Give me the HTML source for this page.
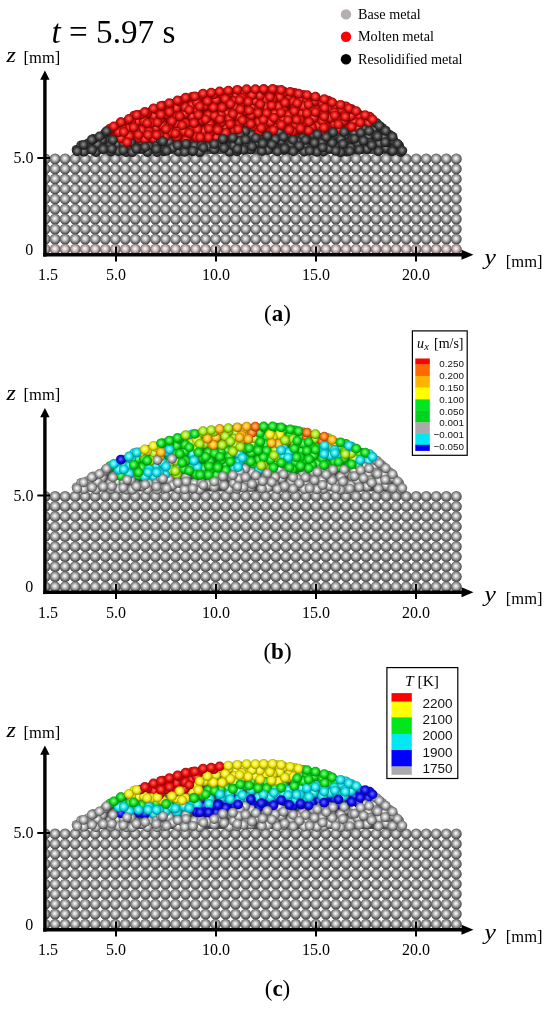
<!DOCTYPE html><html><head><meta charset="utf-8"><title>Figure</title><style>html,body{margin:0;padding:0;background:#fff}svg{display:block}</style></head><body><svg width="550" height="1009" viewBox="0 0 550 1009"><defs><clipPath id="cl"><rect x="45" y="140" width="430" height="120"/></clipPath><radialGradient id="sg" cx="0.48" cy="0.46" r="0.54" fx="0.46" fy="0.44"><stop offset="0" stop-color="#ffffff"/><stop offset="0.22" stop-color="#dcdcdc"/><stop offset="0.55" stop-color="#9c9c9c"/><stop offset="0.8" stop-color="#656565"/><stop offset="1" stop-color="#2e2e2e"/></radialGradient><radialGradient id="sh" cx="0.48" cy="0.46" r="0.54" fx="0.46" fy="0.44"><stop offset="0" stop-color="#ffffff"/><stop offset="0.22" stop-color="#e2e2e2"/><stop offset="0.55" stop-color="#acacac"/><stop offset="0.8" stop-color="#787878"/><stop offset="1" stop-color="#444444"/></radialGradient><radialGradient id="sp" cx="0.48" cy="0.46" r="0.54" fx="0.46" fy="0.44"><stop offset="0" stop-color="#ffffff"/><stop offset="0.22" stop-color="#e8e1e1"/><stop offset="0.55" stop-color="#bcaaaa"/><stop offset="0.8" stop-color="#7e6f6f"/><stop offset="1" stop-color="#403434"/></radialGradient><radialGradient id="sk" cx="0.48" cy="0.46" r="0.54" fx="0.46" fy="0.44"><stop offset="0" stop-color="#8e8e8e"/><stop offset="0.22" stop-color="#737373"/><stop offset="0.55" stop-color="#424242"/><stop offset="0.8" stop-color="#282828"/><stop offset="1" stop-color="#0e0e0e"/></radialGradient><radialGradient id="sR" cx="0.48" cy="0.46" r="0.54" fx="0.46" fy="0.44"><stop offset="0" stop-color="#ff6252"/><stop offset="0.22" stop-color="#f7463c"/><stop offset="0.55" stop-color="#e81212"/><stop offset="0.8" stop-color="#a40909"/><stop offset="1" stop-color="#600000"/></radialGradient><radialGradient id="sr" cx="0.48" cy="0.46" r="0.54" fx="0.46" fy="0.44"><stop offset="0" stop-color="#ff6a5a"/><stop offset="0.22" stop-color="#f94a40"/><stop offset="0.55" stop-color="#ee1010"/><stop offset="0.8" stop-color="#b70808"/><stop offset="1" stop-color="#800000"/></radialGradient><radialGradient id="sy" cx="0.48" cy="0.46" r="0.54" fx="0.46" fy="0.44"><stop offset="0" stop-color="#ffff9a"/><stop offset="0.22" stop-color="#faf86a"/><stop offset="0.55" stop-color="#f2ec10"/><stop offset="0.8" stop-color="#beb708"/><stop offset="1" stop-color="#8a8200"/></radialGradient><radialGradient id="sG" cx="0.48" cy="0.46" r="0.54" fx="0.46" fy="0.44"><stop offset="0" stop-color="#8aff8a"/><stop offset="0.22" stop-color="#5ff364"/><stop offset="0.55" stop-color="#10dc1c"/><stop offset="0.8" stop-color="#08ab12"/><stop offset="1" stop-color="#007a08"/></radialGradient><radialGradient id="sc" cx="0.48" cy="0.46" r="0.54" fx="0.46" fy="0.44"><stop offset="0" stop-color="#a8ffff"/><stop offset="0.22" stop-color="#74f4f8"/><stop offset="0.55" stop-color="#14e0ea"/><stop offset="0.8" stop-color="#0ab0ba"/><stop offset="1" stop-color="#00808a"/></radialGradient><radialGradient id="sb" cx="0.48" cy="0.46" r="0.54" fx="0.46" fy="0.44"><stop offset="0" stop-color="#6a6aff"/><stop offset="0.22" stop-color="#4a4af9"/><stop offset="0.55" stop-color="#1010ee"/><stop offset="0.8" stop-color="#0808b7"/><stop offset="1" stop-color="#000080"/></radialGradient><radialGradient id="sa" cx="0.48" cy="0.46" r="0.54" fx="0.46" fy="0.44"><stop offset="0" stop-color="#ffe890"/><stop offset="0.22" stop-color="#ffd763"/><stop offset="0.55" stop-color="#ffb810"/><stop offset="0.8" stop-color="#c48908"/><stop offset="1" stop-color="#8a5a00"/></radialGradient><radialGradient id="so" cx="0.48" cy="0.46" r="0.54" fx="0.46" fy="0.44"><stop offset="0" stop-color="#ffc08a"/><stop offset="0.22" stop-color="#ffa55f"/><stop offset="0.55" stop-color="#ff7410"/><stop offset="0.8" stop-color="#c45208"/><stop offset="1" stop-color="#8a3000"/></radialGradient><radialGradient id="sl" cx="0.48" cy="0.46" r="0.54" fx="0.46" fy="0.44"><stop offset="0" stop-color="#e4ff9a"/><stop offset="0.22" stop-color="#cef86a"/><stop offset="0.55" stop-color="#a6ea10"/><stop offset="0.8" stop-color="#78b208"/><stop offset="1" stop-color="#4a7a00"/></radialGradient></defs><rect width="550" height="1009" fill="#fff"/><g transform="translate(0,0)"><g clip-path="url(#cl)"><circle cx="45.1" cy="158.9" r="5.4" fill="url(#sg)"/><circle cx="55.1" cy="158.9" r="5.4" fill="url(#sg)"/><circle cx="65.1" cy="158.9" r="5.4" fill="url(#sg)"/><circle cx="75.2" cy="158.9" r="5.4" fill="url(#sg)"/><circle cx="85.2" cy="158.9" r="5.4" fill="url(#sg)"/><circle cx="95.2" cy="158.9" r="5.4" fill="url(#sg)"/><circle cx="105.3" cy="158.9" r="5.4" fill="url(#sg)"/><circle cx="115.3" cy="158.9" r="5.4" fill="url(#sg)"/><circle cx="125.3" cy="158.9" r="5.4" fill="url(#sg)"/><circle cx="135.3" cy="158.9" r="5.4" fill="url(#sg)"/><circle cx="145.4" cy="158.9" r="5.4" fill="url(#sg)"/><circle cx="155.4" cy="158.9" r="5.4" fill="url(#sg)"/><circle cx="165.4" cy="158.9" r="5.4" fill="url(#sg)"/><circle cx="175.5" cy="158.9" r="5.4" fill="url(#sg)"/><circle cx="185.5" cy="158.9" r="5.4" fill="url(#sg)"/><circle cx="195.5" cy="158.9" r="5.4" fill="url(#sg)"/><circle cx="205.6" cy="158.9" r="5.4" fill="url(#sg)"/><circle cx="215.6" cy="158.9" r="5.4" fill="url(#sg)"/><circle cx="225.6" cy="158.9" r="5.4" fill="url(#sg)"/><circle cx="235.6" cy="158.9" r="5.4" fill="url(#sg)"/><circle cx="245.7" cy="158.9" r="5.4" fill="url(#sg)"/><circle cx="255.7" cy="158.9" r="5.4" fill="url(#sg)"/><circle cx="265.7" cy="158.9" r="5.4" fill="url(#sg)"/><circle cx="275.8" cy="158.9" r="5.4" fill="url(#sg)"/><circle cx="285.8" cy="158.9" r="5.4" fill="url(#sg)"/><circle cx="295.8" cy="158.9" r="5.4" fill="url(#sg)"/><circle cx="305.9" cy="158.9" r="5.4" fill="url(#sg)"/><circle cx="315.9" cy="158.9" r="5.4" fill="url(#sg)"/><circle cx="325.9" cy="158.9" r="5.4" fill="url(#sg)"/><circle cx="335.9" cy="158.9" r="5.4" fill="url(#sg)"/><circle cx="346.0" cy="158.9" r="5.4" fill="url(#sg)"/><circle cx="356.0" cy="158.9" r="5.4" fill="url(#sg)"/><circle cx="366.0" cy="158.9" r="5.4" fill="url(#sg)"/><circle cx="376.1" cy="158.9" r="5.4" fill="url(#sg)"/><circle cx="386.1" cy="158.9" r="5.4" fill="url(#sg)"/><circle cx="396.1" cy="158.9" r="5.4" fill="url(#sg)"/><circle cx="406.2" cy="158.9" r="5.4" fill="url(#sg)"/><circle cx="416.2" cy="158.9" r="5.4" fill="url(#sg)"/><circle cx="426.2" cy="158.9" r="5.4" fill="url(#sg)"/><circle cx="436.2" cy="158.9" r="5.4" fill="url(#sg)"/><circle cx="446.3" cy="158.9" r="5.4" fill="url(#sg)"/><circle cx="456.3" cy="158.9" r="5.4" fill="url(#sg)"/><circle cx="45.1" cy="168.9" r="5.4" fill="url(#sg)"/><circle cx="55.1" cy="168.9" r="5.4" fill="url(#sg)"/><circle cx="65.1" cy="168.9" r="5.4" fill="url(#sg)"/><circle cx="75.2" cy="168.9" r="5.4" fill="url(#sg)"/><circle cx="85.2" cy="168.9" r="5.4" fill="url(#sg)"/><circle cx="95.2" cy="168.9" r="5.4" fill="url(#sg)"/><circle cx="105.3" cy="168.9" r="5.4" fill="url(#sg)"/><circle cx="115.3" cy="168.9" r="5.4" fill="url(#sg)"/><circle cx="125.3" cy="168.9" r="5.4" fill="url(#sg)"/><circle cx="135.3" cy="168.9" r="5.4" fill="url(#sg)"/><circle cx="145.4" cy="168.9" r="5.4" fill="url(#sg)"/><circle cx="155.4" cy="168.9" r="5.4" fill="url(#sg)"/><circle cx="165.4" cy="168.9" r="5.4" fill="url(#sg)"/><circle cx="175.5" cy="168.9" r="5.4" fill="url(#sg)"/><circle cx="185.5" cy="168.9" r="5.4" fill="url(#sg)"/><circle cx="195.5" cy="168.9" r="5.4" fill="url(#sg)"/><circle cx="205.6" cy="168.9" r="5.4" fill="url(#sg)"/><circle cx="215.6" cy="168.9" r="5.4" fill="url(#sg)"/><circle cx="225.6" cy="168.9" r="5.4" fill="url(#sg)"/><circle cx="235.6" cy="168.9" r="5.4" fill="url(#sg)"/><circle cx="245.7" cy="168.9" r="5.4" fill="url(#sg)"/><circle cx="255.7" cy="168.9" r="5.4" fill="url(#sg)"/><circle cx="265.7" cy="168.9" r="5.4" fill="url(#sg)"/><circle cx="275.8" cy="168.9" r="5.4" fill="url(#sg)"/><circle cx="285.8" cy="168.9" r="5.4" fill="url(#sg)"/><circle cx="295.8" cy="168.9" r="5.4" fill="url(#sg)"/><circle cx="305.9" cy="168.9" r="5.4" fill="url(#sg)"/><circle cx="315.9" cy="168.9" r="5.4" fill="url(#sg)"/><circle cx="325.9" cy="168.9" r="5.4" fill="url(#sg)"/><circle cx="335.9" cy="168.9" r="5.4" fill="url(#sg)"/><circle cx="346.0" cy="168.9" r="5.4" fill="url(#sg)"/><circle cx="356.0" cy="168.9" r="5.4" fill="url(#sg)"/><circle cx="366.0" cy="168.9" r="5.4" fill="url(#sg)"/><circle cx="376.1" cy="168.9" r="5.4" fill="url(#sg)"/><circle cx="386.1" cy="168.9" r="5.4" fill="url(#sg)"/><circle cx="396.1" cy="168.9" r="5.4" fill="url(#sg)"/><circle cx="406.2" cy="168.9" r="5.4" fill="url(#sg)"/><circle cx="416.2" cy="168.9" r="5.4" fill="url(#sg)"/><circle cx="426.2" cy="168.9" r="5.4" fill="url(#sg)"/><circle cx="436.2" cy="168.9" r="5.4" fill="url(#sg)"/><circle cx="446.3" cy="168.9" r="5.4" fill="url(#sg)"/><circle cx="456.3" cy="168.9" r="5.4" fill="url(#sg)"/><circle cx="45.1" cy="179.0" r="5.4" fill="url(#sg)"/><circle cx="55.1" cy="179.0" r="5.4" fill="url(#sg)"/><circle cx="65.1" cy="179.0" r="5.4" fill="url(#sg)"/><circle cx="75.2" cy="179.0" r="5.4" fill="url(#sg)"/><circle cx="85.2" cy="179.0" r="5.4" fill="url(#sg)"/><circle cx="95.2" cy="179.0" r="5.4" fill="url(#sg)"/><circle cx="105.3" cy="179.0" r="5.4" fill="url(#sg)"/><circle cx="115.3" cy="179.0" r="5.4" fill="url(#sg)"/><circle cx="125.3" cy="179.0" r="5.4" fill="url(#sg)"/><circle cx="135.3" cy="179.0" r="5.4" fill="url(#sg)"/><circle cx="145.4" cy="179.0" r="5.4" fill="url(#sg)"/><circle cx="155.4" cy="179.0" r="5.4" fill="url(#sg)"/><circle cx="165.4" cy="179.0" r="5.4" fill="url(#sg)"/><circle cx="175.5" cy="179.0" r="5.4" fill="url(#sg)"/><circle cx="185.5" cy="179.0" r="5.4" fill="url(#sg)"/><circle cx="195.5" cy="179.0" r="5.4" fill="url(#sg)"/><circle cx="205.6" cy="179.0" r="5.4" fill="url(#sg)"/><circle cx="215.6" cy="179.0" r="5.4" fill="url(#sg)"/><circle cx="225.6" cy="179.0" r="5.4" fill="url(#sg)"/><circle cx="235.6" cy="179.0" r="5.4" fill="url(#sg)"/><circle cx="245.7" cy="179.0" r="5.4" fill="url(#sg)"/><circle cx="255.7" cy="179.0" r="5.4" fill="url(#sg)"/><circle cx="265.7" cy="179.0" r="5.4" fill="url(#sg)"/><circle cx="275.8" cy="179.0" r="5.4" fill="url(#sg)"/><circle cx="285.8" cy="179.0" r="5.4" fill="url(#sg)"/><circle cx="295.8" cy="179.0" r="5.4" fill="url(#sg)"/><circle cx="305.9" cy="179.0" r="5.4" fill="url(#sg)"/><circle cx="315.9" cy="179.0" r="5.4" fill="url(#sg)"/><circle cx="325.9" cy="179.0" r="5.4" fill="url(#sg)"/><circle cx="335.9" cy="179.0" r="5.4" fill="url(#sg)"/><circle cx="346.0" cy="179.0" r="5.4" fill="url(#sg)"/><circle cx="356.0" cy="179.0" r="5.4" fill="url(#sg)"/><circle cx="366.0" cy="179.0" r="5.4" fill="url(#sg)"/><circle cx="376.1" cy="179.0" r="5.4" fill="url(#sg)"/><circle cx="386.1" cy="179.0" r="5.4" fill="url(#sg)"/><circle cx="396.1" cy="179.0" r="5.4" fill="url(#sg)"/><circle cx="406.2" cy="179.0" r="5.4" fill="url(#sg)"/><circle cx="416.2" cy="179.0" r="5.4" fill="url(#sg)"/><circle cx="426.2" cy="179.0" r="5.4" fill="url(#sg)"/><circle cx="436.2" cy="179.0" r="5.4" fill="url(#sg)"/><circle cx="446.3" cy="179.0" r="5.4" fill="url(#sg)"/><circle cx="456.3" cy="179.0" r="5.4" fill="url(#sg)"/><circle cx="45.1" cy="189.0" r="5.4" fill="url(#sg)"/><circle cx="55.1" cy="189.0" r="5.4" fill="url(#sg)"/><circle cx="65.1" cy="189.0" r="5.4" fill="url(#sg)"/><circle cx="75.2" cy="189.0" r="5.4" fill="url(#sg)"/><circle cx="85.2" cy="189.0" r="5.4" fill="url(#sg)"/><circle cx="95.2" cy="189.0" r="5.4" fill="url(#sg)"/><circle cx="105.3" cy="189.0" r="5.4" fill="url(#sg)"/><circle cx="115.3" cy="189.0" r="5.4" fill="url(#sg)"/><circle cx="125.3" cy="189.0" r="5.4" fill="url(#sg)"/><circle cx="135.3" cy="189.0" r="5.4" fill="url(#sg)"/><circle cx="145.4" cy="189.0" r="5.4" fill="url(#sg)"/><circle cx="155.4" cy="189.0" r="5.4" fill="url(#sg)"/><circle cx="165.4" cy="189.0" r="5.4" fill="url(#sg)"/><circle cx="175.5" cy="189.0" r="5.4" fill="url(#sg)"/><circle cx="185.5" cy="189.0" r="5.4" fill="url(#sg)"/><circle cx="195.5" cy="189.0" r="5.4" fill="url(#sg)"/><circle cx="205.6" cy="189.0" r="5.4" fill="url(#sg)"/><circle cx="215.6" cy="189.0" r="5.4" fill="url(#sg)"/><circle cx="225.6" cy="189.0" r="5.4" fill="url(#sg)"/><circle cx="235.6" cy="189.0" r="5.4" fill="url(#sg)"/><circle cx="245.7" cy="189.0" r="5.4" fill="url(#sg)"/><circle cx="255.7" cy="189.0" r="5.4" fill="url(#sg)"/><circle cx="265.7" cy="189.0" r="5.4" fill="url(#sg)"/><circle cx="275.8" cy="189.0" r="5.4" fill="url(#sg)"/><circle cx="285.8" cy="189.0" r="5.4" fill="url(#sg)"/><circle cx="295.8" cy="189.0" r="5.4" fill="url(#sg)"/><circle cx="305.9" cy="189.0" r="5.4" fill="url(#sg)"/><circle cx="315.9" cy="189.0" r="5.4" fill="url(#sg)"/><circle cx="325.9" cy="189.0" r="5.4" fill="url(#sg)"/><circle cx="335.9" cy="189.0" r="5.4" fill="url(#sg)"/><circle cx="346.0" cy="189.0" r="5.4" fill="url(#sg)"/><circle cx="356.0" cy="189.0" r="5.4" fill="url(#sg)"/><circle cx="366.0" cy="189.0" r="5.4" fill="url(#sg)"/><circle cx="376.1" cy="189.0" r="5.4" fill="url(#sg)"/><circle cx="386.1" cy="189.0" r="5.4" fill="url(#sg)"/><circle cx="396.1" cy="189.0" r="5.4" fill="url(#sg)"/><circle cx="406.2" cy="189.0" r="5.4" fill="url(#sg)"/><circle cx="416.2" cy="189.0" r="5.4" fill="url(#sg)"/><circle cx="426.2" cy="189.0" r="5.4" fill="url(#sg)"/><circle cx="436.2" cy="189.0" r="5.4" fill="url(#sg)"/><circle cx="446.3" cy="189.0" r="5.4" fill="url(#sg)"/><circle cx="456.3" cy="189.0" r="5.4" fill="url(#sg)"/><circle cx="45.1" cy="199.0" r="5.4" fill="url(#sg)"/><circle cx="55.1" cy="199.0" r="5.4" fill="url(#sg)"/><circle cx="65.1" cy="199.0" r="5.4" fill="url(#sg)"/><circle cx="75.2" cy="199.0" r="5.4" fill="url(#sg)"/><circle cx="85.2" cy="199.0" r="5.4" fill="url(#sg)"/><circle cx="95.2" cy="199.0" r="5.4" fill="url(#sg)"/><circle cx="105.3" cy="199.0" r="5.4" fill="url(#sg)"/><circle cx="115.3" cy="199.0" r="5.4" fill="url(#sg)"/><circle cx="125.3" cy="199.0" r="5.4" fill="url(#sg)"/><circle cx="135.3" cy="199.0" r="5.4" fill="url(#sg)"/><circle cx="145.4" cy="199.0" r="5.4" fill="url(#sg)"/><circle cx="155.4" cy="199.0" r="5.4" fill="url(#sg)"/><circle cx="165.4" cy="199.0" r="5.4" fill="url(#sg)"/><circle cx="175.5" cy="199.0" r="5.4" fill="url(#sg)"/><circle cx="185.5" cy="199.0" r="5.4" fill="url(#sg)"/><circle cx="195.5" cy="199.0" r="5.4" fill="url(#sg)"/><circle cx="205.6" cy="199.0" r="5.4" fill="url(#sg)"/><circle cx="215.6" cy="199.0" r="5.4" fill="url(#sg)"/><circle cx="225.6" cy="199.0" r="5.4" fill="url(#sg)"/><circle cx="235.6" cy="199.0" r="5.4" fill="url(#sg)"/><circle cx="245.7" cy="199.0" r="5.4" fill="url(#sg)"/><circle cx="255.7" cy="199.0" r="5.4" fill="url(#sg)"/><circle cx="265.7" cy="199.0" r="5.4" fill="url(#sg)"/><circle cx="275.8" cy="199.0" r="5.4" fill="url(#sg)"/><circle cx="285.8" cy="199.0" r="5.4" fill="url(#sg)"/><circle cx="295.8" cy="199.0" r="5.4" fill="url(#sg)"/><circle cx="305.9" cy="199.0" r="5.4" fill="url(#sg)"/><circle cx="315.9" cy="199.0" r="5.4" fill="url(#sg)"/><circle cx="325.9" cy="199.0" r="5.4" fill="url(#sg)"/><circle cx="335.9" cy="199.0" r="5.4" fill="url(#sg)"/><circle cx="346.0" cy="199.0" r="5.4" fill="url(#sg)"/><circle cx="356.0" cy="199.0" r="5.4" fill="url(#sg)"/><circle cx="366.0" cy="199.0" r="5.4" fill="url(#sg)"/><circle cx="376.1" cy="199.0" r="5.4" fill="url(#sg)"/><circle cx="386.1" cy="199.0" r="5.4" fill="url(#sg)"/><circle cx="396.1" cy="199.0" r="5.4" fill="url(#sg)"/><circle cx="406.2" cy="199.0" r="5.4" fill="url(#sg)"/><circle cx="416.2" cy="199.0" r="5.4" fill="url(#sg)"/><circle cx="426.2" cy="199.0" r="5.4" fill="url(#sg)"/><circle cx="436.2" cy="199.0" r="5.4" fill="url(#sg)"/><circle cx="446.3" cy="199.0" r="5.4" fill="url(#sg)"/><circle cx="456.3" cy="199.0" r="5.4" fill="url(#sg)"/><circle cx="45.1" cy="209.1" r="5.4" fill="url(#sg)"/><circle cx="55.1" cy="209.1" r="5.4" fill="url(#sg)"/><circle cx="65.1" cy="209.1" r="5.4" fill="url(#sg)"/><circle cx="75.2" cy="209.1" r="5.4" fill="url(#sg)"/><circle cx="85.2" cy="209.1" r="5.4" fill="url(#sg)"/><circle cx="95.2" cy="209.1" r="5.4" fill="url(#sg)"/><circle cx="105.3" cy="209.1" r="5.4" fill="url(#sg)"/><circle cx="115.3" cy="209.1" r="5.4" fill="url(#sg)"/><circle cx="125.3" cy="209.1" r="5.4" fill="url(#sg)"/><circle cx="135.3" cy="209.1" r="5.4" fill="url(#sg)"/><circle cx="145.4" cy="209.1" r="5.4" fill="url(#sg)"/><circle cx="155.4" cy="209.1" r="5.4" fill="url(#sg)"/><circle cx="165.4" cy="209.1" r="5.4" fill="url(#sg)"/><circle cx="175.5" cy="209.1" r="5.4" fill="url(#sg)"/><circle cx="185.5" cy="209.1" r="5.4" fill="url(#sg)"/><circle cx="195.5" cy="209.1" r="5.4" fill="url(#sg)"/><circle cx="205.6" cy="209.1" r="5.4" fill="url(#sg)"/><circle cx="215.6" cy="209.1" r="5.4" fill="url(#sg)"/><circle cx="225.6" cy="209.1" r="5.4" fill="url(#sg)"/><circle cx="235.6" cy="209.1" r="5.4" fill="url(#sg)"/><circle cx="245.7" cy="209.1" r="5.4" fill="url(#sg)"/><circle cx="255.7" cy="209.1" r="5.4" fill="url(#sg)"/><circle cx="265.7" cy="209.1" r="5.4" fill="url(#sg)"/><circle cx="275.8" cy="209.1" r="5.4" fill="url(#sg)"/><circle cx="285.8" cy="209.1" r="5.4" fill="url(#sg)"/><circle cx="295.8" cy="209.1" r="5.4" fill="url(#sg)"/><circle cx="305.9" cy="209.1" r="5.4" fill="url(#sg)"/><circle cx="315.9" cy="209.1" r="5.4" fill="url(#sg)"/><circle cx="325.9" cy="209.1" r="5.4" fill="url(#sg)"/><circle cx="335.9" cy="209.1" r="5.4" fill="url(#sg)"/><circle cx="346.0" cy="209.1" r="5.4" fill="url(#sg)"/><circle cx="356.0" cy="209.1" r="5.4" fill="url(#sg)"/><circle cx="366.0" cy="209.1" r="5.4" fill="url(#sg)"/><circle cx="376.1" cy="209.1" r="5.4" fill="url(#sg)"/><circle cx="386.1" cy="209.1" r="5.4" fill="url(#sg)"/><circle cx="396.1" cy="209.1" r="5.4" fill="url(#sg)"/><circle cx="406.2" cy="209.1" r="5.4" fill="url(#sg)"/><circle cx="416.2" cy="209.1" r="5.4" fill="url(#sg)"/><circle cx="426.2" cy="209.1" r="5.4" fill="url(#sg)"/><circle cx="436.2" cy="209.1" r="5.4" fill="url(#sg)"/><circle cx="446.3" cy="209.1" r="5.4" fill="url(#sg)"/><circle cx="456.3" cy="209.1" r="5.4" fill="url(#sg)"/><circle cx="45.1" cy="219.1" r="5.4" fill="url(#sg)"/><circle cx="55.1" cy="219.1" r="5.4" fill="url(#sg)"/><circle cx="65.1" cy="219.1" r="5.4" fill="url(#sg)"/><circle cx="75.2" cy="219.1" r="5.4" fill="url(#sg)"/><circle cx="85.2" cy="219.1" r="5.4" fill="url(#sg)"/><circle cx="95.2" cy="219.1" r="5.4" fill="url(#sg)"/><circle cx="105.3" cy="219.1" r="5.4" fill="url(#sg)"/><circle cx="115.3" cy="219.1" r="5.4" fill="url(#sg)"/><circle cx="125.3" cy="219.1" r="5.4" fill="url(#sg)"/><circle cx="135.3" cy="219.1" r="5.4" fill="url(#sg)"/><circle cx="145.4" cy="219.1" r="5.4" fill="url(#sg)"/><circle cx="155.4" cy="219.1" r="5.4" fill="url(#sg)"/><circle cx="165.4" cy="219.1" r="5.4" fill="url(#sg)"/><circle cx="175.5" cy="219.1" r="5.4" fill="url(#sg)"/><circle cx="185.5" cy="219.1" r="5.4" fill="url(#sg)"/><circle cx="195.5" cy="219.1" r="5.4" fill="url(#sg)"/><circle cx="205.6" cy="219.1" r="5.4" fill="url(#sg)"/><circle cx="215.6" cy="219.1" r="5.4" fill="url(#sg)"/><circle cx="225.6" cy="219.1" r="5.4" fill="url(#sg)"/><circle cx="235.6" cy="219.1" r="5.4" fill="url(#sg)"/><circle cx="245.7" cy="219.1" r="5.4" fill="url(#sg)"/><circle cx="255.7" cy="219.1" r="5.4" fill="url(#sg)"/><circle cx="265.7" cy="219.1" r="5.4" fill="url(#sg)"/><circle cx="275.8" cy="219.1" r="5.4" fill="url(#sg)"/><circle cx="285.8" cy="219.1" r="5.4" fill="url(#sg)"/><circle cx="295.8" cy="219.1" r="5.4" fill="url(#sg)"/><circle cx="305.9" cy="219.1" r="5.4" fill="url(#sg)"/><circle cx="315.9" cy="219.1" r="5.4" fill="url(#sg)"/><circle cx="325.9" cy="219.1" r="5.4" fill="url(#sg)"/><circle cx="335.9" cy="219.1" r="5.4" fill="url(#sg)"/><circle cx="346.0" cy="219.1" r="5.4" fill="url(#sg)"/><circle cx="356.0" cy="219.1" r="5.4" fill="url(#sg)"/><circle cx="366.0" cy="219.1" r="5.4" fill="url(#sg)"/><circle cx="376.1" cy="219.1" r="5.4" fill="url(#sg)"/><circle cx="386.1" cy="219.1" r="5.4" fill="url(#sg)"/><circle cx="396.1" cy="219.1" r="5.4" fill="url(#sg)"/><circle cx="406.2" cy="219.1" r="5.4" fill="url(#sg)"/><circle cx="416.2" cy="219.1" r="5.4" fill="url(#sg)"/><circle cx="426.2" cy="219.1" r="5.4" fill="url(#sg)"/><circle cx="436.2" cy="219.1" r="5.4" fill="url(#sg)"/><circle cx="446.3" cy="219.1" r="5.4" fill="url(#sg)"/><circle cx="456.3" cy="219.1" r="5.4" fill="url(#sg)"/><circle cx="45.1" cy="229.1" r="5.4" fill="url(#sg)"/><circle cx="55.1" cy="229.1" r="5.4" fill="url(#sg)"/><circle cx="65.1" cy="229.1" r="5.4" fill="url(#sg)"/><circle cx="75.2" cy="229.1" r="5.4" fill="url(#sg)"/><circle cx="85.2" cy="229.1" r="5.4" fill="url(#sg)"/><circle cx="95.2" cy="229.1" r="5.4" fill="url(#sg)"/><circle cx="105.3" cy="229.1" r="5.4" fill="url(#sg)"/><circle cx="115.3" cy="229.1" r="5.4" fill="url(#sg)"/><circle cx="125.3" cy="229.1" r="5.4" fill="url(#sg)"/><circle cx="135.3" cy="229.1" r="5.4" fill="url(#sg)"/><circle cx="145.4" cy="229.1" r="5.4" fill="url(#sg)"/><circle cx="155.4" cy="229.1" r="5.4" fill="url(#sg)"/><circle cx="165.4" cy="229.1" r="5.4" fill="url(#sg)"/><circle cx="175.5" cy="229.1" r="5.4" fill="url(#sg)"/><circle cx="185.5" cy="229.1" r="5.4" fill="url(#sg)"/><circle cx="195.5" cy="229.1" r="5.4" fill="url(#sg)"/><circle cx="205.6" cy="229.1" r="5.4" fill="url(#sg)"/><circle cx="215.6" cy="229.1" r="5.4" fill="url(#sg)"/><circle cx="225.6" cy="229.1" r="5.4" fill="url(#sg)"/><circle cx="235.6" cy="229.1" r="5.4" fill="url(#sg)"/><circle cx="245.7" cy="229.1" r="5.4" fill="url(#sg)"/><circle cx="255.7" cy="229.1" r="5.4" fill="url(#sg)"/><circle cx="265.7" cy="229.1" r="5.4" fill="url(#sg)"/><circle cx="275.8" cy="229.1" r="5.4" fill="url(#sg)"/><circle cx="285.8" cy="229.1" r="5.4" fill="url(#sg)"/><circle cx="295.8" cy="229.1" r="5.4" fill="url(#sg)"/><circle cx="305.9" cy="229.1" r="5.4" fill="url(#sg)"/><circle cx="315.9" cy="229.1" r="5.4" fill="url(#sg)"/><circle cx="325.9" cy="229.1" r="5.4" fill="url(#sg)"/><circle cx="335.9" cy="229.1" r="5.4" fill="url(#sg)"/><circle cx="346.0" cy="229.1" r="5.4" fill="url(#sg)"/><circle cx="356.0" cy="229.1" r="5.4" fill="url(#sg)"/><circle cx="366.0" cy="229.1" r="5.4" fill="url(#sg)"/><circle cx="376.1" cy="229.1" r="5.4" fill="url(#sg)"/><circle cx="386.1" cy="229.1" r="5.4" fill="url(#sg)"/><circle cx="396.1" cy="229.1" r="5.4" fill="url(#sg)"/><circle cx="406.2" cy="229.1" r="5.4" fill="url(#sg)"/><circle cx="416.2" cy="229.1" r="5.4" fill="url(#sg)"/><circle cx="426.2" cy="229.1" r="5.4" fill="url(#sg)"/><circle cx="436.2" cy="229.1" r="5.4" fill="url(#sg)"/><circle cx="446.3" cy="229.1" r="5.4" fill="url(#sg)"/><circle cx="456.3" cy="229.1" r="5.4" fill="url(#sg)"/><circle cx="45.1" cy="239.1" r="5.4" fill="url(#sg)"/><circle cx="55.1" cy="239.1" r="5.4" fill="url(#sg)"/><circle cx="65.1" cy="239.1" r="5.4" fill="url(#sg)"/><circle cx="75.2" cy="239.1" r="5.4" fill="url(#sg)"/><circle cx="85.2" cy="239.1" r="5.4" fill="url(#sg)"/><circle cx="95.2" cy="239.1" r="5.4" fill="url(#sg)"/><circle cx="105.3" cy="239.1" r="5.4" fill="url(#sg)"/><circle cx="115.3" cy="239.1" r="5.4" fill="url(#sg)"/><circle cx="125.3" cy="239.1" r="5.4" fill="url(#sg)"/><circle cx="135.3" cy="239.1" r="5.4" fill="url(#sg)"/><circle cx="145.4" cy="239.1" r="5.4" fill="url(#sg)"/><circle cx="155.4" cy="239.1" r="5.4" fill="url(#sg)"/><circle cx="165.4" cy="239.1" r="5.4" fill="url(#sg)"/><circle cx="175.5" cy="239.1" r="5.4" fill="url(#sg)"/><circle cx="185.5" cy="239.1" r="5.4" fill="url(#sg)"/><circle cx="195.5" cy="239.1" r="5.4" fill="url(#sg)"/><circle cx="205.6" cy="239.1" r="5.4" fill="url(#sg)"/><circle cx="215.6" cy="239.1" r="5.4" fill="url(#sg)"/><circle cx="225.6" cy="239.1" r="5.4" fill="url(#sg)"/><circle cx="235.6" cy="239.1" r="5.4" fill="url(#sg)"/><circle cx="245.7" cy="239.1" r="5.4" fill="url(#sg)"/><circle cx="255.7" cy="239.1" r="5.4" fill="url(#sg)"/><circle cx="265.7" cy="239.1" r="5.4" fill="url(#sg)"/><circle cx="275.8" cy="239.1" r="5.4" fill="url(#sg)"/><circle cx="285.8" cy="239.1" r="5.4" fill="url(#sg)"/><circle cx="295.8" cy="239.1" r="5.4" fill="url(#sg)"/><circle cx="305.9" cy="239.1" r="5.4" fill="url(#sg)"/><circle cx="315.9" cy="239.1" r="5.4" fill="url(#sg)"/><circle cx="325.9" cy="239.1" r="5.4" fill="url(#sg)"/><circle cx="335.9" cy="239.1" r="5.4" fill="url(#sg)"/><circle cx="346.0" cy="239.1" r="5.4" fill="url(#sg)"/><circle cx="356.0" cy="239.1" r="5.4" fill="url(#sg)"/><circle cx="366.0" cy="239.1" r="5.4" fill="url(#sg)"/><circle cx="376.1" cy="239.1" r="5.4" fill="url(#sg)"/><circle cx="386.1" cy="239.1" r="5.4" fill="url(#sg)"/><circle cx="396.1" cy="239.1" r="5.4" fill="url(#sg)"/><circle cx="406.2" cy="239.1" r="5.4" fill="url(#sg)"/><circle cx="416.2" cy="239.1" r="5.4" fill="url(#sg)"/><circle cx="426.2" cy="239.1" r="5.4" fill="url(#sg)"/><circle cx="436.2" cy="239.1" r="5.4" fill="url(#sg)"/><circle cx="446.3" cy="239.1" r="5.4" fill="url(#sg)"/><circle cx="456.3" cy="239.1" r="5.4" fill="url(#sg)"/><circle cx="45.1" cy="249.2" r="5.4" fill="url(#sp)"/><circle cx="55.1" cy="249.2" r="5.4" fill="url(#sp)"/><circle cx="65.1" cy="249.2" r="5.4" fill="url(#sp)"/><circle cx="75.2" cy="249.2" r="5.4" fill="url(#sp)"/><circle cx="85.2" cy="249.2" r="5.4" fill="url(#sp)"/><circle cx="95.2" cy="249.2" r="5.4" fill="url(#sp)"/><circle cx="105.3" cy="249.2" r="5.4" fill="url(#sp)"/><circle cx="115.3" cy="249.2" r="5.4" fill="url(#sp)"/><circle cx="125.3" cy="249.2" r="5.4" fill="url(#sp)"/><circle cx="135.3" cy="249.2" r="5.4" fill="url(#sp)"/><circle cx="145.4" cy="249.2" r="5.4" fill="url(#sp)"/><circle cx="155.4" cy="249.2" r="5.4" fill="url(#sp)"/><circle cx="165.4" cy="249.2" r="5.4" fill="url(#sp)"/><circle cx="175.5" cy="249.2" r="5.4" fill="url(#sp)"/><circle cx="185.5" cy="249.2" r="5.4" fill="url(#sp)"/><circle cx="195.5" cy="249.2" r="5.4" fill="url(#sp)"/><circle cx="205.6" cy="249.2" r="5.4" fill="url(#sp)"/><circle cx="215.6" cy="249.2" r="5.4" fill="url(#sp)"/><circle cx="225.6" cy="249.2" r="5.4" fill="url(#sp)"/><circle cx="235.6" cy="249.2" r="5.4" fill="url(#sp)"/><circle cx="245.7" cy="249.2" r="5.4" fill="url(#sp)"/><circle cx="255.7" cy="249.2" r="5.4" fill="url(#sp)"/><circle cx="265.7" cy="249.2" r="5.4" fill="url(#sp)"/><circle cx="275.8" cy="249.2" r="5.4" fill="url(#sp)"/><circle cx="285.8" cy="249.2" r="5.4" fill="url(#sp)"/><circle cx="295.8" cy="249.2" r="5.4" fill="url(#sp)"/><circle cx="305.9" cy="249.2" r="5.4" fill="url(#sp)"/><circle cx="315.9" cy="249.2" r="5.4" fill="url(#sp)"/><circle cx="325.9" cy="249.2" r="5.4" fill="url(#sp)"/><circle cx="335.9" cy="249.2" r="5.4" fill="url(#sp)"/><circle cx="346.0" cy="249.2" r="5.4" fill="url(#sp)"/><circle cx="356.0" cy="249.2" r="5.4" fill="url(#sp)"/><circle cx="366.0" cy="249.2" r="5.4" fill="url(#sp)"/><circle cx="376.1" cy="249.2" r="5.4" fill="url(#sp)"/><circle cx="386.1" cy="249.2" r="5.4" fill="url(#sp)"/><circle cx="396.1" cy="249.2" r="5.4" fill="url(#sp)"/><circle cx="406.2" cy="249.2" r="5.4" fill="url(#sp)"/><circle cx="416.2" cy="249.2" r="5.4" fill="url(#sp)"/><circle cx="426.2" cy="249.2" r="5.4" fill="url(#sp)"/><circle cx="436.2" cy="249.2" r="5.4" fill="url(#sp)"/><circle cx="446.3" cy="249.2" r="5.4" fill="url(#sp)"/><circle cx="456.3" cy="249.2" r="5.4" fill="url(#sp)"/></g><path d="M74.0 149.9 L77.0 146.9 L80.0 143.9 L83.0 142.0 L86.0 140.4 L89.0 138.7 L92.0 137.0 L95.0 135.3 L98.0 133.6 L101.0 131.5 L104.0 129.4 L107.0 127.3 L110.0 125.2 L113.0 123.5 L116.0 122.0 L119.0 120.4 L122.0 118.9 L125.0 117.4 L128.0 115.9 L131.0 114.6 L134.0 113.3 L137.0 112.1 L140.0 110.8 L143.0 109.6 L146.0 108.5 L149.0 107.4 L152.0 106.4 L155.0 105.3 L158.0 104.2 L161.0 103.2 L164.0 102.1 L167.0 101.0 L170.0 100.0 L173.0 98.9 L176.0 97.8 L179.0 96.7 L182.0 96.0 L185.0 95.4 L188.0 94.8 L191.0 94.2 L194.0 93.5 L197.0 92.9 L200.0 92.3 L203.0 91.8 L206.0 91.2 L209.0 90.7 L212.0 90.1 L215.0 89.6 L218.0 89.3 L221.0 89.0 L224.0 88.7 L227.0 88.5 L230.0 88.2 L233.0 87.9 L236.0 87.6 L239.0 87.4 L242.0 87.2 L245.0 87.1 L248.0 87.0 L251.0 86.9 L254.0 86.8 L257.0 86.7 L260.0 86.6 L263.0 86.5 L266.0 86.4 L269.0 86.4 L272.0 86.8 L275.0 87.2 L278.0 87.5 L281.0 87.9 L284.0 88.3 L287.0 88.7 L290.0 89.0 L293.0 89.5 L296.0 90.2 L299.0 90.8 L302.0 91.5 L305.0 92.2 L308.0 92.8 L311.0 93.5 L314.0 94.1 L317.0 94.8 L320.0 95.7 L323.0 96.5 L326.0 97.4 L329.0 98.2 L332.0 99.2 L335.0 100.3 L338.0 101.4 L341.0 102.5 L344.0 103.6 L347.0 104.7 L350.0 105.9 L353.0 107.1 L356.0 108.3 L359.0 109.5 L362.0 110.7 L365.0 111.9 L368.0 113.1 L371.0 114.3 L374.0 117.0 L377.0 119.6 L380.0 122.3 L383.0 124.9 L386.0 127.4 L389.0 129.8 L392.0 132.3 L395.0 134.8 L398.0 138.4 L401.0 142.9 L402 154 L74 154Z" fill="#484848"/><path d="M110.0 125.2 L113.0 123.5 L116.0 122.0 L119.0 120.4 L122.0 118.9 L125.0 117.4 L128.0 115.9 L131.0 114.6 L134.0 113.3 L137.0 112.1 L140.0 110.8 L143.0 109.6 L146.0 108.5 L149.0 107.4 L152.0 106.4 L155.0 105.3 L158.0 104.2 L161.0 103.2 L164.0 102.1 L167.0 101.0 L170.0 100.0 L173.0 98.9 L176.0 97.8 L179.0 96.7 L182.0 96.0 L185.0 95.4 L188.0 94.8 L191.0 94.2 L194.0 93.5 L197.0 92.9 L200.0 92.3 L203.0 91.8 L206.0 91.2 L209.0 90.7 L212.0 90.1 L215.0 89.6 L218.0 89.3 L221.0 89.0 L224.0 88.7 L227.0 88.5 L230.0 88.2 L233.0 87.9 L236.0 87.6 L239.0 87.4 L242.0 87.2 L245.0 87.1 L248.0 87.0 L251.0 86.9 L254.0 86.8 L257.0 86.7 L260.0 86.6 L263.0 86.5 L266.0 86.4 L269.0 86.4 L272.0 86.8 L275.0 87.2 L278.0 87.5 L281.0 87.9 L284.0 88.3 L287.0 88.7 L290.0 89.0 L293.0 89.5 L296.0 90.2 L299.0 90.8 L302.0 91.5 L305.0 92.2 L308.0 92.8 L311.0 93.5 L314.0 94.1 L317.0 94.8 L320.0 95.7 L323.0 96.5 L326.0 97.4 L329.0 98.2 L332.0 99.2 L335.0 100.3 L338.0 101.4 L341.0 102.5 L344.0 103.6 L347.0 104.7 L350.0 105.9 L353.0 107.1 L356.0 108.3 L359.0 109.5 L362.0 110.7 L365.0 111.9 L368.0 113.1 L371.0 114.3 L374.0 117.0 L374.0 121.5 L371.0 129.0 L368.0 129.2 L365.0 129.3 L362.0 129.5 L359.0 129.7 L356.0 129.9 L353.0 130.1 L350.0 130.3 L347.0 130.5 L344.0 130.7 L341.0 130.8 L338.0 131.0 L335.0 131.2 L332.0 131.3 L329.0 131.5 L326.0 131.7 L323.0 131.8 L320.0 132.0 L317.0 132.7 L314.0 133.4 L311.0 134.1 L308.0 134.9 L305.0 135.6 L302.0 135.7 L299.0 135.7 L296.0 135.7 L293.0 135.7 L290.0 135.1 L287.0 134.3 L284.0 133.4 L281.0 132.6 L278.0 132.2 L275.0 132.7 L272.0 133.3 L269.0 133.8 L266.0 134.4 L263.0 133.7 L260.0 133.0 L257.0 132.3 L254.0 131.6 L251.0 131.0 L248.0 130.7 L245.0 131.2 L242.0 131.8 L239.0 132.2 L236.0 132.5 L233.0 132.8 L230.0 133.1 L227.0 133.4 L224.0 135.2 L221.0 136.9 L218.0 138.7 L215.0 140.5 L212.0 140.3 L209.0 140.2 L206.0 140.1 L203.0 140.1 L200.0 140.2 L197.0 140.4 L194.0 140.5 L191.0 140.7 L188.0 140.8 L185.0 141.0 L182.0 141.0 L179.0 141.0 L176.0 141.0 L173.0 141.0 L170.0 141.0 L167.0 141.0 L164.0 141.0 L161.0 141.0 L158.0 141.1 L155.0 141.3 L152.0 141.4 L149.0 141.5 L146.0 141.6 L143.0 141.7 L140.0 141.9 L137.0 142.0 L134.0 142.2 L131.0 142.5 L128.0 142.7 L125.0 143.0 L122.0 143.2 L119.0 142.2 L116.0 140.6 L113.0 139.0 L110.0 134.8Z" fill="#8a0404"/><circle cx="102.2" cy="140.0" r="4.9" fill="url(#sk)"/><circle cx="331.6" cy="141.0" r="4.9" fill="url(#sk)"/><circle cx="389.8" cy="135.0" r="4.9" fill="url(#sk)"/><circle cx="168.6" cy="126.7" r="4.9" fill="url(#sR)"/><circle cx="170.1" cy="132.6" r="4.9" fill="url(#sR)"/><circle cx="229.5" cy="151.9" r="4.9" fill="url(#sk)"/><circle cx="231.9" cy="125.1" r="4.9" fill="url(#sR)"/><circle cx="250.7" cy="149.5" r="4.9" fill="url(#sk)"/><circle cx="362.9" cy="139.0" r="4.9" fill="url(#sk)"/><circle cx="247.4" cy="122.6" r="4.9" fill="url(#sR)"/><circle cx="225.6" cy="126.7" r="4.9" fill="url(#sR)"/><circle cx="223.5" cy="147.0" r="4.9" fill="url(#sk)"/><circle cx="263.3" cy="127.2" r="4.9" fill="url(#sR)"/><circle cx="211.0" cy="140.8" r="4.9" fill="url(#sk)"/><circle cx="203.8" cy="131.1" r="4.9" fill="url(#sR)"/><circle cx="318.3" cy="125.8" r="4.9" fill="url(#sR)"/><circle cx="271.1" cy="131.7" r="4.9" fill="url(#sR)"/><circle cx="169.2" cy="141.9" r="4.9" fill="url(#sk)"/><circle cx="314.1" cy="141.0" r="4.9" fill="url(#sk)"/><circle cx="290.2" cy="121.7" r="4.9" fill="url(#sR)"/><circle cx="314.4" cy="101.3" r="4.9" fill="url(#sR)"/><circle cx="192.3" cy="116.3" r="4.9" fill="url(#sR)"/><circle cx="260.8" cy="102.2" r="4.9" fill="url(#sR)"/><circle cx="235.5" cy="94.8" r="4.9" fill="url(#sR)"/><circle cx="234.4" cy="101.1" r="4.9" fill="url(#sR)"/><circle cx="115.7" cy="126.6" r="4.9" fill="url(#sR)"/><circle cx="216.1" cy="99.9" r="4.9" fill="url(#sR)"/><circle cx="141.6" cy="130.0" r="4.9" fill="url(#sR)"/><circle cx="345.3" cy="134.9" r="4.9" fill="url(#sk)"/><circle cx="362.5" cy="120.6" r="4.9" fill="url(#sR)"/><circle cx="246.6" cy="142.9" r="4.9" fill="url(#sk)"/><circle cx="135.6" cy="130.1" r="4.9" fill="url(#sR)"/><circle cx="234.7" cy="130.6" r="4.9" fill="url(#sR)"/><circle cx="368.3" cy="123.0" r="4.9" fill="url(#sR)"/><circle cx="96.1" cy="152.0" r="4.9" fill="url(#sk)"/><circle cx="400.8" cy="152.0" r="4.9" fill="url(#sk)"/><circle cx="368.5" cy="136.7" r="4.9" fill="url(#sk)"/><circle cx="154.3" cy="116.0" r="4.9" fill="url(#sR)"/><circle cx="378.9" cy="150.3" r="4.9" fill="url(#sk)"/><circle cx="177.6" cy="130.2" r="4.9" fill="url(#sR)"/><circle cx="325.9" cy="126.9" r="4.9" fill="url(#sR)"/><circle cx="292.6" cy="131.4" r="4.9" fill="url(#sR)"/><circle cx="279.4" cy="131.9" r="4.9" fill="url(#sk)"/><circle cx="191.5" cy="130.8" r="4.9" fill="url(#sR)"/><circle cx="255.2" cy="90.1" r="4.9" fill="url(#sR)"/><circle cx="252.8" cy="126.3" r="4.9" fill="url(#sR)"/><circle cx="123.9" cy="129.0" r="4.9" fill="url(#sR)"/><circle cx="138.3" cy="137.8" r="4.9" fill="url(#sR)"/><circle cx="364.1" cy="129.2" r="4.9" fill="url(#sk)"/><circle cx="287.0" cy="102.9" r="4.9" fill="url(#sR)"/><circle cx="156.2" cy="127.8" r="4.9" fill="url(#sR)"/><circle cx="379.3" cy="143.4" r="4.9" fill="url(#sk)"/><circle cx="333.1" cy="130.7" r="4.9" fill="url(#sR)"/><circle cx="216.2" cy="137.5" r="4.9" fill="url(#sR)"/><circle cx="271.6" cy="105.4" r="4.9" fill="url(#sR)"/><circle cx="185.9" cy="140.0" r="4.9" fill="url(#sR)"/><circle cx="185.5" cy="123.3" r="4.9" fill="url(#sR)"/><circle cx="339.2" cy="129.3" r="4.9" fill="url(#sR)"/><circle cx="289.5" cy="96.1" r="4.9" fill="url(#sR)"/><circle cx="226.7" cy="113.0" r="4.9" fill="url(#sR)"/><circle cx="232.0" cy="139.9" r="4.9" fill="url(#sk)"/><circle cx="294.7" cy="93.0" r="4.9" fill="url(#sR)"/><circle cx="176.3" cy="123.3" r="4.9" fill="url(#sR)"/><circle cx="109.9" cy="128.6" r="4.9" fill="url(#sR)"/><circle cx="176.5" cy="108.2" r="4.9" fill="url(#sR)"/><circle cx="295.6" cy="114.3" r="4.9" fill="url(#sR)"/><circle cx="221.5" cy="93.5" r="4.9" fill="url(#sR)"/><circle cx="208.4" cy="115.1" r="4.9" fill="url(#sR)"/><circle cx="346.0" cy="106.5" r="4.9" fill="url(#sR)"/><circle cx="323.3" cy="151.5" r="4.9" fill="url(#sk)"/><circle cx="312.0" cy="127.6" r="4.9" fill="url(#sR)"/><circle cx="134.1" cy="115.6" r="4.9" fill="url(#sR)"/><circle cx="165.3" cy="136.9" r="4.9" fill="url(#sR)"/><circle cx="328.3" cy="100.6" r="4.9" fill="url(#sR)"/><circle cx="147.1" cy="113.2" r="4.9" fill="url(#sR)"/><circle cx="328.0" cy="135.4" r="4.9" fill="url(#sk)"/><circle cx="286.4" cy="134.9" r="4.9" fill="url(#sk)"/><circle cx="334.5" cy="124.2" r="4.9" fill="url(#sR)"/><circle cx="114.4" cy="138.8" r="4.9" fill="url(#sR)"/><circle cx="274.9" cy="113.4" r="4.9" fill="url(#sR)"/><circle cx="258.8" cy="122.0" r="4.9" fill="url(#sR)"/><circle cx="185.4" cy="98.5" r="4.9" fill="url(#sR)"/><circle cx="117.4" cy="144.2" r="4.9" fill="url(#sk)"/><circle cx="335.9" cy="147.2" r="4.9" fill="url(#sk)"/><circle cx="129.9" cy="127.8" r="4.9" fill="url(#sR)"/><circle cx="191.4" cy="105.4" r="4.9" fill="url(#sR)"/><circle cx="316.6" cy="110.3" r="4.9" fill="url(#sR)"/><circle cx="188.3" cy="146.1" r="4.9" fill="url(#sk)"/><circle cx="217.7" cy="144.2" r="4.9" fill="url(#sk)"/><circle cx="301.8" cy="113.0" r="4.9" fill="url(#sR)"/><circle cx="266.5" cy="99.4" r="4.9" fill="url(#sR)"/><circle cx="369.6" cy="116.6" r="4.9" fill="url(#sR)"/><circle cx="137.6" cy="121.4" r="4.9" fill="url(#sR)"/><circle cx="293.5" cy="101.6" r="4.9" fill="url(#sR)"/><circle cx="88.2" cy="143.3" r="4.9" fill="url(#sk)"/><circle cx="305.7" cy="145.4" r="4.9" fill="url(#sk)"/><circle cx="329.0" cy="108.1" r="4.9" fill="url(#sR)"/><circle cx="345.0" cy="145.3" r="4.9" fill="url(#sk)"/><circle cx="299.9" cy="147.3" r="4.9" fill="url(#sk)"/><circle cx="359.1" cy="115.5" r="4.9" fill="url(#sR)"/><circle cx="90.3" cy="149.2" r="4.9" fill="url(#sk)"/><circle cx="305.6" cy="122.4" r="4.9" fill="url(#sR)"/><circle cx="97.6" cy="144.4" r="4.9" fill="url(#sk)"/><circle cx="343.7" cy="120.9" r="4.9" fill="url(#sR)"/><circle cx="157.4" cy="110.0" r="4.9" fill="url(#sR)"/><circle cx="357.6" cy="149.2" r="4.9" fill="url(#sk)"/><circle cx="185.1" cy="113.6" r="4.9" fill="url(#sR)"/><circle cx="349.5" cy="128.4" r="4.9" fill="url(#sR)"/><circle cx="208.0" cy="146.6" r="4.9" fill="url(#sk)"/><circle cx="225.7" cy="132.8" r="4.9" fill="url(#sR)"/><circle cx="123.6" cy="143.8" r="4.9" fill="url(#sk)"/><circle cx="244.3" cy="92.2" r="4.9" fill="url(#sR)"/><circle cx="319.0" cy="137.1" r="4.9" fill="url(#sk)"/><circle cx="209.9" cy="132.9" r="4.9" fill="url(#sR)"/><circle cx="151.1" cy="123.1" r="4.9" fill="url(#sR)"/><circle cx="251.9" cy="134.9" r="4.9" fill="url(#sk)"/><circle cx="185.3" cy="107.2" r="4.9" fill="url(#sR)"/><circle cx="264.7" cy="144.7" r="4.9" fill="url(#sk)"/><circle cx="204.4" cy="106.0" r="4.9" fill="url(#sR)"/><circle cx="310.5" cy="108.1" r="4.9" fill="url(#sR)"/><circle cx="282.9" cy="125.9" r="4.9" fill="url(#sR)"/><circle cx="247.6" cy="99.4" r="4.9" fill="url(#sR)"/><circle cx="228.6" cy="93.4" r="4.9" fill="url(#sR)"/><circle cx="148.8" cy="145.9" r="4.9" fill="url(#sk)"/><circle cx="322.0" cy="142.9" r="4.9" fill="url(#sk)"/><circle cx="111.0" cy="151.6" r="4.9" fill="url(#sk)"/><circle cx="163.6" cy="151.4" r="4.9" fill="url(#sk)"/><circle cx="252.9" cy="106.7" r="4.9" fill="url(#sR)"/><circle cx="118.7" cy="151.4" r="4.9" fill="url(#sk)"/><circle cx="330.4" cy="117.9" r="4.9" fill="url(#sR)"/><circle cx="194.5" cy="145.7" r="4.9" fill="url(#sk)"/><circle cx="274.1" cy="146.1" r="4.9" fill="url(#sk)"/><circle cx="354.4" cy="133.2" r="4.9" fill="url(#sk)"/><circle cx="199.7" cy="152.2" r="4.9" fill="url(#sk)"/><circle cx="76.6" cy="149.8" r="4.9" fill="url(#sk)"/><circle cx="321.5" cy="131.4" r="4.9" fill="url(#sR)"/><circle cx="81.2" cy="145.3" r="4.9" fill="url(#sk)"/><circle cx="254.7" cy="100.8" r="4.9" fill="url(#sR)"/><circle cx="284.4" cy="92.0" r="4.9" fill="url(#sR)"/><circle cx="209.8" cy="124.0" r="4.9" fill="url(#sR)"/><circle cx="201.9" cy="95.2" r="4.9" fill="url(#sR)"/><circle cx="367.0" cy="149.0" r="4.9" fill="url(#sk)"/><circle cx="351.1" cy="147.4" r="4.9" fill="url(#sk)"/><circle cx="157.1" cy="152.1" r="4.9" fill="url(#sk)"/><circle cx="213.8" cy="94.2" r="4.9" fill="url(#sR)"/><circle cx="143.9" cy="121.1" r="4.9" fill="url(#sR)"/><circle cx="171.3" cy="119.0" r="4.9" fill="url(#sR)"/><circle cx="147.5" cy="152.0" r="4.9" fill="url(#sk)"/><circle cx="274.6" cy="126.5" r="4.9" fill="url(#sR)"/><circle cx="220.9" cy="114.9" r="4.9" fill="url(#sR)"/><circle cx="223.4" cy="139.7" r="4.9" fill="url(#sk)"/><circle cx="310.7" cy="149.1" r="4.9" fill="url(#sk)"/><circle cx="178.5" cy="151.6" r="4.9" fill="url(#sk)"/><circle cx="221.1" cy="122.6" r="4.9" fill="url(#sR)"/><circle cx="162.7" cy="105.6" r="4.9" fill="url(#sR)"/><circle cx="162.4" cy="125.2" r="4.9" fill="url(#sR)"/><circle cx="322.6" cy="103.8" r="4.9" fill="url(#sR)"/><circle cx="303.2" cy="94.8" r="4.9" fill="url(#sR)"/><circle cx="354.5" cy="121.6" r="4.9" fill="url(#sR)"/><circle cx="375.0" cy="129.0" r="4.9" fill="url(#sk)"/><circle cx="239.7" cy="123.7" r="4.9" fill="url(#sR)"/><circle cx="351.1" cy="116.0" r="4.9" fill="url(#sR)"/><circle cx="207.3" cy="98.8" r="4.9" fill="url(#sR)"/><circle cx="302.8" cy="137.7" r="4.9" fill="url(#sk)"/><circle cx="83.7" cy="151.7" r="4.9" fill="url(#sk)"/><circle cx="267.9" cy="150.1" r="4.9" fill="url(#sk)"/><circle cx="340.8" cy="139.2" r="4.9" fill="url(#sk)"/><circle cx="102.5" cy="148.4" r="4.9" fill="url(#sk)"/><circle cx="246.6" cy="111.0" r="4.9" fill="url(#sR)"/><circle cx="240.1" cy="104.6" r="4.9" fill="url(#sR)"/><circle cx="149.1" cy="131.8" r="4.9" fill="url(#sR)"/><circle cx="135.8" cy="147.4" r="4.9" fill="url(#sk)"/><circle cx="192.4" cy="151.3" r="4.9" fill="url(#sk)"/><circle cx="260.8" cy="114.9" r="4.9" fill="url(#sR)"/><circle cx="281.2" cy="141.1" r="4.9" fill="url(#sk)"/><circle cx="245.1" cy="131.2" r="4.9" fill="url(#sk)"/><circle cx="301.1" cy="129.6" r="4.9" fill="url(#sR)"/><circle cx="197.4" cy="129.6" r="4.9" fill="url(#sR)"/><circle cx="204.9" cy="137.3" r="4.9" fill="url(#sR)"/><circle cx="202.8" cy="120.3" r="4.9" fill="url(#sR)"/><circle cx="154.3" cy="139.0" r="4.9" fill="url(#sR)"/><circle cx="297.4" cy="141.1" r="4.9" fill="url(#sk)"/><circle cx="176.9" cy="116.6" r="4.9" fill="url(#sR)"/><circle cx="120.7" cy="138.4" r="4.9" fill="url(#sR)"/><circle cx="194.0" cy="122.7" r="4.9" fill="url(#sR)"/><circle cx="181.7" cy="146.2" r="4.9" fill="url(#sk)"/><circle cx="237.1" cy="151.3" r="4.9" fill="url(#sk)"/><circle cx="266.2" cy="138.1" r="4.9" fill="url(#sk)"/><circle cx="126.1" cy="152.1" r="4.9" fill="url(#sk)"/><circle cx="214.6" cy="115.8" r="4.9" fill="url(#sR)"/><circle cx="144.9" cy="139.1" r="4.9" fill="url(#sR)"/><circle cx="140.6" cy="114.6" r="4.9" fill="url(#sR)"/><circle cx="239.8" cy="134.3" r="4.9" fill="url(#sk)"/><circle cx="243.5" cy="149.8" r="4.9" fill="url(#sk)"/><circle cx="233.7" cy="145.7" r="4.9" fill="url(#sk)"/><circle cx="386.2" cy="148.2" r="4.9" fill="url(#sk)"/><circle cx="169.3" cy="106.2" r="4.9" fill="url(#sR)"/><circle cx="358.2" cy="127.9" r="4.9" fill="url(#sR)"/><circle cx="291.1" cy="150.3" r="4.9" fill="url(#sk)"/><circle cx="346.6" cy="151.6" r="4.9" fill="url(#sk)"/><circle cx="156.8" cy="145.6" r="4.9" fill="url(#sk)"/><circle cx="295.8" cy="124.4" r="4.9" fill="url(#sR)"/><circle cx="259.9" cy="95.6" r="4.9" fill="url(#sR)"/><circle cx="391.7" cy="151.4" r="4.9" fill="url(#sk)"/><circle cx="299.9" cy="120.0" r="4.9" fill="url(#sR)"/><circle cx="265.0" cy="106.8" r="4.9" fill="url(#sR)"/><circle cx="300.1" cy="100.5" r="4.9" fill="url(#sR)"/><circle cx="105.2" cy="133.0" r="4.9" fill="url(#sk)"/><circle cx="160.9" cy="141.1" r="4.9" fill="url(#sk)"/><circle cx="234.9" cy="107.5" r="4.9" fill="url(#sR)"/><circle cx="120.6" cy="122.4" r="4.9" fill="url(#sR)"/><circle cx="232.8" cy="113.4" r="4.9" fill="url(#sR)"/><circle cx="370.2" cy="143.0" r="4.9" fill="url(#sk)"/><circle cx="276.8" cy="90.2" r="4.9" fill="url(#sR)"/><circle cx="201.4" cy="145.8" r="4.9" fill="url(#sk)"/><circle cx="376.1" cy="135.2" r="4.9" fill="url(#sk)"/><circle cx="351.7" cy="109.2" r="4.9" fill="url(#sR)"/><circle cx="340.4" cy="109.4" r="4.9" fill="url(#sR)"/><circle cx="264.7" cy="90.4" r="4.9" fill="url(#sR)"/><circle cx="352.6" cy="139.1" r="4.9" fill="url(#sk)"/><circle cx="214.2" cy="149.4" r="4.9" fill="url(#sk)"/><circle cx="270.4" cy="122.2" r="4.9" fill="url(#sR)"/><circle cx="251.3" cy="115.2" r="4.9" fill="url(#sR)"/><circle cx="383.9" cy="137.5" r="4.9" fill="url(#sk)"/><circle cx="277.8" cy="119.7" r="4.9" fill="url(#sR)"/><circle cx="307.0" cy="99.7" r="4.9" fill="url(#sR)"/><circle cx="324.2" cy="112.3" r="4.9" fill="url(#sR)"/><circle cx="308.2" cy="114.9" r="4.9" fill="url(#sR)"/><circle cx="291.2" cy="144.0" r="4.9" fill="url(#sk)"/><circle cx="179.0" cy="101.3" r="4.9" fill="url(#sR)"/><circle cx="184.7" cy="151.9" r="4.9" fill="url(#sk)"/><circle cx="284.0" cy="119.2" r="4.9" fill="url(#sR)"/><circle cx="223.4" cy="106.7" r="4.9" fill="url(#sR)"/><circle cx="279.7" cy="97.1" r="4.9" fill="url(#sR)"/><circle cx="93.5" cy="138.8" r="4.9" fill="url(#sk)"/><circle cx="283.6" cy="150.1" r="4.9" fill="url(#sk)"/><circle cx="381.9" cy="127.8" r="4.9" fill="url(#sk)"/><circle cx="295.1" cy="108.2" r="4.9" fill="url(#sR)"/><circle cx="283.4" cy="110.6" r="4.9" fill="url(#sR)"/><circle cx="258.8" cy="108.6" r="4.9" fill="url(#sR)"/><circle cx="316.9" cy="151.8" r="4.9" fill="url(#sk)"/><circle cx="376.8" cy="123.2" r="4.9" fill="url(#sk)"/><circle cx="329.4" cy="148.6" r="4.9" fill="url(#sk)"/><circle cx="266.7" cy="113.3" r="4.9" fill="url(#sR)"/><circle cx="238.8" cy="141.2" r="4.9" fill="url(#sk)"/><circle cx="304.1" cy="151.6" r="4.9" fill="url(#sk)"/><circle cx="184.0" cy="131.3" r="4.9" fill="url(#sR)"/><circle cx="357.6" cy="143.0" r="4.9" fill="url(#sk)"/><circle cx="336.8" cy="118.0" r="4.9" fill="url(#sR)"/><circle cx="131.0" cy="142.5" r="4.9" fill="url(#sk)"/><circle cx="129.4" cy="136.2" r="4.9" fill="url(#sR)"/><circle cx="278.4" cy="106.5" r="4.9" fill="url(#sR)"/><circle cx="212.3" cy="107.3" r="4.9" fill="url(#sR)"/><circle cx="196.6" cy="137.1" r="4.9" fill="url(#sR)"/><circle cx="322.4" cy="120.9" r="4.9" fill="url(#sR)"/><circle cx="218.4" cy="129.0" r="4.9" fill="url(#sR)"/><circle cx="132.1" cy="152.2" r="4.9" fill="url(#sk)"/><circle cx="197.3" cy="111.6" r="4.9" fill="url(#sR)"/><circle cx="277.4" cy="151.4" r="4.9" fill="url(#sk)"/><circle cx="313.3" cy="134.6" r="4.9" fill="url(#sk)"/><circle cx="241.7" cy="98.0" r="4.9" fill="url(#sR)"/><circle cx="387.5" cy="142.3" r="4.9" fill="url(#sk)"/><circle cx="275.3" cy="139.3" r="4.9" fill="url(#sk)"/><circle cx="270.7" cy="92.2" r="4.9" fill="url(#sR)"/><circle cx="345.2" cy="114.9" r="4.9" fill="url(#sR)"/><circle cx="229.3" cy="118.9" r="4.9" fill="url(#sR)"/><circle cx="131.3" cy="121.2" r="4.9" fill="url(#sR)"/><circle cx="313.7" cy="117.7" r="4.9" fill="url(#sR)"/><circle cx="399.1" cy="145.6" r="4.9" fill="url(#sk)"/><circle cx="272.7" cy="99.2" r="4.9" fill="url(#sR)"/><circle cx="176.9" cy="136.9" r="4.9" fill="url(#sR)"/><circle cx="256.1" cy="143.5" r="4.9" fill="url(#sk)"/><circle cx="261.8" cy="151.0" r="4.9" fill="url(#sk)"/><circle cx="159.4" cy="119.7" r="4.9" fill="url(#sR)"/><circle cx="172.6" cy="147.9" r="4.9" fill="url(#sk)"/><circle cx="159.4" cy="135.1" r="4.9" fill="url(#sR)"/><circle cx="303.4" cy="106.3" r="4.9" fill="url(#sR)"/><circle cx="192.0" cy="96.9" r="4.9" fill="url(#sR)"/><circle cx="340.5" cy="152.2" r="4.9" fill="url(#sk)"/><circle cx="238.6" cy="116.1" r="4.9" fill="url(#sR)"/><circle cx="259.2" cy="131.7" r="4.9" fill="url(#sR)"/><circle cx="166.5" cy="114.2" r="4.9" fill="url(#sR)"/><circle cx="334.8" cy="105.8" r="4.9" fill="url(#sR)"/><circle cx="252.0" cy="95.2" r="4.9" fill="url(#sR)"/><circle cx="225.3" cy="98.9" r="4.9" fill="url(#sR)"/><circle cx="110.5" cy="145.5" r="4.9" fill="url(#sk)"/><circle cx="288.7" cy="115.1" r="4.9" fill="url(#sR)"/><circle cx="196.9" cy="102.4" r="4.9" fill="url(#sR)"/><circle cx="393.3" cy="140.4" r="4.9" fill="url(#sk)"/><circle cx="142.2" cy="148.7" r="4.9" fill="url(#sk)"/><circle cx="118.6" cy="132.2" r="4.9" fill="url(#sR)"/><circle cx="334.4" cy="112.5" r="4.9" fill="url(#sR)"/><circle cx="308.7" cy="130.6" r="4.9" fill="url(#sR)"/><circle cx="333.1" cy="132.2" r="4.9" fill="url(#sk)"/><circle cx="263.4" cy="119.8" r="4.9" fill="url(#sR)"/><circle cx="166.6" cy="150.7" r="4.9" fill="url(#sk)"/><circle cx="145.2" cy="147.1" r="4.9" fill="url(#sk)"/><circle cx="315.3" cy="112.1" r="4.9" fill="url(#sR)"/><circle cx="324.6" cy="108.0" r="4.9" fill="url(#sR)"/><circle cx="332.2" cy="143.0" r="4.9" fill="url(#sk)"/><circle cx="378.5" cy="151.2" r="4.9" fill="url(#sk)"/><circle cx="306.9" cy="113.3" r="4.9" fill="url(#sR)"/><circle cx="156.3" cy="149.1" r="4.9" fill="url(#sk)"/><circle cx="230.2" cy="124.2" r="4.9" fill="url(#sR)"/><circle cx="103.2" cy="149.1" r="4.9" fill="url(#sk)"/><circle cx="148.1" cy="134.9" r="4.9" fill="url(#sR)"/><circle cx="344.2" cy="131.9" r="4.9" fill="url(#sk)"/><circle cx="294.3" cy="111.1" r="4.9" fill="url(#sR)"/><circle cx="203.4" cy="147.6" r="4.9" fill="url(#sk)"/><circle cx="296.6" cy="119.9" r="4.9" fill="url(#sR)"/><circle cx="179.7" cy="116.2" r="4.9" fill="url(#sR)"/><circle cx="288.0" cy="120.1" r="4.9" fill="url(#sR)"/><circle cx="273.5" cy="130.1" r="4.9" fill="url(#sR)"/><circle cx="199.7" cy="106.4" r="4.9" fill="url(#sR)"/><circle cx="157.4" cy="122.5" r="4.9" fill="url(#sR)"/><circle cx="123.3" cy="150.1" r="4.9" fill="url(#sk)"/><circle cx="189.2" cy="109.9" r="4.9" fill="url(#sR)"/><circle cx="354.6" cy="138.7" r="4.9" fill="url(#sk)"/><circle cx="111.8" cy="148.8" r="4.9" fill="url(#sk)"/><circle cx="359.3" cy="149.8" r="4.9" fill="url(#sk)"/><circle cx="232.9" cy="114.1" r="4.9" fill="url(#sR)"/><circle cx="205.6" cy="119.4" r="4.9" fill="url(#sR)"/><circle cx="209.0" cy="128.8" r="4.9" fill="url(#sR)"/><circle cx="136.3" cy="148.7" r="4.9" fill="url(#sk)"/><circle cx="360.7" cy="132.7" r="4.9" fill="url(#sk)"/><circle cx="217.7" cy="130.0" r="4.9" fill="url(#sR)"/><circle cx="192.9" cy="150.9" r="4.9" fill="url(#sk)"/><circle cx="369.0" cy="130.9" r="4.9" fill="url(#sk)"/><circle cx="271.8" cy="144.6" r="4.9" fill="url(#sk)"/><circle cx="349.8" cy="151.1" r="4.9" fill="url(#sk)"/><circle cx="285.0" cy="102.7" r="4.9" fill="url(#sR)"/><circle cx="240.3" cy="109.4" r="4.9" fill="url(#sR)"/><circle cx="220.0" cy="119.3" r="4.9" fill="url(#sR)"/><circle cx="250.8" cy="124.1" r="4.9" fill="url(#sR)"/><circle cx="138.5" cy="134.9" r="4.9" fill="url(#sR)"/><circle cx="224.1" cy="148.0" r="4.9" fill="url(#sk)"/><circle cx="322.6" cy="147.5" r="4.9" fill="url(#sk)"/><circle cx="271.6" cy="105.5" r="4.9" fill="url(#sR)"/><circle cx="92.1" cy="149.8" r="4.9" fill="url(#sk)"/><circle cx="324.0" cy="127.7" r="4.9" fill="url(#sR)"/><circle cx="127.1" cy="142.3" r="4.9" fill="url(#sR)"/><circle cx="335.7" cy="150.9" r="4.9" fill="url(#sk)"/><circle cx="169.5" cy="112.0" r="4.9" fill="url(#sR)"/><circle cx="213.4" cy="107.5" r="4.9" fill="url(#sR)"/><circle cx="300.5" cy="128.4" r="4.9" fill="url(#sR)"/><circle cx="198.4" cy="115.0" r="4.9" fill="url(#sR)"/><circle cx="305.5" cy="140.0" r="4.9" fill="url(#sk)"/><circle cx="297.2" cy="103.2" r="4.9" fill="url(#sR)"/><circle cx="238.1" cy="129.5" r="4.9" fill="url(#sR)"/><circle cx="112.9" cy="139.9" r="4.9" fill="url(#sk)"/><circle cx="208.6" cy="137.4" r="4.9" fill="url(#sR)"/><circle cx="334.8" cy="115.6" r="4.9" fill="url(#sR)"/><circle cx="314.5" cy="142.8" r="4.9" fill="url(#sk)"/><circle cx="248.2" cy="101.7" r="4.9" fill="url(#sR)"/><circle cx="326.2" cy="137.1" r="4.9" fill="url(#sk)"/><circle cx="245.5" cy="139.7" r="4.9" fill="url(#sk)"/><circle cx="283.5" cy="136.8" r="4.9" fill="url(#sk)"/><circle cx="293.1" cy="139.9" r="4.9" fill="url(#sk)"/><circle cx="133.7" cy="127.4" r="4.9" fill="url(#sR)"/><circle cx="147.2" cy="123.1" r="4.9" fill="url(#sR)"/><circle cx="214.3" cy="144.1" r="4.9" fill="url(#sk)"/><circle cx="232.8" cy="137.7" r="4.9" fill="url(#sk)"/><circle cx="338.4" cy="124.4" r="4.9" fill="url(#sR)"/><circle cx="255.8" cy="138.0" r="4.9" fill="url(#sk)"/><circle cx="267.3" cy="135.8" r="4.9" fill="url(#sk)"/><circle cx="308.6" cy="104.6" r="4.9" fill="url(#sR)"/><circle cx="392.6" cy="150.9" r="4.9" fill="url(#sk)"/><circle cx="309.0" cy="121.8" r="4.9" fill="url(#sR)"/><circle cx="342.9" cy="144.0" r="4.9" fill="url(#sk)"/><circle cx="351.6" cy="126.8" r="4.9" fill="url(#sR)"/><circle cx="182.2" cy="125.3" r="4.9" fill="url(#sR)"/><circle cx="175.3" cy="133.5" r="4.9" fill="url(#sR)"/><circle cx="345.3" cy="116.8" r="4.9" fill="url(#sR)"/><circle cx="162.9" cy="141.2" r="4.9" fill="url(#sk)"/><circle cx="200.1" cy="137.3" r="4.9" fill="url(#sR)"/><circle cx="281.1" cy="112.8" r="4.9" fill="url(#sR)"/><circle cx="156.6" cy="135.0" r="4.9" fill="url(#sR)"/><circle cx="166.0" cy="129.0" r="4.9" fill="url(#sR)"/><circle cx="252.0" cy="146.5" r="4.9" fill="url(#sk)"/><circle cx="172.0" cy="121.3" r="4.9" fill="url(#sR)"/><circle cx="186.0" cy="143.9" r="4.9" fill="url(#sk)"/><circle cx="360.2" cy="122.6" r="4.9" fill="url(#sR)"/><circle cx="281.2" cy="125.1" r="4.9" fill="url(#sR)"/><circle cx="239.6" cy="100.1" r="4.9" fill="url(#sR)"/><circle cx="249.2" cy="110.6" r="4.9" fill="url(#sR)"/><circle cx="299.3" cy="145.8" r="4.9" fill="url(#sk)"/><circle cx="237.3" cy="149.0" r="4.9" fill="url(#sk)"/><circle cx="123.8" cy="131.9" r="4.9" fill="url(#sR)"/><circle cx="258.1" cy="113.0" r="4.9" fill="url(#sR)"/><circle cx="189.2" cy="133.0" r="4.9" fill="url(#sR)"/><circle cx="160.9" cy="114.7" r="4.9" fill="url(#sR)"/><circle cx="377.5" cy="136.4" r="4.9" fill="url(#sk)"/><circle cx="260.2" cy="104.4" r="4.9" fill="url(#sR)"/><circle cx="309.6" cy="150.8" r="4.9" fill="url(#sk)"/><circle cx="261.3" cy="128.2" r="4.9" fill="url(#sR)"/><circle cx="194.0" cy="123.2" r="4.9" fill="url(#sR)"/><circle cx="177.6" cy="145.1" r="4.9" fill="url(#sk)"/><circle cx="293.1" cy="151.4" r="4.9" fill="url(#sk)"/><circle cx="230.5" cy="104.0" r="4.9" fill="url(#sR)"/><circle cx="385.2" cy="142.2" r="4.9" fill="url(#sk)"/><circle cx="371.7" cy="145.2" r="4.9" fill="url(#sk)"/><circle cx="274.0" cy="117.9" r="4.9" fill="url(#sR)"/><circle cx="317.3" cy="134.4" r="4.9" fill="url(#sk)"/><circle cx="242.4" cy="120.3" r="4.9" fill="url(#sR)"/><circle cx="284.7" cy="148.6" r="4.9" fill="url(#sk)"/><circle cx="289.3" cy="130.0" r="4.9" fill="url(#sR)"/><circle cx="222.9" cy="138.8" r="4.9" fill="url(#sk)"/><circle cx="270.0" cy="97.0" r="4.9" fill="url(#sR)"/><circle cx="363.6" cy="140.7" r="4.9" fill="url(#sk)"/><circle cx="324.2" cy="116.6" r="4.9" fill="url(#sR)"/><circle cx="207.4" cy="101.2" r="4.9" fill="url(#sR)"/><circle cx="262.6" cy="143.5" r="4.9" fill="url(#sk)"/><circle cx="222.2" cy="107.6" r="4.9" fill="url(#sR)"/><circle cx="77.2" cy="151.2" r="4.9" fill="url(#sk)"/><circle cx="83.6" cy="144.8" r="4.9" fill="url(#sk)"/><circle cx="91.8" cy="139.7" r="4.9" fill="url(#sk)"/><circle cx="99.5" cy="136.4" r="4.9" fill="url(#sk)"/><circle cx="106.5" cy="131.1" r="4.9" fill="url(#sk)"/><circle cx="113.8" cy="126.4" r="4.9" fill="url(#sR)"/><circle cx="121.0" cy="122.1" r="4.9" fill="url(#sR)"/><circle cx="129.0" cy="119.0" r="4.9" fill="url(#sR)"/><circle cx="136.8" cy="115.0" r="4.9" fill="url(#sR)"/><circle cx="144.9" cy="112.0" r="4.9" fill="url(#sR)"/><circle cx="153.5" cy="108.4" r="4.9" fill="url(#sR)"/><circle cx="161.1" cy="105.8" r="4.9" fill="url(#sR)"/><circle cx="169.3" cy="103.1" r="4.9" fill="url(#sR)"/><circle cx="177.5" cy="100.4" r="4.9" fill="url(#sR)"/><circle cx="185.7" cy="97.7" r="4.9" fill="url(#sR)"/><circle cx="194.8" cy="96.4" r="4.9" fill="url(#sR)"/><circle cx="203.1" cy="93.6" r="4.9" fill="url(#sR)"/><circle cx="211.2" cy="92.6" r="4.9" fill="url(#sR)"/><circle cx="219.6" cy="91.4" r="4.9" fill="url(#sR)"/><circle cx="228.4" cy="90.6" r="4.9" fill="url(#sR)"/><circle cx="237.3" cy="89.8" r="4.9" fill="url(#sR)"/><circle cx="246.6" cy="89.1" r="4.9" fill="url(#sR)"/><circle cx="255.4" cy="89.2" r="4.9" fill="url(#sR)"/><circle cx="263.7" cy="89.0" r="4.9" fill="url(#sR)"/><circle cx="272.6" cy="88.9" r="4.9" fill="url(#sR)"/><circle cx="281.2" cy="89.9" r="4.9" fill="url(#sR)"/><circle cx="290.2" cy="91.9" r="4.9" fill="url(#sR)"/><circle cx="298.6" cy="93.7" r="4.9" fill="url(#sR)"/><circle cx="307.1" cy="95.1" r="4.9" fill="url(#sR)"/><circle cx="315.4" cy="96.7" r="4.9" fill="url(#sR)"/><circle cx="324.3" cy="99.1" r="4.9" fill="url(#sR)"/><circle cx="332.2" cy="102.4" r="4.9" fill="url(#sR)"/><circle cx="340.5" cy="104.8" r="4.9" fill="url(#sR)"/><circle cx="348.9" cy="108.3" r="4.9" fill="url(#sR)"/><circle cx="356.3" cy="111.1" r="4.9" fill="url(#sR)"/><circle cx="365.2" cy="115.1" r="4.9" fill="url(#sR)"/><circle cx="372.6" cy="119.4" r="4.9" fill="url(#sR)"/><circle cx="379.4" cy="125.8" r="4.9" fill="url(#sk)"/><circle cx="385.7" cy="130.7" r="4.9" fill="url(#sk)"/><circle cx="392.6" cy="136.7" r="4.9" fill="url(#sk)"/><circle cx="397.6" cy="143.9" r="4.9" fill="url(#sk)"/><circle cx="402.3" cy="150.6" r="4.9" fill="url(#sk)"/><path d="M44.9 256.6V78" stroke="#000" stroke-width="3.4" fill="none"/><path d="M44.9 70.4L40.2 79.8H49.6Z" fill="#000"/><path d="M43.2 254.8H464" stroke="#000" stroke-width="3.6" fill="none"/><path d="M473.5 254.8L461.5 249.8V259.8Z" fill="#000"/><path d="M116 246.5V261.5" stroke="#000" stroke-width="2"/><path d="M216 246.5V261.5" stroke="#000" stroke-width="2"/><path d="M316 246.5V261.5" stroke="#000" stroke-width="2"/><path d="M416 246.5V261.5" stroke="#000" stroke-width="2"/><path d="M37.3 158H50" stroke="#000" stroke-width="2"/><g font-family="'Liberation Serif',serif" font-size="16" fill="#000"><text x="48" y="280.4" text-anchor="middle">1.5</text><text x="116" y="280.4" text-anchor="middle">5.0</text><text x="216" y="280.4" text-anchor="middle">10.0</text><text x="316" y="280.4" text-anchor="middle">15.0</text><text x="416" y="280.4" text-anchor="middle">20.0</text><text x="33.5" y="163.3" text-anchor="end">5.0</text><text x="33.2" y="254.9" text-anchor="end">0</text><text transform="translate(6.6,62) scale(1.2,1)" font-style="italic" font-size="20">z</text><text x="23.6" y="62.6" font-size="16.5">[mm]</text><text transform="translate(484.6,263.6) scale(1.22,1)" font-style="italic" font-size="21">y</text><text x="505.8" y="266.5" font-size="16.5">[mm]</text></g><text x="277.5" y="321.3" text-anchor="middle" font-family="'Liberation Serif',serif" font-size="23" fill="#000">(<tspan font-weight="bold">a</tspan>)</text></g><g transform="translate(0,337.5)"><g clip-path="url(#cl)"><circle cx="45.1" cy="158.9" r="5.4" fill="url(#sg)"/><circle cx="55.1" cy="158.9" r="5.4" fill="url(#sg)"/><circle cx="65.1" cy="158.9" r="5.4" fill="url(#sg)"/><circle cx="75.2" cy="158.9" r="5.4" fill="url(#sg)"/><circle cx="85.2" cy="158.9" r="5.4" fill="url(#sg)"/><circle cx="95.2" cy="158.9" r="5.4" fill="url(#sg)"/><circle cx="105.3" cy="158.9" r="5.4" fill="url(#sg)"/><circle cx="115.3" cy="158.9" r="5.4" fill="url(#sg)"/><circle cx="125.3" cy="158.9" r="5.4" fill="url(#sg)"/><circle cx="135.3" cy="158.9" r="5.4" fill="url(#sg)"/><circle cx="145.4" cy="158.9" r="5.4" fill="url(#sg)"/><circle cx="155.4" cy="158.9" r="5.4" fill="url(#sg)"/><circle cx="165.4" cy="158.9" r="5.4" fill="url(#sg)"/><circle cx="175.5" cy="158.9" r="5.4" fill="url(#sg)"/><circle cx="185.5" cy="158.9" r="5.4" fill="url(#sg)"/><circle cx="195.5" cy="158.9" r="5.4" fill="url(#sg)"/><circle cx="205.6" cy="158.9" r="5.4" fill="url(#sg)"/><circle cx="215.6" cy="158.9" r="5.4" fill="url(#sg)"/><circle cx="225.6" cy="158.9" r="5.4" fill="url(#sg)"/><circle cx="235.6" cy="158.9" r="5.4" fill="url(#sg)"/><circle cx="245.7" cy="158.9" r="5.4" fill="url(#sg)"/><circle cx="255.7" cy="158.9" r="5.4" fill="url(#sg)"/><circle cx="265.7" cy="158.9" r="5.4" fill="url(#sg)"/><circle cx="275.8" cy="158.9" r="5.4" fill="url(#sg)"/><circle cx="285.8" cy="158.9" r="5.4" fill="url(#sg)"/><circle cx="295.8" cy="158.9" r="5.4" fill="url(#sg)"/><circle cx="305.9" cy="158.9" r="5.4" fill="url(#sg)"/><circle cx="315.9" cy="158.9" r="5.4" fill="url(#sg)"/><circle cx="325.9" cy="158.9" r="5.4" fill="url(#sg)"/><circle cx="335.9" cy="158.9" r="5.4" fill="url(#sg)"/><circle cx="346.0" cy="158.9" r="5.4" fill="url(#sg)"/><circle cx="356.0" cy="158.9" r="5.4" fill="url(#sg)"/><circle cx="366.0" cy="158.9" r="5.4" fill="url(#sg)"/><circle cx="376.1" cy="158.9" r="5.4" fill="url(#sg)"/><circle cx="386.1" cy="158.9" r="5.4" fill="url(#sg)"/><circle cx="396.1" cy="158.9" r="5.4" fill="url(#sg)"/><circle cx="406.2" cy="158.9" r="5.4" fill="url(#sg)"/><circle cx="416.2" cy="158.9" r="5.4" fill="url(#sg)"/><circle cx="426.2" cy="158.9" r="5.4" fill="url(#sg)"/><circle cx="436.2" cy="158.9" r="5.4" fill="url(#sg)"/><circle cx="446.3" cy="158.9" r="5.4" fill="url(#sg)"/><circle cx="456.3" cy="158.9" r="5.4" fill="url(#sg)"/><circle cx="45.1" cy="168.9" r="5.4" fill="url(#sg)"/><circle cx="55.1" cy="168.9" r="5.4" fill="url(#sg)"/><circle cx="65.1" cy="168.9" r="5.4" fill="url(#sg)"/><circle cx="75.2" cy="168.9" r="5.4" fill="url(#sg)"/><circle cx="85.2" cy="168.9" r="5.4" fill="url(#sg)"/><circle cx="95.2" cy="168.9" r="5.4" fill="url(#sg)"/><circle cx="105.3" cy="168.9" r="5.4" fill="url(#sg)"/><circle cx="115.3" cy="168.9" r="5.4" fill="url(#sg)"/><circle cx="125.3" cy="168.9" r="5.4" fill="url(#sg)"/><circle cx="135.3" cy="168.9" r="5.4" fill="url(#sg)"/><circle cx="145.4" cy="168.9" r="5.4" fill="url(#sg)"/><circle cx="155.4" cy="168.9" r="5.4" fill="url(#sg)"/><circle cx="165.4" cy="168.9" r="5.4" fill="url(#sg)"/><circle cx="175.5" cy="168.9" r="5.4" fill="url(#sg)"/><circle cx="185.5" cy="168.9" r="5.4" fill="url(#sg)"/><circle cx="195.5" cy="168.9" r="5.4" fill="url(#sg)"/><circle cx="205.6" cy="168.9" r="5.4" fill="url(#sg)"/><circle cx="215.6" cy="168.9" r="5.4" fill="url(#sg)"/><circle cx="225.6" cy="168.9" r="5.4" fill="url(#sg)"/><circle cx="235.6" cy="168.9" r="5.4" fill="url(#sg)"/><circle cx="245.7" cy="168.9" r="5.4" fill="url(#sg)"/><circle cx="255.7" cy="168.9" r="5.4" fill="url(#sg)"/><circle cx="265.7" cy="168.9" r="5.4" fill="url(#sg)"/><circle cx="275.8" cy="168.9" r="5.4" fill="url(#sg)"/><circle cx="285.8" cy="168.9" r="5.4" fill="url(#sg)"/><circle cx="295.8" cy="168.9" r="5.4" fill="url(#sg)"/><circle cx="305.9" cy="168.9" r="5.4" fill="url(#sg)"/><circle cx="315.9" cy="168.9" r="5.4" fill="url(#sg)"/><circle cx="325.9" cy="168.9" r="5.4" fill="url(#sg)"/><circle cx="335.9" cy="168.9" r="5.4" fill="url(#sg)"/><circle cx="346.0" cy="168.9" r="5.4" fill="url(#sg)"/><circle cx="356.0" cy="168.9" r="5.4" fill="url(#sg)"/><circle cx="366.0" cy="168.9" r="5.4" fill="url(#sg)"/><circle cx="376.1" cy="168.9" r="5.4" fill="url(#sg)"/><circle cx="386.1" cy="168.9" r="5.4" fill="url(#sg)"/><circle cx="396.1" cy="168.9" r="5.4" fill="url(#sg)"/><circle cx="406.2" cy="168.9" r="5.4" fill="url(#sg)"/><circle cx="416.2" cy="168.9" r="5.4" fill="url(#sg)"/><circle cx="426.2" cy="168.9" r="5.4" fill="url(#sg)"/><circle cx="436.2" cy="168.9" r="5.4" fill="url(#sg)"/><circle cx="446.3" cy="168.9" r="5.4" fill="url(#sg)"/><circle cx="456.3" cy="168.9" r="5.4" fill="url(#sg)"/><circle cx="45.1" cy="179.0" r="5.4" fill="url(#sg)"/><circle cx="55.1" cy="179.0" r="5.4" fill="url(#sg)"/><circle cx="65.1" cy="179.0" r="5.4" fill="url(#sg)"/><circle cx="75.2" cy="179.0" r="5.4" fill="url(#sg)"/><circle cx="85.2" cy="179.0" r="5.4" fill="url(#sg)"/><circle cx="95.2" cy="179.0" r="5.4" fill="url(#sg)"/><circle cx="105.3" cy="179.0" r="5.4" fill="url(#sg)"/><circle cx="115.3" cy="179.0" r="5.4" fill="url(#sg)"/><circle cx="125.3" cy="179.0" r="5.4" fill="url(#sg)"/><circle cx="135.3" cy="179.0" r="5.4" fill="url(#sg)"/><circle cx="145.4" cy="179.0" r="5.4" fill="url(#sg)"/><circle cx="155.4" cy="179.0" r="5.4" fill="url(#sg)"/><circle cx="165.4" cy="179.0" r="5.4" fill="url(#sg)"/><circle cx="175.5" cy="179.0" r="5.4" fill="url(#sg)"/><circle cx="185.5" cy="179.0" r="5.4" fill="url(#sg)"/><circle cx="195.5" cy="179.0" r="5.4" fill="url(#sg)"/><circle cx="205.6" cy="179.0" r="5.4" fill="url(#sg)"/><circle cx="215.6" cy="179.0" r="5.4" fill="url(#sg)"/><circle cx="225.6" cy="179.0" r="5.4" fill="url(#sg)"/><circle cx="235.6" cy="179.0" r="5.4" fill="url(#sg)"/><circle cx="245.7" cy="179.0" r="5.4" fill="url(#sg)"/><circle cx="255.7" cy="179.0" r="5.4" fill="url(#sg)"/><circle cx="265.7" cy="179.0" r="5.4" fill="url(#sg)"/><circle cx="275.8" cy="179.0" r="5.4" fill="url(#sg)"/><circle cx="285.8" cy="179.0" r="5.4" fill="url(#sg)"/><circle cx="295.8" cy="179.0" r="5.4" fill="url(#sg)"/><circle cx="305.9" cy="179.0" r="5.4" fill="url(#sg)"/><circle cx="315.9" cy="179.0" r="5.4" fill="url(#sg)"/><circle cx="325.9" cy="179.0" r="5.4" fill="url(#sg)"/><circle cx="335.9" cy="179.0" r="5.4" fill="url(#sg)"/><circle cx="346.0" cy="179.0" r="5.4" fill="url(#sg)"/><circle cx="356.0" cy="179.0" r="5.4" fill="url(#sg)"/><circle cx="366.0" cy="179.0" r="5.4" fill="url(#sg)"/><circle cx="376.1" cy="179.0" r="5.4" fill="url(#sg)"/><circle cx="386.1" cy="179.0" r="5.4" fill="url(#sg)"/><circle cx="396.1" cy="179.0" r="5.4" fill="url(#sg)"/><circle cx="406.2" cy="179.0" r="5.4" fill="url(#sg)"/><circle cx="416.2" cy="179.0" r="5.4" fill="url(#sg)"/><circle cx="426.2" cy="179.0" r="5.4" fill="url(#sg)"/><circle cx="436.2" cy="179.0" r="5.4" fill="url(#sg)"/><circle cx="446.3" cy="179.0" r="5.4" fill="url(#sg)"/><circle cx="456.3" cy="179.0" r="5.4" fill="url(#sg)"/><circle cx="45.1" cy="189.0" r="5.4" fill="url(#sg)"/><circle cx="55.1" cy="189.0" r="5.4" fill="url(#sg)"/><circle cx="65.1" cy="189.0" r="5.4" fill="url(#sg)"/><circle cx="75.2" cy="189.0" r="5.4" fill="url(#sg)"/><circle cx="85.2" cy="189.0" r="5.4" fill="url(#sg)"/><circle cx="95.2" cy="189.0" r="5.4" fill="url(#sg)"/><circle cx="105.3" cy="189.0" r="5.4" fill="url(#sg)"/><circle cx="115.3" cy="189.0" r="5.4" fill="url(#sg)"/><circle cx="125.3" cy="189.0" r="5.4" fill="url(#sg)"/><circle cx="135.3" cy="189.0" r="5.4" fill="url(#sg)"/><circle cx="145.4" cy="189.0" r="5.4" fill="url(#sg)"/><circle cx="155.4" cy="189.0" r="5.4" fill="url(#sg)"/><circle cx="165.4" cy="189.0" r="5.4" fill="url(#sg)"/><circle cx="175.5" cy="189.0" r="5.4" fill="url(#sg)"/><circle cx="185.5" cy="189.0" r="5.4" fill="url(#sg)"/><circle cx="195.5" cy="189.0" r="5.4" fill="url(#sg)"/><circle cx="205.6" cy="189.0" r="5.4" fill="url(#sg)"/><circle cx="215.6" cy="189.0" r="5.4" fill="url(#sg)"/><circle cx="225.6" cy="189.0" r="5.4" fill="url(#sg)"/><circle cx="235.6" cy="189.0" r="5.4" fill="url(#sg)"/><circle cx="245.7" cy="189.0" r="5.4" fill="url(#sg)"/><circle cx="255.7" cy="189.0" r="5.4" fill="url(#sg)"/><circle cx="265.7" cy="189.0" r="5.4" fill="url(#sg)"/><circle cx="275.8" cy="189.0" r="5.4" fill="url(#sg)"/><circle cx="285.8" cy="189.0" r="5.4" fill="url(#sg)"/><circle cx="295.8" cy="189.0" r="5.4" fill="url(#sg)"/><circle cx="305.9" cy="189.0" r="5.4" fill="url(#sg)"/><circle cx="315.9" cy="189.0" r="5.4" fill="url(#sg)"/><circle cx="325.9" cy="189.0" r="5.4" fill="url(#sg)"/><circle cx="335.9" cy="189.0" r="5.4" fill="url(#sg)"/><circle cx="346.0" cy="189.0" r="5.4" fill="url(#sg)"/><circle cx="356.0" cy="189.0" r="5.4" fill="url(#sg)"/><circle cx="366.0" cy="189.0" r="5.4" fill="url(#sg)"/><circle cx="376.1" cy="189.0" r="5.4" fill="url(#sg)"/><circle cx="386.1" cy="189.0" r="5.4" fill="url(#sg)"/><circle cx="396.1" cy="189.0" r="5.4" fill="url(#sg)"/><circle cx="406.2" cy="189.0" r="5.4" fill="url(#sg)"/><circle cx="416.2" cy="189.0" r="5.4" fill="url(#sg)"/><circle cx="426.2" cy="189.0" r="5.4" fill="url(#sg)"/><circle cx="436.2" cy="189.0" r="5.4" fill="url(#sg)"/><circle cx="446.3" cy="189.0" r="5.4" fill="url(#sg)"/><circle cx="456.3" cy="189.0" r="5.4" fill="url(#sg)"/><circle cx="45.1" cy="199.0" r="5.4" fill="url(#sg)"/><circle cx="55.1" cy="199.0" r="5.4" fill="url(#sg)"/><circle cx="65.1" cy="199.0" r="5.4" fill="url(#sg)"/><circle cx="75.2" cy="199.0" r="5.4" fill="url(#sg)"/><circle cx="85.2" cy="199.0" r="5.4" fill="url(#sg)"/><circle cx="95.2" cy="199.0" r="5.4" fill="url(#sg)"/><circle cx="105.3" cy="199.0" r="5.4" fill="url(#sg)"/><circle cx="115.3" cy="199.0" r="5.4" fill="url(#sg)"/><circle cx="125.3" cy="199.0" r="5.4" fill="url(#sg)"/><circle cx="135.3" cy="199.0" r="5.4" fill="url(#sg)"/><circle cx="145.4" cy="199.0" r="5.4" fill="url(#sg)"/><circle cx="155.4" cy="199.0" r="5.4" fill="url(#sg)"/><circle cx="165.4" cy="199.0" r="5.4" fill="url(#sg)"/><circle cx="175.5" cy="199.0" r="5.4" fill="url(#sg)"/><circle cx="185.5" cy="199.0" r="5.4" fill="url(#sg)"/><circle cx="195.5" cy="199.0" r="5.4" fill="url(#sg)"/><circle cx="205.6" cy="199.0" r="5.4" fill="url(#sg)"/><circle cx="215.6" cy="199.0" r="5.4" fill="url(#sg)"/><circle cx="225.6" cy="199.0" r="5.4" fill="url(#sg)"/><circle cx="235.6" cy="199.0" r="5.4" fill="url(#sg)"/><circle cx="245.7" cy="199.0" r="5.4" fill="url(#sg)"/><circle cx="255.7" cy="199.0" r="5.4" fill="url(#sg)"/><circle cx="265.7" cy="199.0" r="5.4" fill="url(#sg)"/><circle cx="275.8" cy="199.0" r="5.4" fill="url(#sg)"/><circle cx="285.8" cy="199.0" r="5.4" fill="url(#sg)"/><circle cx="295.8" cy="199.0" r="5.4" fill="url(#sg)"/><circle cx="305.9" cy="199.0" r="5.4" fill="url(#sg)"/><circle cx="315.9" cy="199.0" r="5.4" fill="url(#sg)"/><circle cx="325.9" cy="199.0" r="5.4" fill="url(#sg)"/><circle cx="335.9" cy="199.0" r="5.4" fill="url(#sg)"/><circle cx="346.0" cy="199.0" r="5.4" fill="url(#sg)"/><circle cx="356.0" cy="199.0" r="5.4" fill="url(#sg)"/><circle cx="366.0" cy="199.0" r="5.4" fill="url(#sg)"/><circle cx="376.1" cy="199.0" r="5.4" fill="url(#sg)"/><circle cx="386.1" cy="199.0" r="5.4" fill="url(#sg)"/><circle cx="396.1" cy="199.0" r="5.4" fill="url(#sg)"/><circle cx="406.2" cy="199.0" r="5.4" fill="url(#sg)"/><circle cx="416.2" cy="199.0" r="5.4" fill="url(#sg)"/><circle cx="426.2" cy="199.0" r="5.4" fill="url(#sg)"/><circle cx="436.2" cy="199.0" r="5.4" fill="url(#sg)"/><circle cx="446.3" cy="199.0" r="5.4" fill="url(#sg)"/><circle cx="456.3" cy="199.0" r="5.4" fill="url(#sg)"/><circle cx="45.1" cy="209.1" r="5.4" fill="url(#sg)"/><circle cx="55.1" cy="209.1" r="5.4" fill="url(#sg)"/><circle cx="65.1" cy="209.1" r="5.4" fill="url(#sg)"/><circle cx="75.2" cy="209.1" r="5.4" fill="url(#sg)"/><circle cx="85.2" cy="209.1" r="5.4" fill="url(#sg)"/><circle cx="95.2" cy="209.1" r="5.4" fill="url(#sg)"/><circle cx="105.3" cy="209.1" r="5.4" fill="url(#sg)"/><circle cx="115.3" cy="209.1" r="5.4" fill="url(#sg)"/><circle cx="125.3" cy="209.1" r="5.4" fill="url(#sg)"/><circle cx="135.3" cy="209.1" r="5.4" fill="url(#sg)"/><circle cx="145.4" cy="209.1" r="5.4" fill="url(#sg)"/><circle cx="155.4" cy="209.1" r="5.4" fill="url(#sg)"/><circle cx="165.4" cy="209.1" r="5.4" fill="url(#sg)"/><circle cx="175.5" cy="209.1" r="5.4" fill="url(#sg)"/><circle cx="185.5" cy="209.1" r="5.4" fill="url(#sg)"/><circle cx="195.5" cy="209.1" r="5.4" fill="url(#sg)"/><circle cx="205.6" cy="209.1" r="5.4" fill="url(#sg)"/><circle cx="215.6" cy="209.1" r="5.4" fill="url(#sg)"/><circle cx="225.6" cy="209.1" r="5.4" fill="url(#sg)"/><circle cx="235.6" cy="209.1" r="5.4" fill="url(#sg)"/><circle cx="245.7" cy="209.1" r="5.4" fill="url(#sg)"/><circle cx="255.7" cy="209.1" r="5.4" fill="url(#sg)"/><circle cx="265.7" cy="209.1" r="5.4" fill="url(#sg)"/><circle cx="275.8" cy="209.1" r="5.4" fill="url(#sg)"/><circle cx="285.8" cy="209.1" r="5.4" fill="url(#sg)"/><circle cx="295.8" cy="209.1" r="5.4" fill="url(#sg)"/><circle cx="305.9" cy="209.1" r="5.4" fill="url(#sg)"/><circle cx="315.9" cy="209.1" r="5.4" fill="url(#sg)"/><circle cx="325.9" cy="209.1" r="5.4" fill="url(#sg)"/><circle cx="335.9" cy="209.1" r="5.4" fill="url(#sg)"/><circle cx="346.0" cy="209.1" r="5.4" fill="url(#sg)"/><circle cx="356.0" cy="209.1" r="5.4" fill="url(#sg)"/><circle cx="366.0" cy="209.1" r="5.4" fill="url(#sg)"/><circle cx="376.1" cy="209.1" r="5.4" fill="url(#sg)"/><circle cx="386.1" cy="209.1" r="5.4" fill="url(#sg)"/><circle cx="396.1" cy="209.1" r="5.4" fill="url(#sg)"/><circle cx="406.2" cy="209.1" r="5.4" fill="url(#sg)"/><circle cx="416.2" cy="209.1" r="5.4" fill="url(#sg)"/><circle cx="426.2" cy="209.1" r="5.4" fill="url(#sg)"/><circle cx="436.2" cy="209.1" r="5.4" fill="url(#sg)"/><circle cx="446.3" cy="209.1" r="5.4" fill="url(#sg)"/><circle cx="456.3" cy="209.1" r="5.4" fill="url(#sg)"/><circle cx="45.1" cy="219.1" r="5.4" fill="url(#sg)"/><circle cx="55.1" cy="219.1" r="5.4" fill="url(#sg)"/><circle cx="65.1" cy="219.1" r="5.4" fill="url(#sg)"/><circle cx="75.2" cy="219.1" r="5.4" fill="url(#sg)"/><circle cx="85.2" cy="219.1" r="5.4" fill="url(#sg)"/><circle cx="95.2" cy="219.1" r="5.4" fill="url(#sg)"/><circle cx="105.3" cy="219.1" r="5.4" fill="url(#sg)"/><circle cx="115.3" cy="219.1" r="5.4" fill="url(#sg)"/><circle cx="125.3" cy="219.1" r="5.4" fill="url(#sg)"/><circle cx="135.3" cy="219.1" r="5.4" fill="url(#sg)"/><circle cx="145.4" cy="219.1" r="5.4" fill="url(#sg)"/><circle cx="155.4" cy="219.1" r="5.4" fill="url(#sg)"/><circle cx="165.4" cy="219.1" r="5.4" fill="url(#sg)"/><circle cx="175.5" cy="219.1" r="5.4" fill="url(#sg)"/><circle cx="185.5" cy="219.1" r="5.4" fill="url(#sg)"/><circle cx="195.5" cy="219.1" r="5.4" fill="url(#sg)"/><circle cx="205.6" cy="219.1" r="5.4" fill="url(#sg)"/><circle cx="215.6" cy="219.1" r="5.4" fill="url(#sg)"/><circle cx="225.6" cy="219.1" r="5.4" fill="url(#sg)"/><circle cx="235.6" cy="219.1" r="5.4" fill="url(#sg)"/><circle cx="245.7" cy="219.1" r="5.4" fill="url(#sg)"/><circle cx="255.7" cy="219.1" r="5.4" fill="url(#sg)"/><circle cx="265.7" cy="219.1" r="5.4" fill="url(#sg)"/><circle cx="275.8" cy="219.1" r="5.4" fill="url(#sg)"/><circle cx="285.8" cy="219.1" r="5.4" fill="url(#sg)"/><circle cx="295.8" cy="219.1" r="5.4" fill="url(#sg)"/><circle cx="305.9" cy="219.1" r="5.4" fill="url(#sg)"/><circle cx="315.9" cy="219.1" r="5.4" fill="url(#sg)"/><circle cx="325.9" cy="219.1" r="5.4" fill="url(#sg)"/><circle cx="335.9" cy="219.1" r="5.4" fill="url(#sg)"/><circle cx="346.0" cy="219.1" r="5.4" fill="url(#sg)"/><circle cx="356.0" cy="219.1" r="5.4" fill="url(#sg)"/><circle cx="366.0" cy="219.1" r="5.4" fill="url(#sg)"/><circle cx="376.1" cy="219.1" r="5.4" fill="url(#sg)"/><circle cx="386.1" cy="219.1" r="5.4" fill="url(#sg)"/><circle cx="396.1" cy="219.1" r="5.4" fill="url(#sg)"/><circle cx="406.2" cy="219.1" r="5.4" fill="url(#sg)"/><circle cx="416.2" cy="219.1" r="5.4" fill="url(#sg)"/><circle cx="426.2" cy="219.1" r="5.4" fill="url(#sg)"/><circle cx="436.2" cy="219.1" r="5.4" fill="url(#sg)"/><circle cx="446.3" cy="219.1" r="5.4" fill="url(#sg)"/><circle cx="456.3" cy="219.1" r="5.4" fill="url(#sg)"/><circle cx="45.1" cy="229.1" r="5.4" fill="url(#sg)"/><circle cx="55.1" cy="229.1" r="5.4" fill="url(#sg)"/><circle cx="65.1" cy="229.1" r="5.4" fill="url(#sg)"/><circle cx="75.2" cy="229.1" r="5.4" fill="url(#sg)"/><circle cx="85.2" cy="229.1" r="5.4" fill="url(#sg)"/><circle cx="95.2" cy="229.1" r="5.4" fill="url(#sg)"/><circle cx="105.3" cy="229.1" r="5.4" fill="url(#sg)"/><circle cx="115.3" cy="229.1" r="5.4" fill="url(#sg)"/><circle cx="125.3" cy="229.1" r="5.4" fill="url(#sg)"/><circle cx="135.3" cy="229.1" r="5.4" fill="url(#sg)"/><circle cx="145.4" cy="229.1" r="5.4" fill="url(#sg)"/><circle cx="155.4" cy="229.1" r="5.4" fill="url(#sg)"/><circle cx="165.4" cy="229.1" r="5.4" fill="url(#sg)"/><circle cx="175.5" cy="229.1" r="5.4" fill="url(#sg)"/><circle cx="185.5" cy="229.1" r="5.4" fill="url(#sg)"/><circle cx="195.5" cy="229.1" r="5.4" fill="url(#sg)"/><circle cx="205.6" cy="229.1" r="5.4" fill="url(#sg)"/><circle cx="215.6" cy="229.1" r="5.4" fill="url(#sg)"/><circle cx="225.6" cy="229.1" r="5.4" fill="url(#sg)"/><circle cx="235.6" cy="229.1" r="5.4" fill="url(#sg)"/><circle cx="245.7" cy="229.1" r="5.4" fill="url(#sg)"/><circle cx="255.7" cy="229.1" r="5.4" fill="url(#sg)"/><circle cx="265.7" cy="229.1" r="5.4" fill="url(#sg)"/><circle cx="275.8" cy="229.1" r="5.4" fill="url(#sg)"/><circle cx="285.8" cy="229.1" r="5.4" fill="url(#sg)"/><circle cx="295.8" cy="229.1" r="5.4" fill="url(#sg)"/><circle cx="305.9" cy="229.1" r="5.4" fill="url(#sg)"/><circle cx="315.9" cy="229.1" r="5.4" fill="url(#sg)"/><circle cx="325.9" cy="229.1" r="5.4" fill="url(#sg)"/><circle cx="335.9" cy="229.1" r="5.4" fill="url(#sg)"/><circle cx="346.0" cy="229.1" r="5.4" fill="url(#sg)"/><circle cx="356.0" cy="229.1" r="5.4" fill="url(#sg)"/><circle cx="366.0" cy="229.1" r="5.4" fill="url(#sg)"/><circle cx="376.1" cy="229.1" r="5.4" fill="url(#sg)"/><circle cx="386.1" cy="229.1" r="5.4" fill="url(#sg)"/><circle cx="396.1" cy="229.1" r="5.4" fill="url(#sg)"/><circle cx="406.2" cy="229.1" r="5.4" fill="url(#sg)"/><circle cx="416.2" cy="229.1" r="5.4" fill="url(#sg)"/><circle cx="426.2" cy="229.1" r="5.4" fill="url(#sg)"/><circle cx="436.2" cy="229.1" r="5.4" fill="url(#sg)"/><circle cx="446.3" cy="229.1" r="5.4" fill="url(#sg)"/><circle cx="456.3" cy="229.1" r="5.4" fill="url(#sg)"/><circle cx="45.1" cy="239.1" r="5.4" fill="url(#sg)"/><circle cx="55.1" cy="239.1" r="5.4" fill="url(#sg)"/><circle cx="65.1" cy="239.1" r="5.4" fill="url(#sg)"/><circle cx="75.2" cy="239.1" r="5.4" fill="url(#sg)"/><circle cx="85.2" cy="239.1" r="5.4" fill="url(#sg)"/><circle cx="95.2" cy="239.1" r="5.4" fill="url(#sg)"/><circle cx="105.3" cy="239.1" r="5.4" fill="url(#sg)"/><circle cx="115.3" cy="239.1" r="5.4" fill="url(#sg)"/><circle cx="125.3" cy="239.1" r="5.4" fill="url(#sg)"/><circle cx="135.3" cy="239.1" r="5.4" fill="url(#sg)"/><circle cx="145.4" cy="239.1" r="5.4" fill="url(#sg)"/><circle cx="155.4" cy="239.1" r="5.4" fill="url(#sg)"/><circle cx="165.4" cy="239.1" r="5.4" fill="url(#sg)"/><circle cx="175.5" cy="239.1" r="5.4" fill="url(#sg)"/><circle cx="185.5" cy="239.1" r="5.4" fill="url(#sg)"/><circle cx="195.5" cy="239.1" r="5.4" fill="url(#sg)"/><circle cx="205.6" cy="239.1" r="5.4" fill="url(#sg)"/><circle cx="215.6" cy="239.1" r="5.4" fill="url(#sg)"/><circle cx="225.6" cy="239.1" r="5.4" fill="url(#sg)"/><circle cx="235.6" cy="239.1" r="5.4" fill="url(#sg)"/><circle cx="245.7" cy="239.1" r="5.4" fill="url(#sg)"/><circle cx="255.7" cy="239.1" r="5.4" fill="url(#sg)"/><circle cx="265.7" cy="239.1" r="5.4" fill="url(#sg)"/><circle cx="275.8" cy="239.1" r="5.4" fill="url(#sg)"/><circle cx="285.8" cy="239.1" r="5.4" fill="url(#sg)"/><circle cx="295.8" cy="239.1" r="5.4" fill="url(#sg)"/><circle cx="305.9" cy="239.1" r="5.4" fill="url(#sg)"/><circle cx="315.9" cy="239.1" r="5.4" fill="url(#sg)"/><circle cx="325.9" cy="239.1" r="5.4" fill="url(#sg)"/><circle cx="335.9" cy="239.1" r="5.4" fill="url(#sg)"/><circle cx="346.0" cy="239.1" r="5.4" fill="url(#sg)"/><circle cx="356.0" cy="239.1" r="5.4" fill="url(#sg)"/><circle cx="366.0" cy="239.1" r="5.4" fill="url(#sg)"/><circle cx="376.1" cy="239.1" r="5.4" fill="url(#sg)"/><circle cx="386.1" cy="239.1" r="5.4" fill="url(#sg)"/><circle cx="396.1" cy="239.1" r="5.4" fill="url(#sg)"/><circle cx="406.2" cy="239.1" r="5.4" fill="url(#sg)"/><circle cx="416.2" cy="239.1" r="5.4" fill="url(#sg)"/><circle cx="426.2" cy="239.1" r="5.4" fill="url(#sg)"/><circle cx="436.2" cy="239.1" r="5.4" fill="url(#sg)"/><circle cx="446.3" cy="239.1" r="5.4" fill="url(#sg)"/><circle cx="456.3" cy="239.1" r="5.4" fill="url(#sg)"/><circle cx="45.1" cy="249.2" r="5.4" fill="url(#sg)"/><circle cx="55.1" cy="249.2" r="5.4" fill="url(#sg)"/><circle cx="65.1" cy="249.2" r="5.4" fill="url(#sg)"/><circle cx="75.2" cy="249.2" r="5.4" fill="url(#sg)"/><circle cx="85.2" cy="249.2" r="5.4" fill="url(#sg)"/><circle cx="95.2" cy="249.2" r="5.4" fill="url(#sg)"/><circle cx="105.3" cy="249.2" r="5.4" fill="url(#sg)"/><circle cx="115.3" cy="249.2" r="5.4" fill="url(#sg)"/><circle cx="125.3" cy="249.2" r="5.4" fill="url(#sg)"/><circle cx="135.3" cy="249.2" r="5.4" fill="url(#sg)"/><circle cx="145.4" cy="249.2" r="5.4" fill="url(#sg)"/><circle cx="155.4" cy="249.2" r="5.4" fill="url(#sg)"/><circle cx="165.4" cy="249.2" r="5.4" fill="url(#sg)"/><circle cx="175.5" cy="249.2" r="5.4" fill="url(#sg)"/><circle cx="185.5" cy="249.2" r="5.4" fill="url(#sg)"/><circle cx="195.5" cy="249.2" r="5.4" fill="url(#sg)"/><circle cx="205.6" cy="249.2" r="5.4" fill="url(#sg)"/><circle cx="215.6" cy="249.2" r="5.4" fill="url(#sg)"/><circle cx="225.6" cy="249.2" r="5.4" fill="url(#sg)"/><circle cx="235.6" cy="249.2" r="5.4" fill="url(#sg)"/><circle cx="245.7" cy="249.2" r="5.4" fill="url(#sg)"/><circle cx="255.7" cy="249.2" r="5.4" fill="url(#sg)"/><circle cx="265.7" cy="249.2" r="5.4" fill="url(#sg)"/><circle cx="275.8" cy="249.2" r="5.4" fill="url(#sg)"/><circle cx="285.8" cy="249.2" r="5.4" fill="url(#sg)"/><circle cx="295.8" cy="249.2" r="5.4" fill="url(#sg)"/><circle cx="305.9" cy="249.2" r="5.4" fill="url(#sg)"/><circle cx="315.9" cy="249.2" r="5.4" fill="url(#sg)"/><circle cx="325.9" cy="249.2" r="5.4" fill="url(#sg)"/><circle cx="335.9" cy="249.2" r="5.4" fill="url(#sg)"/><circle cx="346.0" cy="249.2" r="5.4" fill="url(#sg)"/><circle cx="356.0" cy="249.2" r="5.4" fill="url(#sg)"/><circle cx="366.0" cy="249.2" r="5.4" fill="url(#sg)"/><circle cx="376.1" cy="249.2" r="5.4" fill="url(#sg)"/><circle cx="386.1" cy="249.2" r="5.4" fill="url(#sg)"/><circle cx="396.1" cy="249.2" r="5.4" fill="url(#sg)"/><circle cx="406.2" cy="249.2" r="5.4" fill="url(#sg)"/><circle cx="416.2" cy="249.2" r="5.4" fill="url(#sg)"/><circle cx="426.2" cy="249.2" r="5.4" fill="url(#sg)"/><circle cx="436.2" cy="249.2" r="5.4" fill="url(#sg)"/><circle cx="446.3" cy="249.2" r="5.4" fill="url(#sg)"/><circle cx="456.3" cy="249.2" r="5.4" fill="url(#sg)"/></g><path d="M74.0 149.9 L77.0 146.9 L80.0 143.9 L83.0 142.0 L86.0 140.4 L89.0 138.7 L92.0 137.0 L95.0 135.3 L98.0 133.6 L101.0 131.5 L104.0 129.4 L107.0 127.3 L110.0 125.2 L113.0 123.5 L116.0 122.0 L119.0 120.4 L122.0 118.9 L125.0 117.4 L128.0 115.9 L131.0 114.6 L134.0 113.3 L137.0 112.1 L140.0 110.8 L143.0 109.6 L146.0 108.5 L149.0 107.4 L152.0 106.4 L155.0 105.3 L158.0 104.2 L161.0 103.2 L164.0 102.1 L167.0 101.0 L170.0 100.0 L173.0 98.9 L176.0 97.8 L179.0 96.7 L182.0 96.0 L185.0 95.4 L188.0 94.8 L191.0 94.2 L194.0 93.5 L197.0 92.9 L200.0 92.3 L203.0 91.8 L206.0 91.2 L209.0 90.7 L212.0 90.1 L215.0 89.6 L218.0 89.3 L221.0 89.0 L224.0 88.7 L227.0 88.5 L230.0 88.2 L233.0 87.9 L236.0 87.6 L239.0 87.4 L242.0 87.2 L245.0 87.1 L248.0 87.0 L251.0 86.9 L254.0 86.8 L257.0 86.7 L260.0 86.6 L263.0 86.5 L266.0 86.4 L269.0 86.4 L272.0 86.8 L275.0 87.2 L278.0 87.5 L281.0 87.9 L284.0 88.3 L287.0 88.7 L290.0 89.0 L293.0 89.5 L296.0 90.2 L299.0 90.8 L302.0 91.5 L305.0 92.2 L308.0 92.8 L311.0 93.5 L314.0 94.1 L317.0 94.8 L320.0 95.7 L323.0 96.5 L326.0 97.4 L329.0 98.2 L332.0 99.2 L335.0 100.3 L338.0 101.4 L341.0 102.5 L344.0 103.6 L347.0 104.7 L350.0 105.9 L353.0 107.1 L356.0 108.3 L359.0 109.5 L362.0 110.7 L365.0 111.9 L368.0 113.1 L371.0 114.3 L374.0 117.0 L377.0 119.6 L380.0 122.3 L383.0 124.9 L386.0 127.4 L389.0 129.8 L392.0 132.3 L395.0 134.8 L398.0 138.4 L401.0 142.9 L402 154 L74 154Z" fill="#484848"/><path d="M110.0 125.2 L113.0 123.5 L116.0 122.0 L119.0 120.4 L122.0 118.9 L125.0 117.4 L128.0 115.9 L131.0 114.6 L134.0 113.3 L137.0 112.1 L140.0 110.8 L143.0 109.6 L146.0 108.5 L149.0 107.4 L152.0 106.4 L155.0 105.3 L158.0 104.2 L161.0 103.2 L164.0 102.1 L167.0 101.0 L170.0 100.0 L173.0 98.9 L176.0 97.8 L179.0 96.7 L182.0 96.0 L185.0 95.4 L188.0 94.8 L191.0 94.2 L194.0 93.5 L197.0 92.9 L200.0 92.3 L203.0 91.8 L206.0 91.2 L209.0 90.7 L212.0 90.1 L215.0 89.6 L218.0 89.3 L221.0 89.0 L224.0 88.7 L227.0 88.5 L230.0 88.2 L233.0 87.9 L236.0 87.6 L239.0 87.4 L242.0 87.2 L245.0 87.1 L248.0 87.0 L251.0 86.9 L254.0 86.8 L257.0 86.7 L260.0 86.6 L263.0 86.5 L266.0 86.4 L269.0 86.4 L272.0 86.8 L275.0 87.2 L278.0 87.5 L281.0 87.9 L284.0 88.3 L287.0 88.7 L290.0 89.0 L293.0 89.5 L296.0 90.2 L299.0 90.8 L302.0 91.5 L305.0 92.2 L308.0 92.8 L311.0 93.5 L314.0 94.1 L317.0 94.8 L320.0 95.7 L323.0 96.5 L326.0 97.4 L329.0 98.2 L332.0 99.2 L335.0 100.3 L338.0 101.4 L341.0 102.5 L344.0 103.6 L347.0 104.7 L350.0 105.9 L353.0 107.1 L356.0 108.3 L359.0 109.5 L362.0 110.7 L365.0 111.9 L368.0 113.1 L371.0 114.3 L374.0 117.0 L374.0 121.5 L371.0 129.0 L368.0 129.2 L365.0 129.3 L362.0 129.5 L359.0 129.7 L356.0 129.9 L353.0 130.1 L350.0 130.3 L347.0 130.5 L344.0 130.7 L341.0 130.8 L338.0 131.0 L335.0 131.2 L332.0 131.3 L329.0 131.5 L326.0 131.7 L323.0 131.8 L320.0 132.0 L317.0 132.7 L314.0 133.4 L311.0 134.1 L308.0 134.9 L305.0 135.6 L302.0 135.7 L299.0 135.7 L296.0 135.7 L293.0 135.7 L290.0 135.1 L287.0 134.3 L284.0 133.4 L281.0 132.6 L278.0 132.2 L275.0 132.7 L272.0 133.3 L269.0 133.8 L266.0 134.4 L263.0 133.7 L260.0 133.0 L257.0 132.3 L254.0 131.6 L251.0 131.0 L248.0 130.7 L245.0 131.2 L242.0 131.8 L239.0 132.2 L236.0 132.5 L233.0 132.8 L230.0 133.1 L227.0 133.4 L224.0 135.2 L221.0 136.9 L218.0 138.7 L215.0 140.5 L212.0 140.3 L209.0 140.2 L206.0 140.1 L203.0 140.1 L200.0 140.2 L197.0 140.4 L194.0 140.5 L191.0 140.7 L188.0 140.8 L185.0 141.0 L182.0 141.0 L179.0 141.0 L176.0 141.0 L173.0 141.0 L170.0 141.0 L167.0 141.0 L164.0 141.0 L161.0 141.0 L158.0 141.1 L155.0 141.3 L152.0 141.4 L149.0 141.5 L146.0 141.6 L143.0 141.7 L140.0 141.9 L137.0 142.0 L134.0 142.2 L131.0 142.5 L128.0 142.7 L125.0 143.0 L122.0 143.2 L119.0 142.2 L116.0 140.6 L113.0 139.0 L110.0 134.8Z" fill="#0a8a14"/><circle cx="102.2" cy="140.0" r="4.9" fill="url(#sh)"/><circle cx="331.6" cy="141.0" r="4.9" fill="url(#sh)"/><circle cx="389.8" cy="135.0" r="4.9" fill="url(#sh)"/><circle cx="168.6" cy="126.7" r="4.9" fill="url(#sl)"/><circle cx="170.1" cy="132.6" r="4.9" fill="url(#sl)"/><circle cx="229.5" cy="151.9" r="4.9" fill="url(#sh)"/><circle cx="231.9" cy="125.1" r="4.9" fill="url(#sc)"/><circle cx="250.7" cy="149.5" r="4.9" fill="url(#sh)"/><circle cx="362.9" cy="139.0" r="4.9" fill="url(#sh)"/><circle cx="247.4" cy="122.6" r="4.9" fill="url(#sG)"/><circle cx="225.6" cy="126.7" r="4.9" fill="url(#sG)"/><circle cx="223.5" cy="147.0" r="4.9" fill="url(#sh)"/><circle cx="263.3" cy="127.2" r="4.9" fill="url(#sl)"/><circle cx="211.0" cy="140.8" r="4.9" fill="url(#sh)"/><circle cx="203.8" cy="131.1" r="4.9" fill="url(#sG)"/><circle cx="318.3" cy="125.8" r="4.9" fill="url(#sG)"/><circle cx="271.1" cy="131.7" r="4.9" fill="url(#sl)"/><circle cx="169.2" cy="141.9" r="4.9" fill="url(#sh)"/><circle cx="314.1" cy="141.0" r="4.9" fill="url(#sh)"/><circle cx="290.2" cy="121.7" r="4.9" fill="url(#sc)"/><circle cx="314.4" cy="101.3" r="4.9" fill="url(#sl)"/><circle cx="192.3" cy="116.3" r="4.9" fill="url(#sc)"/><circle cx="260.8" cy="102.2" r="4.9" fill="url(#sG)"/><circle cx="235.5" cy="94.8" r="4.9" fill="url(#sl)"/><circle cx="234.4" cy="101.1" r="4.9" fill="url(#sl)"/><circle cx="115.7" cy="126.6" r="4.9" fill="url(#sc)"/><circle cx="216.1" cy="99.9" r="4.9" fill="url(#sa)"/><circle cx="141.6" cy="130.0" r="4.9" fill="url(#sG)"/><circle cx="345.3" cy="134.9" r="4.9" fill="url(#sh)"/><circle cx="362.5" cy="120.6" r="4.9" fill="url(#sG)"/><circle cx="246.6" cy="142.9" r="4.9" fill="url(#sh)"/><circle cx="135.6" cy="130.1" r="4.9" fill="url(#sG)"/><circle cx="234.7" cy="130.6" r="4.9" fill="url(#sc)"/><circle cx="368.3" cy="123.0" r="4.9" fill="url(#sc)"/><circle cx="96.1" cy="152.0" r="4.9" fill="url(#sh)"/><circle cx="400.8" cy="152.0" r="4.9" fill="url(#sh)"/><circle cx="368.5" cy="136.7" r="4.9" fill="url(#sh)"/><circle cx="154.3" cy="116.0" r="4.9" fill="url(#sl)"/><circle cx="378.9" cy="150.3" r="4.9" fill="url(#sh)"/><circle cx="177.6" cy="130.2" r="4.9" fill="url(#sc)"/><circle cx="325.9" cy="126.9" r="4.9" fill="url(#sG)"/><circle cx="292.6" cy="131.4" r="4.9" fill="url(#sG)"/><circle cx="279.4" cy="131.9" r="4.9" fill="url(#sh)"/><circle cx="191.5" cy="130.8" r="4.9" fill="url(#sc)"/><circle cx="255.2" cy="90.1" r="4.9" fill="url(#so)"/><circle cx="252.8" cy="126.3" r="4.9" fill="url(#sG)"/><circle cx="123.9" cy="129.0" r="4.9" fill="url(#sc)"/><circle cx="138.3" cy="137.8" r="4.9" fill="url(#sG)"/><circle cx="364.1" cy="129.2" r="4.9" fill="url(#sh)"/><circle cx="287.0" cy="102.9" r="4.9" fill="url(#sl)"/><circle cx="156.2" cy="127.8" r="4.9" fill="url(#sc)"/><circle cx="379.3" cy="143.4" r="4.9" fill="url(#sh)"/><circle cx="333.1" cy="130.7" r="4.9" fill="url(#sh)"/><circle cx="216.2" cy="137.5" r="4.9" fill="url(#sG)"/><circle cx="271.6" cy="105.4" r="4.9" fill="url(#sa)"/><circle cx="185.9" cy="140.0" r="4.9" fill="url(#sh)"/><circle cx="185.5" cy="123.3" r="4.9" fill="url(#sG)"/><circle cx="339.2" cy="129.3" r="4.9" fill="url(#sG)"/><circle cx="289.5" cy="96.1" r="4.9" fill="url(#sG)"/><circle cx="226.7" cy="113.0" r="4.9" fill="url(#sG)"/><circle cx="232.0" cy="139.9" r="4.9" fill="url(#sh)"/><circle cx="294.7" cy="93.0" r="4.9" fill="url(#sG)"/><circle cx="176.3" cy="123.3" r="4.9" fill="url(#sl)"/><circle cx="109.9" cy="128.6" r="4.9" fill="url(#sG)"/><circle cx="176.5" cy="108.2" r="4.9" fill="url(#sG)"/><circle cx="295.6" cy="114.3" r="4.9" fill="url(#sG)"/><circle cx="221.5" cy="93.5" r="4.9" fill="url(#sa)"/><circle cx="208.4" cy="115.1" r="4.9" fill="url(#sG)"/><circle cx="346.0" cy="106.5" r="4.9" fill="url(#sG)"/><circle cx="323.3" cy="151.5" r="4.9" fill="url(#sh)"/><circle cx="312.0" cy="127.6" r="4.9" fill="url(#sG)"/><circle cx="134.1" cy="115.6" r="4.9" fill="url(#sc)"/><circle cx="165.3" cy="136.9" r="4.9" fill="url(#sc)"/><circle cx="328.3" cy="100.6" r="4.9" fill="url(#sl)"/><circle cx="147.1" cy="113.2" r="4.9" fill="url(#sy)"/><circle cx="328.0" cy="135.4" r="4.9" fill="url(#sh)"/><circle cx="286.4" cy="134.9" r="4.9" fill="url(#sh)"/><circle cx="334.5" cy="124.2" r="4.9" fill="url(#sG)"/><circle cx="114.4" cy="138.8" r="4.9" fill="url(#sh)"/><circle cx="274.9" cy="113.4" r="4.9" fill="url(#sl)"/><circle cx="258.8" cy="122.0" r="4.9" fill="url(#sG)"/><circle cx="185.4" cy="98.5" r="4.9" fill="url(#sl)"/><circle cx="117.4" cy="144.2" r="4.9" fill="url(#sh)"/><circle cx="335.9" cy="147.2" r="4.9" fill="url(#sh)"/><circle cx="129.9" cy="127.8" r="4.9" fill="url(#sc)"/><circle cx="191.4" cy="105.4" r="4.9" fill="url(#sl)"/><circle cx="316.6" cy="110.3" r="4.9" fill="url(#sG)"/><circle cx="188.3" cy="146.1" r="4.9" fill="url(#sh)"/><circle cx="217.7" cy="144.2" r="4.9" fill="url(#sh)"/><circle cx="301.8" cy="113.0" r="4.9" fill="url(#sG)"/><circle cx="266.5" cy="99.4" r="4.9" fill="url(#sG)"/><circle cx="369.6" cy="116.6" r="4.9" fill="url(#sc)"/><circle cx="137.6" cy="121.4" r="4.9" fill="url(#sG)"/><circle cx="293.5" cy="101.6" r="4.9" fill="url(#sl)"/><circle cx="88.2" cy="143.3" r="4.9" fill="url(#sh)"/><circle cx="305.7" cy="145.4" r="4.9" fill="url(#sh)"/><circle cx="329.0" cy="108.1" r="4.9" fill="url(#sl)"/><circle cx="345.0" cy="145.3" r="4.9" fill="url(#sh)"/><circle cx="299.9" cy="147.3" r="4.9" fill="url(#sh)"/><circle cx="359.1" cy="115.5" r="4.9" fill="url(#sG)"/><circle cx="90.3" cy="149.2" r="4.9" fill="url(#sh)"/><circle cx="305.6" cy="122.4" r="4.9" fill="url(#sG)"/><circle cx="97.6" cy="144.4" r="4.9" fill="url(#sh)"/><circle cx="343.7" cy="120.9" r="4.9" fill="url(#sG)"/><circle cx="157.4" cy="110.0" r="4.9" fill="url(#sy)"/><circle cx="357.6" cy="149.2" r="4.9" fill="url(#sh)"/><circle cx="185.1" cy="113.6" r="4.9" fill="url(#sG)"/><circle cx="349.5" cy="128.4" r="4.9" fill="url(#sG)"/><circle cx="208.0" cy="146.6" r="4.9" fill="url(#sh)"/><circle cx="225.7" cy="132.8" r="4.9" fill="url(#sG)"/><circle cx="123.6" cy="143.8" r="4.9" fill="url(#sh)"/><circle cx="244.3" cy="92.2" r="4.9" fill="url(#sa)"/><circle cx="319.0" cy="137.1" r="4.9" fill="url(#sh)"/><circle cx="209.9" cy="132.9" r="4.9" fill="url(#sG)"/><circle cx="151.1" cy="123.1" r="4.9" fill="url(#sl)"/><circle cx="251.9" cy="134.9" r="4.9" fill="url(#sh)"/><circle cx="185.3" cy="107.2" r="4.9" fill="url(#sG)"/><circle cx="264.7" cy="144.7" r="4.9" fill="url(#sh)"/><circle cx="204.4" cy="106.0" r="4.9" fill="url(#sl)"/><circle cx="310.5" cy="108.1" r="4.9" fill="url(#sG)"/><circle cx="282.9" cy="125.9" r="4.9" fill="url(#sG)"/><circle cx="247.6" cy="99.4" r="4.9" fill="url(#sa)"/><circle cx="228.6" cy="93.4" r="4.9" fill="url(#sl)"/><circle cx="148.8" cy="145.9" r="4.9" fill="url(#sh)"/><circle cx="322.0" cy="142.9" r="4.9" fill="url(#sh)"/><circle cx="111.0" cy="151.6" r="4.9" fill="url(#sh)"/><circle cx="163.6" cy="151.4" r="4.9" fill="url(#sh)"/><circle cx="252.9" cy="106.7" r="4.9" fill="url(#sl)"/><circle cx="118.7" cy="151.4" r="4.9" fill="url(#sh)"/><circle cx="330.4" cy="117.9" r="4.9" fill="url(#sc)"/><circle cx="194.5" cy="145.7" r="4.9" fill="url(#sh)"/><circle cx="274.1" cy="146.1" r="4.9" fill="url(#sh)"/><circle cx="354.4" cy="133.2" r="4.9" fill="url(#sh)"/><circle cx="199.7" cy="152.2" r="4.9" fill="url(#sh)"/><circle cx="76.6" cy="149.8" r="4.9" fill="url(#sh)"/><circle cx="321.5" cy="131.4" r="4.9" fill="url(#sh)"/><circle cx="81.2" cy="145.3" r="4.9" fill="url(#sh)"/><circle cx="254.7" cy="100.8" r="4.9" fill="url(#sl)"/><circle cx="284.4" cy="92.0" r="4.9" fill="url(#sG)"/><circle cx="209.8" cy="124.0" r="4.9" fill="url(#sG)"/><circle cx="201.9" cy="95.2" r="4.9" fill="url(#sl)"/><circle cx="367.0" cy="149.0" r="4.9" fill="url(#sh)"/><circle cx="351.1" cy="147.4" r="4.9" fill="url(#sh)"/><circle cx="157.1" cy="152.1" r="4.9" fill="url(#sh)"/><circle cx="213.8" cy="94.2" r="4.9" fill="url(#sl)"/><circle cx="143.9" cy="121.1" r="4.9" fill="url(#sG)"/><circle cx="171.3" cy="119.0" r="4.9" fill="url(#sc)"/><circle cx="147.5" cy="152.0" r="4.9" fill="url(#sh)"/><circle cx="274.6" cy="126.5" r="4.9" fill="url(#sG)"/><circle cx="220.9" cy="114.9" r="4.9" fill="url(#sG)"/><circle cx="223.4" cy="139.7" r="4.9" fill="url(#sh)"/><circle cx="310.7" cy="149.1" r="4.9" fill="url(#sh)"/><circle cx="178.5" cy="151.6" r="4.9" fill="url(#sh)"/><circle cx="221.1" cy="122.6" r="4.9" fill="url(#sG)"/><circle cx="162.7" cy="105.6" r="4.9" fill="url(#sG)"/><circle cx="162.4" cy="125.2" r="4.9" fill="url(#sc)"/><circle cx="322.6" cy="103.8" r="4.9" fill="url(#so)"/><circle cx="303.2" cy="94.8" r="4.9" fill="url(#so)"/><circle cx="354.5" cy="121.6" r="4.9" fill="url(#sl)"/><circle cx="375.0" cy="129.0" r="4.9" fill="url(#sh)"/><circle cx="239.7" cy="123.7" r="4.9" fill="url(#sc)"/><circle cx="351.1" cy="116.0" r="4.9" fill="url(#sl)"/><circle cx="207.3" cy="98.8" r="4.9" fill="url(#sl)"/><circle cx="302.8" cy="137.7" r="4.9" fill="url(#sh)"/><circle cx="83.7" cy="151.7" r="4.9" fill="url(#sh)"/><circle cx="267.9" cy="150.1" r="4.9" fill="url(#sh)"/><circle cx="340.8" cy="139.2" r="4.9" fill="url(#sh)"/><circle cx="102.5" cy="148.4" r="4.9" fill="url(#sh)"/><circle cx="246.6" cy="111.0" r="4.9" fill="url(#sG)"/><circle cx="240.1" cy="104.6" r="4.9" fill="url(#sa)"/><circle cx="149.1" cy="131.8" r="4.9" fill="url(#sc)"/><circle cx="135.8" cy="147.4" r="4.9" fill="url(#sh)"/><circle cx="192.4" cy="151.3" r="4.9" fill="url(#sh)"/><circle cx="260.8" cy="114.9" r="4.9" fill="url(#sG)"/><circle cx="281.2" cy="141.1" r="4.9" fill="url(#sh)"/><circle cx="245.1" cy="131.2" r="4.9" fill="url(#sh)"/><circle cx="301.1" cy="129.6" r="4.9" fill="url(#sG)"/><circle cx="197.4" cy="129.6" r="4.9" fill="url(#sc)"/><circle cx="204.9" cy="137.3" r="4.9" fill="url(#sG)"/><circle cx="202.8" cy="120.3" r="4.9" fill="url(#sG)"/><circle cx="154.3" cy="139.0" r="4.9" fill="url(#sc)"/><circle cx="297.4" cy="141.1" r="4.9" fill="url(#sh)"/><circle cx="176.9" cy="116.6" r="4.9" fill="url(#sG)"/><circle cx="120.7" cy="138.4" r="4.9" fill="url(#sG)"/><circle cx="194.0" cy="122.7" r="4.9" fill="url(#sc)"/><circle cx="181.7" cy="146.2" r="4.9" fill="url(#sh)"/><circle cx="237.1" cy="151.3" r="4.9" fill="url(#sh)"/><circle cx="266.2" cy="138.1" r="4.9" fill="url(#sh)"/><circle cx="126.1" cy="152.1" r="4.9" fill="url(#sh)"/><circle cx="214.6" cy="115.8" r="4.9" fill="url(#sG)"/><circle cx="144.9" cy="139.1" r="4.9" fill="url(#sc)"/><circle cx="140.6" cy="114.6" r="4.9" fill="url(#sy)"/><circle cx="239.8" cy="134.3" r="4.9" fill="url(#sh)"/><circle cx="243.5" cy="149.8" r="4.9" fill="url(#sh)"/><circle cx="233.7" cy="145.7" r="4.9" fill="url(#sh)"/><circle cx="386.2" cy="148.2" r="4.9" fill="url(#sh)"/><circle cx="169.3" cy="106.2" r="4.9" fill="url(#sG)"/><circle cx="358.2" cy="127.9" r="4.9" fill="url(#sG)"/><circle cx="291.1" cy="150.3" r="4.9" fill="url(#sh)"/><circle cx="346.6" cy="151.6" r="4.9" fill="url(#sh)"/><circle cx="156.8" cy="145.6" r="4.9" fill="url(#sh)"/><circle cx="295.8" cy="124.4" r="4.9" fill="url(#sG)"/><circle cx="259.9" cy="95.6" r="4.9" fill="url(#sG)"/><circle cx="391.7" cy="151.4" r="4.9" fill="url(#sh)"/><circle cx="299.9" cy="120.0" r="4.9" fill="url(#sG)"/><circle cx="265.0" cy="106.8" r="4.9" fill="url(#sG)"/><circle cx="300.1" cy="100.5" r="4.9" fill="url(#sG)"/><circle cx="105.2" cy="133.0" r="4.9" fill="url(#sh)"/><circle cx="160.9" cy="141.1" r="4.9" fill="url(#sh)"/><circle cx="234.9" cy="107.5" r="4.9" fill="url(#sl)"/><circle cx="120.6" cy="122.4" r="4.9" fill="url(#sG)"/><circle cx="232.8" cy="113.4" r="4.9" fill="url(#sl)"/><circle cx="370.2" cy="143.0" r="4.9" fill="url(#sh)"/><circle cx="276.8" cy="90.2" r="4.9" fill="url(#sG)"/><circle cx="201.4" cy="145.8" r="4.9" fill="url(#sh)"/><circle cx="376.1" cy="135.2" r="4.9" fill="url(#sh)"/><circle cx="351.7" cy="109.2" r="4.9" fill="url(#sc)"/><circle cx="340.4" cy="109.4" r="4.9" fill="url(#sG)"/><circle cx="264.7" cy="90.4" r="4.9" fill="url(#sG)"/><circle cx="352.6" cy="139.1" r="4.9" fill="url(#sh)"/><circle cx="214.2" cy="149.4" r="4.9" fill="url(#sh)"/><circle cx="270.4" cy="122.2" r="4.9" fill="url(#sG)"/><circle cx="251.3" cy="115.2" r="4.9" fill="url(#sG)"/><circle cx="383.9" cy="137.5" r="4.9" fill="url(#sh)"/><circle cx="277.8" cy="119.7" r="4.9" fill="url(#sl)"/><circle cx="307.0" cy="99.7" r="4.9" fill="url(#so)"/><circle cx="324.2" cy="112.3" r="4.9" fill="url(#sc)"/><circle cx="308.2" cy="114.9" r="4.9" fill="url(#sG)"/><circle cx="291.2" cy="144.0" r="4.9" fill="url(#sh)"/><circle cx="179.0" cy="101.3" r="4.9" fill="url(#sG)"/><circle cx="184.7" cy="151.9" r="4.9" fill="url(#sh)"/><circle cx="284.0" cy="119.2" r="4.9" fill="url(#sc)"/><circle cx="223.4" cy="106.7" r="4.9" fill="url(#sl)"/><circle cx="279.7" cy="97.1" r="4.9" fill="url(#sy)"/><circle cx="93.5" cy="138.8" r="4.9" fill="url(#sh)"/><circle cx="283.6" cy="150.1" r="4.9" fill="url(#sh)"/><circle cx="381.9" cy="127.8" r="4.9" fill="url(#sh)"/><circle cx="295.1" cy="108.2" r="4.9" fill="url(#sl)"/><circle cx="283.4" cy="110.6" r="4.9" fill="url(#sc)"/><circle cx="258.8" cy="108.6" r="4.9" fill="url(#sG)"/><circle cx="316.9" cy="151.8" r="4.9" fill="url(#sh)"/><circle cx="376.8" cy="123.2" r="4.9" fill="url(#sh)"/><circle cx="329.4" cy="148.6" r="4.9" fill="url(#sh)"/><circle cx="266.7" cy="113.3" r="4.9" fill="url(#sG)"/><circle cx="238.8" cy="141.2" r="4.9" fill="url(#sh)"/><circle cx="304.1" cy="151.6" r="4.9" fill="url(#sh)"/><circle cx="184.0" cy="131.3" r="4.9" fill="url(#sG)"/><circle cx="357.6" cy="143.0" r="4.9" fill="url(#sh)"/><circle cx="336.8" cy="118.0" r="4.9" fill="url(#sc)"/><circle cx="131.0" cy="142.5" r="4.9" fill="url(#sh)"/><circle cx="129.4" cy="136.2" r="4.9" fill="url(#sc)"/><circle cx="278.4" cy="106.5" r="4.9" fill="url(#sa)"/><circle cx="212.3" cy="107.3" r="4.9" fill="url(#sa)"/><circle cx="196.6" cy="137.1" r="4.9" fill="url(#sG)"/><circle cx="322.4" cy="120.9" r="4.9" fill="url(#sG)"/><circle cx="218.4" cy="129.0" r="4.9" fill="url(#sG)"/><circle cx="132.1" cy="152.2" r="4.9" fill="url(#sh)"/><circle cx="197.3" cy="111.6" r="4.9" fill="url(#sl)"/><circle cx="277.4" cy="151.4" r="4.9" fill="url(#sh)"/><circle cx="313.3" cy="134.6" r="4.9" fill="url(#sh)"/><circle cx="241.7" cy="98.0" r="4.9" fill="url(#sa)"/><circle cx="387.5" cy="142.3" r="4.9" fill="url(#sh)"/><circle cx="275.3" cy="139.3" r="4.9" fill="url(#sh)"/><circle cx="270.7" cy="92.2" r="4.9" fill="url(#sG)"/><circle cx="345.2" cy="114.9" r="4.9" fill="url(#sl)"/><circle cx="229.3" cy="118.9" r="4.9" fill="url(#sG)"/><circle cx="131.3" cy="121.2" r="4.9" fill="url(#sc)"/><circle cx="313.7" cy="117.7" r="4.9" fill="url(#sG)"/><circle cx="399.1" cy="145.6" r="4.9" fill="url(#sh)"/><circle cx="272.7" cy="99.2" r="4.9" fill="url(#sy)"/><circle cx="176.9" cy="136.9" r="4.9" fill="url(#sl)"/><circle cx="256.1" cy="143.5" r="4.9" fill="url(#sh)"/><circle cx="261.8" cy="151.0" r="4.9" fill="url(#sh)"/><circle cx="159.4" cy="119.7" r="4.9" fill="url(#sa)"/><circle cx="172.6" cy="147.9" r="4.9" fill="url(#sh)"/><circle cx="159.4" cy="135.1" r="4.9" fill="url(#sc)"/><circle cx="303.4" cy="106.3" r="4.9" fill="url(#sG)"/><circle cx="192.0" cy="96.9" r="4.9" fill="url(#sc)"/><circle cx="340.5" cy="152.2" r="4.9" fill="url(#sh)"/><circle cx="238.6" cy="116.1" r="4.9" fill="url(#sc)"/><circle cx="259.2" cy="131.7" r="4.9" fill="url(#sc)"/><circle cx="166.5" cy="114.2" r="4.9" fill="url(#sc)"/><circle cx="334.8" cy="105.8" r="4.9" fill="url(#sa)"/><circle cx="252.0" cy="95.2" r="4.9" fill="url(#so)"/><circle cx="225.3" cy="98.9" r="4.9" fill="url(#sl)"/><circle cx="110.5" cy="145.5" r="4.9" fill="url(#sh)"/><circle cx="288.7" cy="115.1" r="4.9" fill="url(#sc)"/><circle cx="196.9" cy="102.4" r="4.9" fill="url(#sy)"/><circle cx="393.3" cy="140.4" r="4.9" fill="url(#sh)"/><circle cx="142.2" cy="148.7" r="4.9" fill="url(#sh)"/><circle cx="118.6" cy="132.2" r="4.9" fill="url(#sc)"/><circle cx="334.4" cy="112.5" r="4.9" fill="url(#sc)"/><circle cx="308.7" cy="130.6" r="4.9" fill="url(#sG)"/><circle cx="333.1" cy="132.2" r="4.9" fill="url(#sh)"/><circle cx="263.4" cy="119.8" r="4.9" fill="url(#sG)"/><circle cx="166.6" cy="150.7" r="4.9" fill="url(#sh)"/><circle cx="145.2" cy="147.1" r="4.9" fill="url(#sh)"/><circle cx="315.3" cy="112.1" r="4.9" fill="url(#sG)"/><circle cx="324.6" cy="108.0" r="4.9" fill="url(#sc)"/><circle cx="332.2" cy="143.0" r="4.9" fill="url(#sh)"/><circle cx="378.5" cy="151.2" r="4.9" fill="url(#sh)"/><circle cx="306.9" cy="113.3" r="4.9" fill="url(#sG)"/><circle cx="156.3" cy="149.1" r="4.9" fill="url(#sh)"/><circle cx="230.2" cy="124.2" r="4.9" fill="url(#sG)"/><circle cx="103.2" cy="149.1" r="4.9" fill="url(#sh)"/><circle cx="148.1" cy="134.9" r="4.9" fill="url(#sc)"/><circle cx="344.2" cy="131.9" r="4.9" fill="url(#sh)"/><circle cx="294.3" cy="111.1" r="4.9" fill="url(#sG)"/><circle cx="203.4" cy="147.6" r="4.9" fill="url(#sh)"/><circle cx="296.6" cy="119.9" r="4.9" fill="url(#sG)"/><circle cx="179.7" cy="116.2" r="4.9" fill="url(#sG)"/><circle cx="288.0" cy="120.1" r="4.9" fill="url(#sc)"/><circle cx="273.5" cy="130.1" r="4.9" fill="url(#sG)"/><circle cx="199.7" cy="106.4" r="4.9" fill="url(#sl)"/><circle cx="157.4" cy="122.5" r="4.9" fill="url(#sh)"/><circle cx="123.3" cy="150.1" r="4.9" fill="url(#sh)"/><circle cx="189.2" cy="109.9" r="4.9" fill="url(#sG)"/><circle cx="354.6" cy="138.7" r="4.9" fill="url(#sh)"/><circle cx="111.8" cy="148.8" r="4.9" fill="url(#sh)"/><circle cx="359.3" cy="149.8" r="4.9" fill="url(#sh)"/><circle cx="232.9" cy="114.1" r="4.9" fill="url(#sl)"/><circle cx="205.6" cy="119.4" r="4.9" fill="url(#sG)"/><circle cx="209.0" cy="128.8" r="4.9" fill="url(#sG)"/><circle cx="136.3" cy="148.7" r="4.9" fill="url(#sh)"/><circle cx="360.7" cy="132.7" r="4.9" fill="url(#sh)"/><circle cx="217.7" cy="130.0" r="4.9" fill="url(#sG)"/><circle cx="192.9" cy="150.9" r="4.9" fill="url(#sh)"/><circle cx="369.0" cy="130.9" r="4.9" fill="url(#sh)"/><circle cx="271.8" cy="144.6" r="4.9" fill="url(#sh)"/><circle cx="349.8" cy="151.1" r="4.9" fill="url(#sh)"/><circle cx="285.0" cy="102.7" r="4.9" fill="url(#sl)"/><circle cx="240.3" cy="109.4" r="4.9" fill="url(#sl)"/><circle cx="220.0" cy="119.3" r="4.9" fill="url(#sG)"/><circle cx="250.8" cy="124.1" r="4.9" fill="url(#sG)"/><circle cx="138.5" cy="134.9" r="4.9" fill="url(#sG)"/><circle cx="224.1" cy="148.0" r="4.9" fill="url(#sh)"/><circle cx="322.6" cy="147.5" r="4.9" fill="url(#sh)"/><circle cx="271.6" cy="105.5" r="4.9" fill="url(#sa)"/><circle cx="92.1" cy="149.8" r="4.9" fill="url(#sh)"/><circle cx="324.0" cy="127.7" r="4.9" fill="url(#sG)"/><circle cx="127.1" cy="142.3" r="4.9" fill="url(#sh)"/><circle cx="335.7" cy="150.9" r="4.9" fill="url(#sh)"/><circle cx="169.5" cy="112.0" r="4.9" fill="url(#sc)"/><circle cx="213.4" cy="107.5" r="4.9" fill="url(#sa)"/><circle cx="300.5" cy="128.4" r="4.9" fill="url(#sG)"/><circle cx="198.4" cy="115.0" r="4.9" fill="url(#sG)"/><circle cx="305.5" cy="140.0" r="4.9" fill="url(#sh)"/><circle cx="297.2" cy="103.2" r="4.9" fill="url(#sG)"/><circle cx="238.1" cy="129.5" r="4.9" fill="url(#sc)"/><circle cx="112.9" cy="139.9" r="4.9" fill="url(#sh)"/><circle cx="208.6" cy="137.4" r="4.9" fill="url(#sG)"/><circle cx="334.8" cy="115.6" r="4.9" fill="url(#sc)"/><circle cx="314.5" cy="142.8" r="4.9" fill="url(#sh)"/><circle cx="248.2" cy="101.7" r="4.9" fill="url(#sa)"/><circle cx="326.2" cy="137.1" r="4.9" fill="url(#sh)"/><circle cx="245.5" cy="139.7" r="4.9" fill="url(#sh)"/><circle cx="283.5" cy="136.8" r="4.9" fill="url(#sh)"/><circle cx="293.1" cy="139.9" r="4.9" fill="url(#sh)"/><circle cx="133.7" cy="127.4" r="4.9" fill="url(#sG)"/><circle cx="147.2" cy="123.1" r="4.9" fill="url(#sG)"/><circle cx="214.3" cy="144.1" r="4.9" fill="url(#sh)"/><circle cx="232.8" cy="137.7" r="4.9" fill="url(#sh)"/><circle cx="338.4" cy="124.4" r="4.9" fill="url(#sG)"/><circle cx="255.8" cy="138.0" r="4.9" fill="url(#sh)"/><circle cx="267.3" cy="135.8" r="4.9" fill="url(#sh)"/><circle cx="308.6" cy="104.6" r="4.9" fill="url(#sG)"/><circle cx="392.6" cy="150.9" r="4.9" fill="url(#sh)"/><circle cx="309.0" cy="121.8" r="4.9" fill="url(#sG)"/><circle cx="342.9" cy="144.0" r="4.9" fill="url(#sh)"/><circle cx="351.6" cy="126.8" r="4.9" fill="url(#sG)"/><circle cx="182.2" cy="125.3" r="4.9" fill="url(#sG)"/><circle cx="175.3" cy="133.5" r="4.9" fill="url(#sl)"/><circle cx="345.3" cy="116.8" r="4.9" fill="url(#sl)"/><circle cx="162.9" cy="141.2" r="4.9" fill="url(#sh)"/><circle cx="200.1" cy="137.3" r="4.9" fill="url(#sG)"/><circle cx="281.1" cy="112.8" r="4.9" fill="url(#sc)"/><circle cx="156.6" cy="135.0" r="4.9" fill="url(#sc)"/><circle cx="166.0" cy="129.0" r="4.9" fill="url(#sc)"/><circle cx="252.0" cy="146.5" r="4.9" fill="url(#sh)"/><circle cx="172.0" cy="121.3" r="4.9" fill="url(#sh)"/><circle cx="186.0" cy="143.9" r="4.9" fill="url(#sh)"/><circle cx="360.2" cy="122.6" r="4.9" fill="url(#sc)"/><circle cx="281.2" cy="125.1" r="4.9" fill="url(#sG)"/><circle cx="239.6" cy="100.1" r="4.9" fill="url(#sa)"/><circle cx="249.2" cy="110.6" r="4.9" fill="url(#sG)"/><circle cx="299.3" cy="145.8" r="4.9" fill="url(#sh)"/><circle cx="237.3" cy="149.0" r="4.9" fill="url(#sh)"/><circle cx="123.8" cy="131.9" r="4.9" fill="url(#sc)"/><circle cx="258.1" cy="113.0" r="4.9" fill="url(#sG)"/><circle cx="189.2" cy="133.0" r="4.9" fill="url(#sG)"/><circle cx="160.9" cy="114.7" r="4.9" fill="url(#sa)"/><circle cx="377.5" cy="136.4" r="4.9" fill="url(#sh)"/><circle cx="260.2" cy="104.4" r="4.9" fill="url(#sG)"/><circle cx="309.6" cy="150.8" r="4.9" fill="url(#sh)"/><circle cx="261.3" cy="128.2" r="4.9" fill="url(#sl)"/><circle cx="194.0" cy="123.2" r="4.9" fill="url(#sc)"/><circle cx="177.6" cy="145.1" r="4.9" fill="url(#sh)"/><circle cx="293.1" cy="151.4" r="4.9" fill="url(#sh)"/><circle cx="230.5" cy="104.0" r="4.9" fill="url(#sl)"/><circle cx="385.2" cy="142.2" r="4.9" fill="url(#sh)"/><circle cx="371.7" cy="145.2" r="4.9" fill="url(#sh)"/><circle cx="274.0" cy="117.9" r="4.9" fill="url(#sl)"/><circle cx="317.3" cy="134.4" r="4.9" fill="url(#sh)"/><circle cx="242.4" cy="120.3" r="4.9" fill="url(#sc)"/><circle cx="284.7" cy="148.6" r="4.9" fill="url(#sh)"/><circle cx="289.3" cy="130.0" r="4.9" fill="url(#sG)"/><circle cx="222.9" cy="138.8" r="4.9" fill="url(#sh)"/><circle cx="270.0" cy="97.0" r="4.9" fill="url(#sy)"/><circle cx="363.6" cy="140.7" r="4.9" fill="url(#sh)"/><circle cx="324.2" cy="116.6" r="4.9" fill="url(#sc)"/><circle cx="207.4" cy="101.2" r="4.9" fill="url(#sa)"/><circle cx="262.6" cy="143.5" r="4.9" fill="url(#sh)"/><circle cx="222.2" cy="107.6" r="4.9" fill="url(#sl)"/><circle cx="77.2" cy="151.2" r="4.9" fill="url(#sh)"/><circle cx="83.6" cy="144.8" r="4.9" fill="url(#sh)"/><circle cx="91.8" cy="139.7" r="4.9" fill="url(#sh)"/><circle cx="99.5" cy="136.4" r="4.9" fill="url(#sh)"/><circle cx="106.5" cy="131.1" r="4.9" fill="url(#sh)"/><circle cx="113.8" cy="126.4" r="4.9" fill="url(#sc)"/><circle cx="121.0" cy="122.1" r="4.9" fill="url(#sb)"/><circle cx="129.0" cy="119.0" r="4.9" fill="url(#sc)"/><circle cx="136.8" cy="115.0" r="4.9" fill="url(#sc)"/><circle cx="144.9" cy="112.0" r="4.9" fill="url(#sy)"/><circle cx="153.5" cy="108.4" r="4.9" fill="url(#sy)"/><circle cx="161.1" cy="105.8" r="4.9" fill="url(#sG)"/><circle cx="169.3" cy="103.1" r="4.9" fill="url(#sG)"/><circle cx="177.5" cy="100.4" r="4.9" fill="url(#sG)"/><circle cx="185.7" cy="97.7" r="4.9" fill="url(#sl)"/><circle cx="194.8" cy="96.4" r="4.9" fill="url(#sG)"/><circle cx="203.1" cy="93.6" r="4.9" fill="url(#sl)"/><circle cx="211.2" cy="92.6" r="4.9" fill="url(#sl)"/><circle cx="219.6" cy="91.4" r="4.9" fill="url(#sa)"/><circle cx="228.4" cy="90.6" r="4.9" fill="url(#sl)"/><circle cx="237.3" cy="89.8" r="4.9" fill="url(#sa)"/><circle cx="246.6" cy="89.1" r="4.9" fill="url(#sa)"/><circle cx="255.4" cy="89.2" r="4.9" fill="url(#so)"/><circle cx="263.7" cy="89.0" r="4.9" fill="url(#sG)"/><circle cx="272.6" cy="88.9" r="4.9" fill="url(#sG)"/><circle cx="281.2" cy="89.9" r="4.9" fill="url(#sG)"/><circle cx="290.2" cy="91.9" r="4.9" fill="url(#sG)"/><circle cx="298.6" cy="93.7" r="4.9" fill="url(#sG)"/><circle cx="307.1" cy="95.1" r="4.9" fill="url(#so)"/><circle cx="315.4" cy="96.7" r="4.9" fill="url(#sl)"/><circle cx="324.3" cy="99.1" r="4.9" fill="url(#so)"/><circle cx="332.2" cy="102.4" r="4.9" fill="url(#sa)"/><circle cx="340.5" cy="104.8" r="4.9" fill="url(#sG)"/><circle cx="348.9" cy="108.3" r="4.9" fill="url(#sc)"/><circle cx="356.3" cy="111.1" r="4.9" fill="url(#sG)"/><circle cx="365.2" cy="115.1" r="4.9" fill="url(#sG)"/><circle cx="372.6" cy="119.4" r="4.9" fill="url(#sc)"/><circle cx="379.4" cy="125.8" r="4.9" fill="url(#sh)"/><circle cx="385.7" cy="130.7" r="4.9" fill="url(#sh)"/><circle cx="392.6" cy="136.7" r="4.9" fill="url(#sh)"/><circle cx="397.6" cy="143.9" r="4.9" fill="url(#sh)"/><circle cx="402.3" cy="150.6" r="4.9" fill="url(#sh)"/><path d="M44.9 256.6V78" stroke="#000" stroke-width="3.4" fill="none"/><path d="M44.9 70.4L40.2 79.8H49.6Z" fill="#000"/><path d="M43.2 254.8H464" stroke="#000" stroke-width="3.6" fill="none"/><path d="M473.5 254.8L461.5 249.8V259.8Z" fill="#000"/><path d="M116 246.5V261.5" stroke="#000" stroke-width="2"/><path d="M216 246.5V261.5" stroke="#000" stroke-width="2"/><path d="M316 246.5V261.5" stroke="#000" stroke-width="2"/><path d="M416 246.5V261.5" stroke="#000" stroke-width="2"/><path d="M37.3 158H50" stroke="#000" stroke-width="2"/><g font-family="'Liberation Serif',serif" font-size="16" fill="#000"><text x="48" y="280.4" text-anchor="middle">1.5</text><text x="116" y="280.4" text-anchor="middle">5.0</text><text x="216" y="280.4" text-anchor="middle">10.0</text><text x="316" y="280.4" text-anchor="middle">15.0</text><text x="416" y="280.4" text-anchor="middle">20.0</text><text x="33.5" y="163.3" text-anchor="end">5.0</text><text x="33.2" y="254.9" text-anchor="end">0</text><text transform="translate(6.6,62) scale(1.2,1)" font-style="italic" font-size="20">z</text><text x="23.6" y="62.6" font-size="16.5">[mm]</text><text transform="translate(484.6,263.6) scale(1.22,1)" font-style="italic" font-size="21">y</text><text x="505.8" y="266.5" font-size="16.5">[mm]</text></g><text x="277.5" y="321.0" text-anchor="middle" font-family="'Liberation Serif',serif" font-size="23" fill="#000">(<tspan font-weight="bold">b</tspan>)</text></g><g transform="translate(0,675)"><g clip-path="url(#cl)"><circle cx="45.1" cy="158.9" r="5.4" fill="url(#sg)"/><circle cx="55.1" cy="158.9" r="5.4" fill="url(#sg)"/><circle cx="65.1" cy="158.9" r="5.4" fill="url(#sg)"/><circle cx="75.2" cy="158.9" r="5.4" fill="url(#sg)"/><circle cx="85.2" cy="158.9" r="5.4" fill="url(#sg)"/><circle cx="95.2" cy="158.9" r="5.4" fill="url(#sg)"/><circle cx="105.3" cy="158.9" r="5.4" fill="url(#sg)"/><circle cx="115.3" cy="158.9" r="5.4" fill="url(#sg)"/><circle cx="125.3" cy="158.9" r="5.4" fill="url(#sg)"/><circle cx="135.3" cy="158.9" r="5.4" fill="url(#sg)"/><circle cx="145.4" cy="158.9" r="5.4" fill="url(#sg)"/><circle cx="155.4" cy="158.9" r="5.4" fill="url(#sg)"/><circle cx="165.4" cy="158.9" r="5.4" fill="url(#sg)"/><circle cx="175.5" cy="158.9" r="5.4" fill="url(#sg)"/><circle cx="185.5" cy="158.9" r="5.4" fill="url(#sg)"/><circle cx="195.5" cy="158.9" r="5.4" fill="url(#sg)"/><circle cx="205.6" cy="158.9" r="5.4" fill="url(#sg)"/><circle cx="215.6" cy="158.9" r="5.4" fill="url(#sg)"/><circle cx="225.6" cy="158.9" r="5.4" fill="url(#sg)"/><circle cx="235.6" cy="158.9" r="5.4" fill="url(#sg)"/><circle cx="245.7" cy="158.9" r="5.4" fill="url(#sg)"/><circle cx="255.7" cy="158.9" r="5.4" fill="url(#sg)"/><circle cx="265.7" cy="158.9" r="5.4" fill="url(#sg)"/><circle cx="275.8" cy="158.9" r="5.4" fill="url(#sg)"/><circle cx="285.8" cy="158.9" r="5.4" fill="url(#sg)"/><circle cx="295.8" cy="158.9" r="5.4" fill="url(#sg)"/><circle cx="305.9" cy="158.9" r="5.4" fill="url(#sg)"/><circle cx="315.9" cy="158.9" r="5.4" fill="url(#sg)"/><circle cx="325.9" cy="158.9" r="5.4" fill="url(#sg)"/><circle cx="335.9" cy="158.9" r="5.4" fill="url(#sg)"/><circle cx="346.0" cy="158.9" r="5.4" fill="url(#sg)"/><circle cx="356.0" cy="158.9" r="5.4" fill="url(#sg)"/><circle cx="366.0" cy="158.9" r="5.4" fill="url(#sg)"/><circle cx="376.1" cy="158.9" r="5.4" fill="url(#sg)"/><circle cx="386.1" cy="158.9" r="5.4" fill="url(#sg)"/><circle cx="396.1" cy="158.9" r="5.4" fill="url(#sg)"/><circle cx="406.2" cy="158.9" r="5.4" fill="url(#sg)"/><circle cx="416.2" cy="158.9" r="5.4" fill="url(#sg)"/><circle cx="426.2" cy="158.9" r="5.4" fill="url(#sg)"/><circle cx="436.2" cy="158.9" r="5.4" fill="url(#sg)"/><circle cx="446.3" cy="158.9" r="5.4" fill="url(#sg)"/><circle cx="456.3" cy="158.9" r="5.4" fill="url(#sg)"/><circle cx="45.1" cy="168.9" r="5.4" fill="url(#sg)"/><circle cx="55.1" cy="168.9" r="5.4" fill="url(#sg)"/><circle cx="65.1" cy="168.9" r="5.4" fill="url(#sg)"/><circle cx="75.2" cy="168.9" r="5.4" fill="url(#sg)"/><circle cx="85.2" cy="168.9" r="5.4" fill="url(#sg)"/><circle cx="95.2" cy="168.9" r="5.4" fill="url(#sg)"/><circle cx="105.3" cy="168.9" r="5.4" fill="url(#sg)"/><circle cx="115.3" cy="168.9" r="5.4" fill="url(#sg)"/><circle cx="125.3" cy="168.9" r="5.4" fill="url(#sg)"/><circle cx="135.3" cy="168.9" r="5.4" fill="url(#sg)"/><circle cx="145.4" cy="168.9" r="5.4" fill="url(#sg)"/><circle cx="155.4" cy="168.9" r="5.4" fill="url(#sg)"/><circle cx="165.4" cy="168.9" r="5.4" fill="url(#sg)"/><circle cx="175.5" cy="168.9" r="5.4" fill="url(#sg)"/><circle cx="185.5" cy="168.9" r="5.4" fill="url(#sg)"/><circle cx="195.5" cy="168.9" r="5.4" fill="url(#sg)"/><circle cx="205.6" cy="168.9" r="5.4" fill="url(#sg)"/><circle cx="215.6" cy="168.9" r="5.4" fill="url(#sg)"/><circle cx="225.6" cy="168.9" r="5.4" fill="url(#sg)"/><circle cx="235.6" cy="168.9" r="5.4" fill="url(#sg)"/><circle cx="245.7" cy="168.9" r="5.4" fill="url(#sg)"/><circle cx="255.7" cy="168.9" r="5.4" fill="url(#sg)"/><circle cx="265.7" cy="168.9" r="5.4" fill="url(#sg)"/><circle cx="275.8" cy="168.9" r="5.4" fill="url(#sg)"/><circle cx="285.8" cy="168.9" r="5.4" fill="url(#sg)"/><circle cx="295.8" cy="168.9" r="5.4" fill="url(#sg)"/><circle cx="305.9" cy="168.9" r="5.4" fill="url(#sg)"/><circle cx="315.9" cy="168.9" r="5.4" fill="url(#sg)"/><circle cx="325.9" cy="168.9" r="5.4" fill="url(#sg)"/><circle cx="335.9" cy="168.9" r="5.4" fill="url(#sg)"/><circle cx="346.0" cy="168.9" r="5.4" fill="url(#sg)"/><circle cx="356.0" cy="168.9" r="5.4" fill="url(#sg)"/><circle cx="366.0" cy="168.9" r="5.4" fill="url(#sg)"/><circle cx="376.1" cy="168.9" r="5.4" fill="url(#sg)"/><circle cx="386.1" cy="168.9" r="5.4" fill="url(#sg)"/><circle cx="396.1" cy="168.9" r="5.4" fill="url(#sg)"/><circle cx="406.2" cy="168.9" r="5.4" fill="url(#sg)"/><circle cx="416.2" cy="168.9" r="5.4" fill="url(#sg)"/><circle cx="426.2" cy="168.9" r="5.4" fill="url(#sg)"/><circle cx="436.2" cy="168.9" r="5.4" fill="url(#sg)"/><circle cx="446.3" cy="168.9" r="5.4" fill="url(#sg)"/><circle cx="456.3" cy="168.9" r="5.4" fill="url(#sg)"/><circle cx="45.1" cy="179.0" r="5.4" fill="url(#sg)"/><circle cx="55.1" cy="179.0" r="5.4" fill="url(#sg)"/><circle cx="65.1" cy="179.0" r="5.4" fill="url(#sg)"/><circle cx="75.2" cy="179.0" r="5.4" fill="url(#sg)"/><circle cx="85.2" cy="179.0" r="5.4" fill="url(#sg)"/><circle cx="95.2" cy="179.0" r="5.4" fill="url(#sg)"/><circle cx="105.3" cy="179.0" r="5.4" fill="url(#sg)"/><circle cx="115.3" cy="179.0" r="5.4" fill="url(#sg)"/><circle cx="125.3" cy="179.0" r="5.4" fill="url(#sg)"/><circle cx="135.3" cy="179.0" r="5.4" fill="url(#sg)"/><circle cx="145.4" cy="179.0" r="5.4" fill="url(#sg)"/><circle cx="155.4" cy="179.0" r="5.4" fill="url(#sg)"/><circle cx="165.4" cy="179.0" r="5.4" fill="url(#sg)"/><circle cx="175.5" cy="179.0" r="5.4" fill="url(#sg)"/><circle cx="185.5" cy="179.0" r="5.4" fill="url(#sg)"/><circle cx="195.5" cy="179.0" r="5.4" fill="url(#sg)"/><circle cx="205.6" cy="179.0" r="5.4" fill="url(#sg)"/><circle cx="215.6" cy="179.0" r="5.4" fill="url(#sg)"/><circle cx="225.6" cy="179.0" r="5.4" fill="url(#sg)"/><circle cx="235.6" cy="179.0" r="5.4" fill="url(#sg)"/><circle cx="245.7" cy="179.0" r="5.4" fill="url(#sg)"/><circle cx="255.7" cy="179.0" r="5.4" fill="url(#sg)"/><circle cx="265.7" cy="179.0" r="5.4" fill="url(#sg)"/><circle cx="275.8" cy="179.0" r="5.4" fill="url(#sg)"/><circle cx="285.8" cy="179.0" r="5.4" fill="url(#sg)"/><circle cx="295.8" cy="179.0" r="5.4" fill="url(#sg)"/><circle cx="305.9" cy="179.0" r="5.4" fill="url(#sg)"/><circle cx="315.9" cy="179.0" r="5.4" fill="url(#sg)"/><circle cx="325.9" cy="179.0" r="5.4" fill="url(#sg)"/><circle cx="335.9" cy="179.0" r="5.4" fill="url(#sg)"/><circle cx="346.0" cy="179.0" r="5.4" fill="url(#sg)"/><circle cx="356.0" cy="179.0" r="5.4" fill="url(#sg)"/><circle cx="366.0" cy="179.0" r="5.4" fill="url(#sg)"/><circle cx="376.1" cy="179.0" r="5.4" fill="url(#sg)"/><circle cx="386.1" cy="179.0" r="5.4" fill="url(#sg)"/><circle cx="396.1" cy="179.0" r="5.4" fill="url(#sg)"/><circle cx="406.2" cy="179.0" r="5.4" fill="url(#sg)"/><circle cx="416.2" cy="179.0" r="5.4" fill="url(#sg)"/><circle cx="426.2" cy="179.0" r="5.4" fill="url(#sg)"/><circle cx="436.2" cy="179.0" r="5.4" fill="url(#sg)"/><circle cx="446.3" cy="179.0" r="5.4" fill="url(#sg)"/><circle cx="456.3" cy="179.0" r="5.4" fill="url(#sg)"/><circle cx="45.1" cy="189.0" r="5.4" fill="url(#sg)"/><circle cx="55.1" cy="189.0" r="5.4" fill="url(#sg)"/><circle cx="65.1" cy="189.0" r="5.4" fill="url(#sg)"/><circle cx="75.2" cy="189.0" r="5.4" fill="url(#sg)"/><circle cx="85.2" cy="189.0" r="5.4" fill="url(#sg)"/><circle cx="95.2" cy="189.0" r="5.4" fill="url(#sg)"/><circle cx="105.3" cy="189.0" r="5.4" fill="url(#sg)"/><circle cx="115.3" cy="189.0" r="5.4" fill="url(#sg)"/><circle cx="125.3" cy="189.0" r="5.4" fill="url(#sg)"/><circle cx="135.3" cy="189.0" r="5.4" fill="url(#sg)"/><circle cx="145.4" cy="189.0" r="5.4" fill="url(#sg)"/><circle cx="155.4" cy="189.0" r="5.4" fill="url(#sg)"/><circle cx="165.4" cy="189.0" r="5.4" fill="url(#sg)"/><circle cx="175.5" cy="189.0" r="5.4" fill="url(#sg)"/><circle cx="185.5" cy="189.0" r="5.4" fill="url(#sg)"/><circle cx="195.5" cy="189.0" r="5.4" fill="url(#sg)"/><circle cx="205.6" cy="189.0" r="5.4" fill="url(#sg)"/><circle cx="215.6" cy="189.0" r="5.4" fill="url(#sg)"/><circle cx="225.6" cy="189.0" r="5.4" fill="url(#sg)"/><circle cx="235.6" cy="189.0" r="5.4" fill="url(#sg)"/><circle cx="245.7" cy="189.0" r="5.4" fill="url(#sg)"/><circle cx="255.7" cy="189.0" r="5.4" fill="url(#sg)"/><circle cx="265.7" cy="189.0" r="5.4" fill="url(#sg)"/><circle cx="275.8" cy="189.0" r="5.4" fill="url(#sg)"/><circle cx="285.8" cy="189.0" r="5.4" fill="url(#sg)"/><circle cx="295.8" cy="189.0" r="5.4" fill="url(#sg)"/><circle cx="305.9" cy="189.0" r="5.4" fill="url(#sg)"/><circle cx="315.9" cy="189.0" r="5.4" fill="url(#sg)"/><circle cx="325.9" cy="189.0" r="5.4" fill="url(#sg)"/><circle cx="335.9" cy="189.0" r="5.4" fill="url(#sg)"/><circle cx="346.0" cy="189.0" r="5.4" fill="url(#sg)"/><circle cx="356.0" cy="189.0" r="5.4" fill="url(#sg)"/><circle cx="366.0" cy="189.0" r="5.4" fill="url(#sg)"/><circle cx="376.1" cy="189.0" r="5.4" fill="url(#sg)"/><circle cx="386.1" cy="189.0" r="5.4" fill="url(#sg)"/><circle cx="396.1" cy="189.0" r="5.4" fill="url(#sg)"/><circle cx="406.2" cy="189.0" r="5.4" fill="url(#sg)"/><circle cx="416.2" cy="189.0" r="5.4" fill="url(#sg)"/><circle cx="426.2" cy="189.0" r="5.4" fill="url(#sg)"/><circle cx="436.2" cy="189.0" r="5.4" fill="url(#sg)"/><circle cx="446.3" cy="189.0" r="5.4" fill="url(#sg)"/><circle cx="456.3" cy="189.0" r="5.4" fill="url(#sg)"/><circle cx="45.1" cy="199.0" r="5.4" fill="url(#sg)"/><circle cx="55.1" cy="199.0" r="5.4" fill="url(#sg)"/><circle cx="65.1" cy="199.0" r="5.4" fill="url(#sg)"/><circle cx="75.2" cy="199.0" r="5.4" fill="url(#sg)"/><circle cx="85.2" cy="199.0" r="5.4" fill="url(#sg)"/><circle cx="95.2" cy="199.0" r="5.4" fill="url(#sg)"/><circle cx="105.3" cy="199.0" r="5.4" fill="url(#sg)"/><circle cx="115.3" cy="199.0" r="5.4" fill="url(#sg)"/><circle cx="125.3" cy="199.0" r="5.4" fill="url(#sg)"/><circle cx="135.3" cy="199.0" r="5.4" fill="url(#sg)"/><circle cx="145.4" cy="199.0" r="5.4" fill="url(#sg)"/><circle cx="155.4" cy="199.0" r="5.4" fill="url(#sg)"/><circle cx="165.4" cy="199.0" r="5.4" fill="url(#sg)"/><circle cx="175.5" cy="199.0" r="5.4" fill="url(#sg)"/><circle cx="185.5" cy="199.0" r="5.4" fill="url(#sg)"/><circle cx="195.5" cy="199.0" r="5.4" fill="url(#sg)"/><circle cx="205.6" cy="199.0" r="5.4" fill="url(#sg)"/><circle cx="215.6" cy="199.0" r="5.4" fill="url(#sg)"/><circle cx="225.6" cy="199.0" r="5.4" fill="url(#sg)"/><circle cx="235.6" cy="199.0" r="5.4" fill="url(#sg)"/><circle cx="245.7" cy="199.0" r="5.4" fill="url(#sg)"/><circle cx="255.7" cy="199.0" r="5.4" fill="url(#sg)"/><circle cx="265.7" cy="199.0" r="5.4" fill="url(#sg)"/><circle cx="275.8" cy="199.0" r="5.4" fill="url(#sg)"/><circle cx="285.8" cy="199.0" r="5.4" fill="url(#sg)"/><circle cx="295.8" cy="199.0" r="5.4" fill="url(#sg)"/><circle cx="305.9" cy="199.0" r="5.4" fill="url(#sg)"/><circle cx="315.9" cy="199.0" r="5.4" fill="url(#sg)"/><circle cx="325.9" cy="199.0" r="5.4" fill="url(#sg)"/><circle cx="335.9" cy="199.0" r="5.4" fill="url(#sg)"/><circle cx="346.0" cy="199.0" r="5.4" fill="url(#sg)"/><circle cx="356.0" cy="199.0" r="5.4" fill="url(#sg)"/><circle cx="366.0" cy="199.0" r="5.4" fill="url(#sg)"/><circle cx="376.1" cy="199.0" r="5.4" fill="url(#sg)"/><circle cx="386.1" cy="199.0" r="5.4" fill="url(#sg)"/><circle cx="396.1" cy="199.0" r="5.4" fill="url(#sg)"/><circle cx="406.2" cy="199.0" r="5.4" fill="url(#sg)"/><circle cx="416.2" cy="199.0" r="5.4" fill="url(#sg)"/><circle cx="426.2" cy="199.0" r="5.4" fill="url(#sg)"/><circle cx="436.2" cy="199.0" r="5.4" fill="url(#sg)"/><circle cx="446.3" cy="199.0" r="5.4" fill="url(#sg)"/><circle cx="456.3" cy="199.0" r="5.4" fill="url(#sg)"/><circle cx="45.1" cy="209.1" r="5.4" fill="url(#sg)"/><circle cx="55.1" cy="209.1" r="5.4" fill="url(#sg)"/><circle cx="65.1" cy="209.1" r="5.4" fill="url(#sg)"/><circle cx="75.2" cy="209.1" r="5.4" fill="url(#sg)"/><circle cx="85.2" cy="209.1" r="5.4" fill="url(#sg)"/><circle cx="95.2" cy="209.1" r="5.4" fill="url(#sg)"/><circle cx="105.3" cy="209.1" r="5.4" fill="url(#sg)"/><circle cx="115.3" cy="209.1" r="5.4" fill="url(#sg)"/><circle cx="125.3" cy="209.1" r="5.4" fill="url(#sg)"/><circle cx="135.3" cy="209.1" r="5.4" fill="url(#sg)"/><circle cx="145.4" cy="209.1" r="5.4" fill="url(#sg)"/><circle cx="155.4" cy="209.1" r="5.4" fill="url(#sg)"/><circle cx="165.4" cy="209.1" r="5.4" fill="url(#sg)"/><circle cx="175.5" cy="209.1" r="5.4" fill="url(#sg)"/><circle cx="185.5" cy="209.1" r="5.4" fill="url(#sg)"/><circle cx="195.5" cy="209.1" r="5.4" fill="url(#sg)"/><circle cx="205.6" cy="209.1" r="5.4" fill="url(#sg)"/><circle cx="215.6" cy="209.1" r="5.4" fill="url(#sg)"/><circle cx="225.6" cy="209.1" r="5.4" fill="url(#sg)"/><circle cx="235.6" cy="209.1" r="5.4" fill="url(#sg)"/><circle cx="245.7" cy="209.1" r="5.4" fill="url(#sg)"/><circle cx="255.7" cy="209.1" r="5.4" fill="url(#sg)"/><circle cx="265.7" cy="209.1" r="5.4" fill="url(#sg)"/><circle cx="275.8" cy="209.1" r="5.4" fill="url(#sg)"/><circle cx="285.8" cy="209.1" r="5.4" fill="url(#sg)"/><circle cx="295.8" cy="209.1" r="5.4" fill="url(#sg)"/><circle cx="305.9" cy="209.1" r="5.4" fill="url(#sg)"/><circle cx="315.9" cy="209.1" r="5.4" fill="url(#sg)"/><circle cx="325.9" cy="209.1" r="5.4" fill="url(#sg)"/><circle cx="335.9" cy="209.1" r="5.4" fill="url(#sg)"/><circle cx="346.0" cy="209.1" r="5.4" fill="url(#sg)"/><circle cx="356.0" cy="209.1" r="5.4" fill="url(#sg)"/><circle cx="366.0" cy="209.1" r="5.4" fill="url(#sg)"/><circle cx="376.1" cy="209.1" r="5.4" fill="url(#sg)"/><circle cx="386.1" cy="209.1" r="5.4" fill="url(#sg)"/><circle cx="396.1" cy="209.1" r="5.4" fill="url(#sg)"/><circle cx="406.2" cy="209.1" r="5.4" fill="url(#sg)"/><circle cx="416.2" cy="209.1" r="5.4" fill="url(#sg)"/><circle cx="426.2" cy="209.1" r="5.4" fill="url(#sg)"/><circle cx="436.2" cy="209.1" r="5.4" fill="url(#sg)"/><circle cx="446.3" cy="209.1" r="5.4" fill="url(#sg)"/><circle cx="456.3" cy="209.1" r="5.4" fill="url(#sg)"/><circle cx="45.1" cy="219.1" r="5.4" fill="url(#sg)"/><circle cx="55.1" cy="219.1" r="5.4" fill="url(#sg)"/><circle cx="65.1" cy="219.1" r="5.4" fill="url(#sg)"/><circle cx="75.2" cy="219.1" r="5.4" fill="url(#sg)"/><circle cx="85.2" cy="219.1" r="5.4" fill="url(#sg)"/><circle cx="95.2" cy="219.1" r="5.4" fill="url(#sg)"/><circle cx="105.3" cy="219.1" r="5.4" fill="url(#sg)"/><circle cx="115.3" cy="219.1" r="5.4" fill="url(#sg)"/><circle cx="125.3" cy="219.1" r="5.4" fill="url(#sg)"/><circle cx="135.3" cy="219.1" r="5.4" fill="url(#sg)"/><circle cx="145.4" cy="219.1" r="5.4" fill="url(#sg)"/><circle cx="155.4" cy="219.1" r="5.4" fill="url(#sg)"/><circle cx="165.4" cy="219.1" r="5.4" fill="url(#sg)"/><circle cx="175.5" cy="219.1" r="5.4" fill="url(#sg)"/><circle cx="185.5" cy="219.1" r="5.4" fill="url(#sg)"/><circle cx="195.5" cy="219.1" r="5.4" fill="url(#sg)"/><circle cx="205.6" cy="219.1" r="5.4" fill="url(#sg)"/><circle cx="215.6" cy="219.1" r="5.4" fill="url(#sg)"/><circle cx="225.6" cy="219.1" r="5.4" fill="url(#sg)"/><circle cx="235.6" cy="219.1" r="5.4" fill="url(#sg)"/><circle cx="245.7" cy="219.1" r="5.4" fill="url(#sg)"/><circle cx="255.7" cy="219.1" r="5.4" fill="url(#sg)"/><circle cx="265.7" cy="219.1" r="5.4" fill="url(#sg)"/><circle cx="275.8" cy="219.1" r="5.4" fill="url(#sg)"/><circle cx="285.8" cy="219.1" r="5.4" fill="url(#sg)"/><circle cx="295.8" cy="219.1" r="5.4" fill="url(#sg)"/><circle cx="305.9" cy="219.1" r="5.4" fill="url(#sg)"/><circle cx="315.9" cy="219.1" r="5.4" fill="url(#sg)"/><circle cx="325.9" cy="219.1" r="5.4" fill="url(#sg)"/><circle cx="335.9" cy="219.1" r="5.4" fill="url(#sg)"/><circle cx="346.0" cy="219.1" r="5.4" fill="url(#sg)"/><circle cx="356.0" cy="219.1" r="5.4" fill="url(#sg)"/><circle cx="366.0" cy="219.1" r="5.4" fill="url(#sg)"/><circle cx="376.1" cy="219.1" r="5.4" fill="url(#sg)"/><circle cx="386.1" cy="219.1" r="5.4" fill="url(#sg)"/><circle cx="396.1" cy="219.1" r="5.4" fill="url(#sg)"/><circle cx="406.2" cy="219.1" r="5.4" fill="url(#sg)"/><circle cx="416.2" cy="219.1" r="5.4" fill="url(#sg)"/><circle cx="426.2" cy="219.1" r="5.4" fill="url(#sg)"/><circle cx="436.2" cy="219.1" r="5.4" fill="url(#sg)"/><circle cx="446.3" cy="219.1" r="5.4" fill="url(#sg)"/><circle cx="456.3" cy="219.1" r="5.4" fill="url(#sg)"/><circle cx="45.1" cy="229.1" r="5.4" fill="url(#sg)"/><circle cx="55.1" cy="229.1" r="5.4" fill="url(#sg)"/><circle cx="65.1" cy="229.1" r="5.4" fill="url(#sg)"/><circle cx="75.2" cy="229.1" r="5.4" fill="url(#sg)"/><circle cx="85.2" cy="229.1" r="5.4" fill="url(#sg)"/><circle cx="95.2" cy="229.1" r="5.4" fill="url(#sg)"/><circle cx="105.3" cy="229.1" r="5.4" fill="url(#sg)"/><circle cx="115.3" cy="229.1" r="5.4" fill="url(#sg)"/><circle cx="125.3" cy="229.1" r="5.4" fill="url(#sg)"/><circle cx="135.3" cy="229.1" r="5.4" fill="url(#sg)"/><circle cx="145.4" cy="229.1" r="5.4" fill="url(#sg)"/><circle cx="155.4" cy="229.1" r="5.4" fill="url(#sg)"/><circle cx="165.4" cy="229.1" r="5.4" fill="url(#sg)"/><circle cx="175.5" cy="229.1" r="5.4" fill="url(#sg)"/><circle cx="185.5" cy="229.1" r="5.4" fill="url(#sg)"/><circle cx="195.5" cy="229.1" r="5.4" fill="url(#sg)"/><circle cx="205.6" cy="229.1" r="5.4" fill="url(#sg)"/><circle cx="215.6" cy="229.1" r="5.4" fill="url(#sg)"/><circle cx="225.6" cy="229.1" r="5.4" fill="url(#sg)"/><circle cx="235.6" cy="229.1" r="5.4" fill="url(#sg)"/><circle cx="245.7" cy="229.1" r="5.4" fill="url(#sg)"/><circle cx="255.7" cy="229.1" r="5.4" fill="url(#sg)"/><circle cx="265.7" cy="229.1" r="5.4" fill="url(#sg)"/><circle cx="275.8" cy="229.1" r="5.4" fill="url(#sg)"/><circle cx="285.8" cy="229.1" r="5.4" fill="url(#sg)"/><circle cx="295.8" cy="229.1" r="5.4" fill="url(#sg)"/><circle cx="305.9" cy="229.1" r="5.4" fill="url(#sg)"/><circle cx="315.9" cy="229.1" r="5.4" fill="url(#sg)"/><circle cx="325.9" cy="229.1" r="5.4" fill="url(#sg)"/><circle cx="335.9" cy="229.1" r="5.4" fill="url(#sg)"/><circle cx="346.0" cy="229.1" r="5.4" fill="url(#sg)"/><circle cx="356.0" cy="229.1" r="5.4" fill="url(#sg)"/><circle cx="366.0" cy="229.1" r="5.4" fill="url(#sg)"/><circle cx="376.1" cy="229.1" r="5.4" fill="url(#sg)"/><circle cx="386.1" cy="229.1" r="5.4" fill="url(#sg)"/><circle cx="396.1" cy="229.1" r="5.4" fill="url(#sg)"/><circle cx="406.2" cy="229.1" r="5.4" fill="url(#sg)"/><circle cx="416.2" cy="229.1" r="5.4" fill="url(#sg)"/><circle cx="426.2" cy="229.1" r="5.4" fill="url(#sg)"/><circle cx="436.2" cy="229.1" r="5.4" fill="url(#sg)"/><circle cx="446.3" cy="229.1" r="5.4" fill="url(#sg)"/><circle cx="456.3" cy="229.1" r="5.4" fill="url(#sg)"/><circle cx="45.1" cy="239.1" r="5.4" fill="url(#sg)"/><circle cx="55.1" cy="239.1" r="5.4" fill="url(#sg)"/><circle cx="65.1" cy="239.1" r="5.4" fill="url(#sg)"/><circle cx="75.2" cy="239.1" r="5.4" fill="url(#sg)"/><circle cx="85.2" cy="239.1" r="5.4" fill="url(#sg)"/><circle cx="95.2" cy="239.1" r="5.4" fill="url(#sg)"/><circle cx="105.3" cy="239.1" r="5.4" fill="url(#sg)"/><circle cx="115.3" cy="239.1" r="5.4" fill="url(#sg)"/><circle cx="125.3" cy="239.1" r="5.4" fill="url(#sg)"/><circle cx="135.3" cy="239.1" r="5.4" fill="url(#sg)"/><circle cx="145.4" cy="239.1" r="5.4" fill="url(#sg)"/><circle cx="155.4" cy="239.1" r="5.4" fill="url(#sg)"/><circle cx="165.4" cy="239.1" r="5.4" fill="url(#sg)"/><circle cx="175.5" cy="239.1" r="5.4" fill="url(#sg)"/><circle cx="185.5" cy="239.1" r="5.4" fill="url(#sg)"/><circle cx="195.5" cy="239.1" r="5.4" fill="url(#sg)"/><circle cx="205.6" cy="239.1" r="5.4" fill="url(#sg)"/><circle cx="215.6" cy="239.1" r="5.4" fill="url(#sg)"/><circle cx="225.6" cy="239.1" r="5.4" fill="url(#sg)"/><circle cx="235.6" cy="239.1" r="5.4" fill="url(#sg)"/><circle cx="245.7" cy="239.1" r="5.4" fill="url(#sg)"/><circle cx="255.7" cy="239.1" r="5.4" fill="url(#sg)"/><circle cx="265.7" cy="239.1" r="5.4" fill="url(#sg)"/><circle cx="275.8" cy="239.1" r="5.4" fill="url(#sg)"/><circle cx="285.8" cy="239.1" r="5.4" fill="url(#sg)"/><circle cx="295.8" cy="239.1" r="5.4" fill="url(#sg)"/><circle cx="305.9" cy="239.1" r="5.4" fill="url(#sg)"/><circle cx="315.9" cy="239.1" r="5.4" fill="url(#sg)"/><circle cx="325.9" cy="239.1" r="5.4" fill="url(#sg)"/><circle cx="335.9" cy="239.1" r="5.4" fill="url(#sg)"/><circle cx="346.0" cy="239.1" r="5.4" fill="url(#sg)"/><circle cx="356.0" cy="239.1" r="5.4" fill="url(#sg)"/><circle cx="366.0" cy="239.1" r="5.4" fill="url(#sg)"/><circle cx="376.1" cy="239.1" r="5.4" fill="url(#sg)"/><circle cx="386.1" cy="239.1" r="5.4" fill="url(#sg)"/><circle cx="396.1" cy="239.1" r="5.4" fill="url(#sg)"/><circle cx="406.2" cy="239.1" r="5.4" fill="url(#sg)"/><circle cx="416.2" cy="239.1" r="5.4" fill="url(#sg)"/><circle cx="426.2" cy="239.1" r="5.4" fill="url(#sg)"/><circle cx="436.2" cy="239.1" r="5.4" fill="url(#sg)"/><circle cx="446.3" cy="239.1" r="5.4" fill="url(#sg)"/><circle cx="456.3" cy="239.1" r="5.4" fill="url(#sg)"/><circle cx="45.1" cy="249.2" r="5.4" fill="url(#sg)"/><circle cx="55.1" cy="249.2" r="5.4" fill="url(#sg)"/><circle cx="65.1" cy="249.2" r="5.4" fill="url(#sg)"/><circle cx="75.2" cy="249.2" r="5.4" fill="url(#sg)"/><circle cx="85.2" cy="249.2" r="5.4" fill="url(#sg)"/><circle cx="95.2" cy="249.2" r="5.4" fill="url(#sg)"/><circle cx="105.3" cy="249.2" r="5.4" fill="url(#sg)"/><circle cx="115.3" cy="249.2" r="5.4" fill="url(#sg)"/><circle cx="125.3" cy="249.2" r="5.4" fill="url(#sg)"/><circle cx="135.3" cy="249.2" r="5.4" fill="url(#sg)"/><circle cx="145.4" cy="249.2" r="5.4" fill="url(#sg)"/><circle cx="155.4" cy="249.2" r="5.4" fill="url(#sg)"/><circle cx="165.4" cy="249.2" r="5.4" fill="url(#sg)"/><circle cx="175.5" cy="249.2" r="5.4" fill="url(#sg)"/><circle cx="185.5" cy="249.2" r="5.4" fill="url(#sg)"/><circle cx="195.5" cy="249.2" r="5.4" fill="url(#sg)"/><circle cx="205.6" cy="249.2" r="5.4" fill="url(#sg)"/><circle cx="215.6" cy="249.2" r="5.4" fill="url(#sg)"/><circle cx="225.6" cy="249.2" r="5.4" fill="url(#sg)"/><circle cx="235.6" cy="249.2" r="5.4" fill="url(#sg)"/><circle cx="245.7" cy="249.2" r="5.4" fill="url(#sg)"/><circle cx="255.7" cy="249.2" r="5.4" fill="url(#sg)"/><circle cx="265.7" cy="249.2" r="5.4" fill="url(#sg)"/><circle cx="275.8" cy="249.2" r="5.4" fill="url(#sg)"/><circle cx="285.8" cy="249.2" r="5.4" fill="url(#sg)"/><circle cx="295.8" cy="249.2" r="5.4" fill="url(#sg)"/><circle cx="305.9" cy="249.2" r="5.4" fill="url(#sg)"/><circle cx="315.9" cy="249.2" r="5.4" fill="url(#sg)"/><circle cx="325.9" cy="249.2" r="5.4" fill="url(#sg)"/><circle cx="335.9" cy="249.2" r="5.4" fill="url(#sg)"/><circle cx="346.0" cy="249.2" r="5.4" fill="url(#sg)"/><circle cx="356.0" cy="249.2" r="5.4" fill="url(#sg)"/><circle cx="366.0" cy="249.2" r="5.4" fill="url(#sg)"/><circle cx="376.1" cy="249.2" r="5.4" fill="url(#sg)"/><circle cx="386.1" cy="249.2" r="5.4" fill="url(#sg)"/><circle cx="396.1" cy="249.2" r="5.4" fill="url(#sg)"/><circle cx="406.2" cy="249.2" r="5.4" fill="url(#sg)"/><circle cx="416.2" cy="249.2" r="5.4" fill="url(#sg)"/><circle cx="426.2" cy="249.2" r="5.4" fill="url(#sg)"/><circle cx="436.2" cy="249.2" r="5.4" fill="url(#sg)"/><circle cx="446.3" cy="249.2" r="5.4" fill="url(#sg)"/><circle cx="456.3" cy="249.2" r="5.4" fill="url(#sg)"/></g><path d="M74.0 149.9 L77.0 146.9 L80.0 143.9 L83.0 142.0 L86.0 140.4 L89.0 138.7 L92.0 137.0 L95.0 135.3 L98.0 133.6 L101.0 131.5 L104.0 129.4 L107.0 127.3 L110.0 125.2 L113.0 123.5 L116.0 122.0 L119.0 120.4 L122.0 118.9 L125.0 117.4 L128.0 115.9 L131.0 114.6 L134.0 113.3 L137.0 112.1 L140.0 110.8 L143.0 109.6 L146.0 108.5 L149.0 107.4 L152.0 106.4 L155.0 105.3 L158.0 104.2 L161.0 103.2 L164.0 102.1 L167.0 101.0 L170.0 100.0 L173.0 98.9 L176.0 97.8 L179.0 96.7 L182.0 96.0 L185.0 95.4 L188.0 94.8 L191.0 94.2 L194.0 93.5 L197.0 92.9 L200.0 92.3 L203.0 91.8 L206.0 91.2 L209.0 90.7 L212.0 90.1 L215.0 89.6 L218.0 89.3 L221.0 89.0 L224.0 88.7 L227.0 88.5 L230.0 88.2 L233.0 87.9 L236.0 87.6 L239.0 87.4 L242.0 87.2 L245.0 87.1 L248.0 87.0 L251.0 86.9 L254.0 86.8 L257.0 86.7 L260.0 86.6 L263.0 86.5 L266.0 86.4 L269.0 86.4 L272.0 86.8 L275.0 87.2 L278.0 87.5 L281.0 87.9 L284.0 88.3 L287.0 88.7 L290.0 89.0 L293.0 89.5 L296.0 90.2 L299.0 90.8 L302.0 91.5 L305.0 92.2 L308.0 92.8 L311.0 93.5 L314.0 94.1 L317.0 94.8 L320.0 95.7 L323.0 96.5 L326.0 97.4 L329.0 98.2 L332.0 99.2 L335.0 100.3 L338.0 101.4 L341.0 102.5 L344.0 103.6 L347.0 104.7 L350.0 105.9 L353.0 107.1 L356.0 108.3 L359.0 109.5 L362.0 110.7 L365.0 111.9 L368.0 113.1 L371.0 114.3 L374.0 117.0 L377.0 119.6 L380.0 122.3 L383.0 124.9 L386.0 127.4 L389.0 129.8 L392.0 132.3 L395.0 134.8 L398.0 138.4 L401.0 142.9 L402 154 L74 154Z" fill="#484848"/><circle cx="102.2" cy="140.0" r="4.9" fill="url(#sh)"/><circle cx="331.6" cy="141.0" r="4.9" fill="url(#sh)"/><circle cx="389.8" cy="135.0" r="4.9" fill="url(#sh)"/><circle cx="168.6" cy="126.7" r="4.9" fill="url(#sG)"/><circle cx="170.1" cy="132.6" r="4.9" fill="url(#sc)"/><circle cx="229.5" cy="151.9" r="4.9" fill="url(#sh)"/><circle cx="231.9" cy="125.1" r="4.9" fill="url(#sb)"/><circle cx="250.7" cy="149.5" r="4.9" fill="url(#sh)"/><circle cx="362.9" cy="139.0" r="4.9" fill="url(#sh)"/><circle cx="247.4" cy="122.6" r="4.9" fill="url(#sc)"/><circle cx="225.6" cy="126.7" r="4.9" fill="url(#sb)"/><circle cx="223.5" cy="147.0" r="4.9" fill="url(#sh)"/><circle cx="263.3" cy="127.2" r="4.9" fill="url(#sb)"/><circle cx="211.0" cy="140.8" r="4.9" fill="url(#sh)"/><circle cx="203.8" cy="131.1" r="4.9" fill="url(#sb)"/><circle cx="318.3" cy="125.8" r="4.9" fill="url(#sb)"/><circle cx="271.1" cy="131.7" r="4.9" fill="url(#sb)"/><circle cx="169.2" cy="141.9" r="4.9" fill="url(#sh)"/><circle cx="314.1" cy="141.0" r="4.9" fill="url(#sh)"/><circle cx="290.2" cy="121.7" r="4.9" fill="url(#sc)"/><circle cx="314.4" cy="101.3" r="4.9" fill="url(#sG)"/><circle cx="192.3" cy="116.3" r="4.9" fill="url(#sy)"/><circle cx="260.8" cy="102.2" r="4.9" fill="url(#sy)"/><circle cx="235.5" cy="94.8" r="4.9" fill="url(#sy)"/><circle cx="234.4" cy="101.1" r="4.9" fill="url(#sy)"/><circle cx="115.7" cy="126.6" r="4.9" fill="url(#sG)"/><circle cx="216.1" cy="99.9" r="4.9" fill="url(#sy)"/><circle cx="141.6" cy="130.0" r="4.9" fill="url(#sG)"/><circle cx="345.3" cy="134.9" r="4.9" fill="url(#sh)"/><circle cx="362.5" cy="120.6" r="4.9" fill="url(#sb)"/><circle cx="246.6" cy="142.9" r="4.9" fill="url(#sh)"/><circle cx="135.6" cy="130.1" r="4.9" fill="url(#sG)"/><circle cx="234.7" cy="130.6" r="4.9" fill="url(#sb)"/><circle cx="368.3" cy="123.0" r="4.9" fill="url(#sb)"/><circle cx="96.1" cy="152.0" r="4.9" fill="url(#sh)"/><circle cx="400.8" cy="152.0" r="4.9" fill="url(#sh)"/><circle cx="368.5" cy="136.7" r="4.9" fill="url(#sh)"/><circle cx="154.3" cy="116.0" r="4.9" fill="url(#sr)"/><circle cx="378.9" cy="150.3" r="4.9" fill="url(#sh)"/><circle cx="177.6" cy="130.2" r="4.9" fill="url(#sG)"/><circle cx="325.9" cy="126.9" r="4.9" fill="url(#sb)"/><circle cx="292.6" cy="131.4" r="4.9" fill="url(#sb)"/><circle cx="279.4" cy="131.9" r="4.9" fill="url(#sh)"/><circle cx="191.5" cy="130.8" r="4.9" fill="url(#sc)"/><circle cx="255.2" cy="90.1" r="4.9" fill="url(#sy)"/><circle cx="252.8" cy="126.3" r="4.9" fill="url(#sb)"/><circle cx="123.9" cy="129.0" r="4.9" fill="url(#sG)"/><circle cx="138.3" cy="137.8" r="4.9" fill="url(#sb)"/><circle cx="364.1" cy="129.2" r="4.9" fill="url(#sh)"/><circle cx="287.0" cy="102.9" r="4.9" fill="url(#sy)"/><circle cx="156.2" cy="127.8" r="4.9" fill="url(#sG)"/><circle cx="379.3" cy="143.4" r="4.9" fill="url(#sh)"/><circle cx="333.1" cy="130.7" r="4.9" fill="url(#sh)"/><circle cx="216.2" cy="137.5" r="4.9" fill="url(#sb)"/><circle cx="271.6" cy="105.4" r="4.9" fill="url(#sy)"/><circle cx="185.9" cy="140.0" r="4.9" fill="url(#sh)"/><circle cx="185.5" cy="123.3" r="4.9" fill="url(#sy)"/><circle cx="339.2" cy="129.3" r="4.9" fill="url(#sb)"/><circle cx="289.5" cy="96.1" r="4.9" fill="url(#sy)"/><circle cx="226.7" cy="113.0" r="4.9" fill="url(#sG)"/><circle cx="232.0" cy="139.9" r="4.9" fill="url(#sh)"/><circle cx="294.7" cy="93.0" r="4.9" fill="url(#sy)"/><circle cx="176.3" cy="123.3" r="4.9" fill="url(#sy)"/><circle cx="109.9" cy="128.6" r="4.9" fill="url(#sG)"/><circle cx="176.5" cy="108.2" r="4.9" fill="url(#sr)"/><circle cx="295.6" cy="114.3" r="4.9" fill="url(#sc)"/><circle cx="221.5" cy="93.5" r="4.9" fill="url(#sy)"/><circle cx="208.4" cy="115.1" r="4.9" fill="url(#sG)"/><circle cx="346.0" cy="106.5" r="4.9" fill="url(#sc)"/><circle cx="323.3" cy="151.5" r="4.9" fill="url(#sh)"/><circle cx="312.0" cy="127.6" r="4.9" fill="url(#sb)"/><circle cx="134.1" cy="115.6" r="4.9" fill="url(#sy)"/><circle cx="165.3" cy="136.9" r="4.9" fill="url(#sc)"/><circle cx="328.3" cy="100.6" r="4.9" fill="url(#sG)"/><circle cx="147.1" cy="113.2" r="4.9" fill="url(#sr)"/><circle cx="328.0" cy="135.4" r="4.9" fill="url(#sh)"/><circle cx="286.4" cy="134.9" r="4.9" fill="url(#sh)"/><circle cx="334.5" cy="124.2" r="4.9" fill="url(#sb)"/><circle cx="114.4" cy="138.8" r="4.9" fill="url(#sh)"/><circle cx="274.9" cy="113.4" r="4.9" fill="url(#sG)"/><circle cx="258.8" cy="122.0" r="4.9" fill="url(#sc)"/><circle cx="185.4" cy="98.5" r="4.9" fill="url(#sr)"/><circle cx="117.4" cy="144.2" r="4.9" fill="url(#sh)"/><circle cx="335.9" cy="147.2" r="4.9" fill="url(#sh)"/><circle cx="129.9" cy="127.8" r="4.9" fill="url(#sG)"/><circle cx="191.4" cy="105.4" r="4.9" fill="url(#sr)"/><circle cx="316.6" cy="110.3" r="4.9" fill="url(#sc)"/><circle cx="188.3" cy="146.1" r="4.9" fill="url(#sh)"/><circle cx="217.7" cy="144.2" r="4.9" fill="url(#sh)"/><circle cx="301.8" cy="113.0" r="4.9" fill="url(#sc)"/><circle cx="266.5" cy="99.4" r="4.9" fill="url(#sy)"/><circle cx="369.6" cy="116.6" r="4.9" fill="url(#sb)"/><circle cx="137.6" cy="121.4" r="4.9" fill="url(#sy)"/><circle cx="293.5" cy="101.6" r="4.9" fill="url(#sy)"/><circle cx="88.2" cy="143.3" r="4.9" fill="url(#sh)"/><circle cx="305.7" cy="145.4" r="4.9" fill="url(#sh)"/><circle cx="329.0" cy="108.1" r="4.9" fill="url(#sG)"/><circle cx="345.0" cy="145.3" r="4.9" fill="url(#sh)"/><circle cx="299.9" cy="147.3" r="4.9" fill="url(#sh)"/><circle cx="359.1" cy="115.5" r="4.9" fill="url(#sb)"/><circle cx="90.3" cy="149.2" r="4.9" fill="url(#sh)"/><circle cx="305.6" cy="122.4" r="4.9" fill="url(#sc)"/><circle cx="97.6" cy="144.4" r="4.9" fill="url(#sh)"/><circle cx="343.7" cy="120.9" r="4.9" fill="url(#sc)"/><circle cx="157.4" cy="110.0" r="4.9" fill="url(#sr)"/><circle cx="357.6" cy="149.2" r="4.9" fill="url(#sh)"/><circle cx="185.1" cy="113.6" r="4.9" fill="url(#sr)"/><circle cx="349.5" cy="128.4" r="4.9" fill="url(#sb)"/><circle cx="208.0" cy="146.6" r="4.9" fill="url(#sh)"/><circle cx="225.7" cy="132.8" r="4.9" fill="url(#sb)"/><circle cx="123.6" cy="143.8" r="4.9" fill="url(#sh)"/><circle cx="244.3" cy="92.2" r="4.9" fill="url(#sy)"/><circle cx="319.0" cy="137.1" r="4.9" fill="url(#sh)"/><circle cx="209.9" cy="132.9" r="4.9" fill="url(#sb)"/><circle cx="151.1" cy="123.1" r="4.9" fill="url(#sy)"/><circle cx="251.9" cy="134.9" r="4.9" fill="url(#sh)"/><circle cx="185.3" cy="107.2" r="4.9" fill="url(#sr)"/><circle cx="264.7" cy="144.7" r="4.9" fill="url(#sh)"/><circle cx="204.4" cy="106.0" r="4.9" fill="url(#sy)"/><circle cx="310.5" cy="108.1" r="4.9" fill="url(#sG)"/><circle cx="282.9" cy="125.9" r="4.9" fill="url(#sb)"/><circle cx="247.6" cy="99.4" r="4.9" fill="url(#sy)"/><circle cx="228.6" cy="93.4" r="4.9" fill="url(#sy)"/><circle cx="148.8" cy="145.9" r="4.9" fill="url(#sh)"/><circle cx="322.0" cy="142.9" r="4.9" fill="url(#sh)"/><circle cx="111.0" cy="151.6" r="4.9" fill="url(#sh)"/><circle cx="163.6" cy="151.4" r="4.9" fill="url(#sh)"/><circle cx="252.9" cy="106.7" r="4.9" fill="url(#sG)"/><circle cx="118.7" cy="151.4" r="4.9" fill="url(#sh)"/><circle cx="330.4" cy="117.9" r="4.9" fill="url(#sc)"/><circle cx="194.5" cy="145.7" r="4.9" fill="url(#sh)"/><circle cx="274.1" cy="146.1" r="4.9" fill="url(#sh)"/><circle cx="354.4" cy="133.2" r="4.9" fill="url(#sh)"/><circle cx="199.7" cy="152.2" r="4.9" fill="url(#sh)"/><circle cx="76.6" cy="149.8" r="4.9" fill="url(#sh)"/><circle cx="321.5" cy="131.4" r="4.9" fill="url(#sh)"/><circle cx="81.2" cy="145.3" r="4.9" fill="url(#sh)"/><circle cx="254.7" cy="100.8" r="4.9" fill="url(#sy)"/><circle cx="284.4" cy="92.0" r="4.9" fill="url(#sy)"/><circle cx="209.8" cy="124.0" r="4.9" fill="url(#sc)"/><circle cx="201.9" cy="95.2" r="4.9" fill="url(#sr)"/><circle cx="367.0" cy="149.0" r="4.9" fill="url(#sh)"/><circle cx="351.1" cy="147.4" r="4.9" fill="url(#sh)"/><circle cx="157.1" cy="152.1" r="4.9" fill="url(#sh)"/><circle cx="213.8" cy="94.2" r="4.9" fill="url(#sr)"/><circle cx="143.9" cy="121.1" r="4.9" fill="url(#sy)"/><circle cx="171.3" cy="119.0" r="4.9" fill="url(#sy)"/><circle cx="147.5" cy="152.0" r="4.9" fill="url(#sh)"/><circle cx="274.6" cy="126.5" r="4.9" fill="url(#sb)"/><circle cx="220.9" cy="114.9" r="4.9" fill="url(#sG)"/><circle cx="223.4" cy="139.7" r="4.9" fill="url(#sh)"/><circle cx="310.7" cy="149.1" r="4.9" fill="url(#sh)"/><circle cx="178.5" cy="151.6" r="4.9" fill="url(#sh)"/><circle cx="221.1" cy="122.6" r="4.9" fill="url(#sc)"/><circle cx="162.7" cy="105.6" r="4.9" fill="url(#sr)"/><circle cx="162.4" cy="125.2" r="4.9" fill="url(#sy)"/><circle cx="322.6" cy="103.8" r="4.9" fill="url(#sG)"/><circle cx="303.2" cy="94.8" r="4.9" fill="url(#sG)"/><circle cx="354.5" cy="121.6" r="4.9" fill="url(#sb)"/><circle cx="375.0" cy="129.0" r="4.9" fill="url(#sh)"/><circle cx="239.7" cy="123.7" r="4.9" fill="url(#sc)"/><circle cx="351.1" cy="116.0" r="4.9" fill="url(#sc)"/><circle cx="207.3" cy="98.8" r="4.9" fill="url(#sr)"/><circle cx="302.8" cy="137.7" r="4.9" fill="url(#sh)"/><circle cx="83.7" cy="151.7" r="4.9" fill="url(#sh)"/><circle cx="267.9" cy="150.1" r="4.9" fill="url(#sh)"/><circle cx="340.8" cy="139.2" r="4.9" fill="url(#sh)"/><circle cx="102.5" cy="148.4" r="4.9" fill="url(#sh)"/><circle cx="246.6" cy="111.0" r="4.9" fill="url(#sG)"/><circle cx="240.1" cy="104.6" r="4.9" fill="url(#sy)"/><circle cx="149.1" cy="131.8" r="4.9" fill="url(#sc)"/><circle cx="135.8" cy="147.4" r="4.9" fill="url(#sh)"/><circle cx="192.4" cy="151.3" r="4.9" fill="url(#sh)"/><circle cx="260.8" cy="114.9" r="4.9" fill="url(#sc)"/><circle cx="281.2" cy="141.1" r="4.9" fill="url(#sh)"/><circle cx="245.1" cy="131.2" r="4.9" fill="url(#sh)"/><circle cx="301.1" cy="129.6" r="4.9" fill="url(#sb)"/><circle cx="197.4" cy="129.6" r="4.9" fill="url(#sc)"/><circle cx="204.9" cy="137.3" r="4.9" fill="url(#sb)"/><circle cx="202.8" cy="120.3" r="4.9" fill="url(#sG)"/><circle cx="154.3" cy="139.0" r="4.9" fill="url(#sc)"/><circle cx="297.4" cy="141.1" r="4.9" fill="url(#sh)"/><circle cx="176.9" cy="116.6" r="4.9" fill="url(#sr)"/><circle cx="120.7" cy="138.4" r="4.9" fill="url(#sb)"/><circle cx="194.0" cy="122.7" r="4.9" fill="url(#sG)"/><circle cx="181.7" cy="146.2" r="4.9" fill="url(#sh)"/><circle cx="237.1" cy="151.3" r="4.9" fill="url(#sh)"/><circle cx="266.2" cy="138.1" r="4.9" fill="url(#sh)"/><circle cx="126.1" cy="152.1" r="4.9" fill="url(#sh)"/><circle cx="214.6" cy="115.8" r="4.9" fill="url(#sG)"/><circle cx="144.9" cy="139.1" r="4.9" fill="url(#sb)"/><circle cx="140.6" cy="114.6" r="4.9" fill="url(#sr)"/><circle cx="239.8" cy="134.3" r="4.9" fill="url(#sh)"/><circle cx="243.5" cy="149.8" r="4.9" fill="url(#sh)"/><circle cx="233.7" cy="145.7" r="4.9" fill="url(#sh)"/><circle cx="386.2" cy="148.2" r="4.9" fill="url(#sh)"/><circle cx="169.3" cy="106.2" r="4.9" fill="url(#sr)"/><circle cx="358.2" cy="127.9" r="4.9" fill="url(#sb)"/><circle cx="291.1" cy="150.3" r="4.9" fill="url(#sh)"/><circle cx="346.6" cy="151.6" r="4.9" fill="url(#sh)"/><circle cx="156.8" cy="145.6" r="4.9" fill="url(#sh)"/><circle cx="295.8" cy="124.4" r="4.9" fill="url(#sc)"/><circle cx="259.9" cy="95.6" r="4.9" fill="url(#sy)"/><circle cx="391.7" cy="151.4" r="4.9" fill="url(#sh)"/><circle cx="299.9" cy="120.0" r="4.9" fill="url(#sc)"/><circle cx="265.0" cy="106.8" r="4.9" fill="url(#sG)"/><circle cx="300.1" cy="100.5" r="4.9" fill="url(#sG)"/><circle cx="105.2" cy="133.0" r="4.9" fill="url(#sh)"/><circle cx="160.9" cy="141.1" r="4.9" fill="url(#sh)"/><circle cx="234.9" cy="107.5" r="4.9" fill="url(#sy)"/><circle cx="120.6" cy="122.4" r="4.9" fill="url(#sG)"/><circle cx="232.8" cy="113.4" r="4.9" fill="url(#sG)"/><circle cx="370.2" cy="143.0" r="4.9" fill="url(#sh)"/><circle cx="276.8" cy="90.2" r="4.9" fill="url(#sy)"/><circle cx="201.4" cy="145.8" r="4.9" fill="url(#sh)"/><circle cx="376.1" cy="135.2" r="4.9" fill="url(#sh)"/><circle cx="351.7" cy="109.2" r="4.9" fill="url(#sc)"/><circle cx="340.4" cy="109.4" r="4.9" fill="url(#sc)"/><circle cx="264.7" cy="90.4" r="4.9" fill="url(#sy)"/><circle cx="352.6" cy="139.1" r="4.9" fill="url(#sh)"/><circle cx="214.2" cy="149.4" r="4.9" fill="url(#sh)"/><circle cx="270.4" cy="122.2" r="4.9" fill="url(#sc)"/><circle cx="251.3" cy="115.2" r="4.9" fill="url(#sc)"/><circle cx="383.9" cy="137.5" r="4.9" fill="url(#sh)"/><circle cx="277.8" cy="119.7" r="4.9" fill="url(#sc)"/><circle cx="307.0" cy="99.7" r="4.9" fill="url(#sG)"/><circle cx="324.2" cy="112.3" r="4.9" fill="url(#sc)"/><circle cx="308.2" cy="114.9" r="4.9" fill="url(#sc)"/><circle cx="291.2" cy="144.0" r="4.9" fill="url(#sh)"/><circle cx="179.0" cy="101.3" r="4.9" fill="url(#sr)"/><circle cx="184.7" cy="151.9" r="4.9" fill="url(#sh)"/><circle cx="284.0" cy="119.2" r="4.9" fill="url(#sc)"/><circle cx="223.4" cy="106.7" r="4.9" fill="url(#sy)"/><circle cx="279.7" cy="97.1" r="4.9" fill="url(#sy)"/><circle cx="93.5" cy="138.8" r="4.9" fill="url(#sh)"/><circle cx="283.6" cy="150.1" r="4.9" fill="url(#sh)"/><circle cx="381.9" cy="127.8" r="4.9" fill="url(#sh)"/><circle cx="295.1" cy="108.2" r="4.9" fill="url(#sG)"/><circle cx="283.4" cy="110.6" r="4.9" fill="url(#sG)"/><circle cx="258.8" cy="108.6" r="4.9" fill="url(#sG)"/><circle cx="316.9" cy="151.8" r="4.9" fill="url(#sh)"/><circle cx="376.8" cy="123.2" r="4.9" fill="url(#sh)"/><circle cx="329.4" cy="148.6" r="4.9" fill="url(#sh)"/><circle cx="266.7" cy="113.3" r="4.9" fill="url(#sG)"/><circle cx="238.8" cy="141.2" r="4.9" fill="url(#sh)"/><circle cx="304.1" cy="151.6" r="4.9" fill="url(#sh)"/><circle cx="184.0" cy="131.3" r="4.9" fill="url(#sc)"/><circle cx="357.6" cy="143.0" r="4.9" fill="url(#sh)"/><circle cx="336.8" cy="118.0" r="4.9" fill="url(#sc)"/><circle cx="131.0" cy="142.5" r="4.9" fill="url(#sh)"/><circle cx="129.4" cy="136.2" r="4.9" fill="url(#sc)"/><circle cx="278.4" cy="106.5" r="4.9" fill="url(#sy)"/><circle cx="212.3" cy="107.3" r="4.9" fill="url(#sy)"/><circle cx="196.6" cy="137.1" r="4.9" fill="url(#sb)"/><circle cx="322.4" cy="120.9" r="4.9" fill="url(#sc)"/><circle cx="218.4" cy="129.0" r="4.9" fill="url(#sb)"/><circle cx="132.1" cy="152.2" r="4.9" fill="url(#sh)"/><circle cx="197.3" cy="111.6" r="4.9" fill="url(#sy)"/><circle cx="277.4" cy="151.4" r="4.9" fill="url(#sh)"/><circle cx="313.3" cy="134.6" r="4.9" fill="url(#sh)"/><circle cx="241.7" cy="98.0" r="4.9" fill="url(#sy)"/><circle cx="387.5" cy="142.3" r="4.9" fill="url(#sh)"/><circle cx="275.3" cy="139.3" r="4.9" fill="url(#sh)"/><circle cx="270.7" cy="92.2" r="4.9" fill="url(#sy)"/><circle cx="345.2" cy="114.9" r="4.9" fill="url(#sc)"/><circle cx="229.3" cy="118.9" r="4.9" fill="url(#sc)"/><circle cx="131.3" cy="121.2" r="4.9" fill="url(#sy)"/><circle cx="313.7" cy="117.7" r="4.9" fill="url(#sc)"/><circle cx="399.1" cy="145.6" r="4.9" fill="url(#sh)"/><circle cx="272.7" cy="99.2" r="4.9" fill="url(#sy)"/><circle cx="176.9" cy="136.9" r="4.9" fill="url(#sc)"/><circle cx="256.1" cy="143.5" r="4.9" fill="url(#sh)"/><circle cx="261.8" cy="151.0" r="4.9" fill="url(#sh)"/><circle cx="159.4" cy="119.7" r="4.9" fill="url(#sr)"/><circle cx="172.6" cy="147.9" r="4.9" fill="url(#sh)"/><circle cx="159.4" cy="135.1" r="4.9" fill="url(#sc)"/><circle cx="303.4" cy="106.3" r="4.9" fill="url(#sG)"/><circle cx="192.0" cy="96.9" r="4.9" fill="url(#sr)"/><circle cx="340.5" cy="152.2" r="4.9" fill="url(#sh)"/><circle cx="238.6" cy="116.1" r="4.9" fill="url(#sc)"/><circle cx="259.2" cy="131.7" r="4.9" fill="url(#sb)"/><circle cx="166.5" cy="114.2" r="4.9" fill="url(#sr)"/><circle cx="334.8" cy="105.8" r="4.9" fill="url(#sG)"/><circle cx="252.0" cy="95.2" r="4.9" fill="url(#sy)"/><circle cx="225.3" cy="98.9" r="4.9" fill="url(#sy)"/><circle cx="110.5" cy="145.5" r="4.9" fill="url(#sh)"/><circle cx="288.7" cy="115.1" r="4.9" fill="url(#sc)"/><circle cx="196.9" cy="102.4" r="4.9" fill="url(#sr)"/><circle cx="393.3" cy="140.4" r="4.9" fill="url(#sh)"/><circle cx="142.2" cy="148.7" r="4.9" fill="url(#sh)"/><circle cx="118.6" cy="132.2" r="4.9" fill="url(#sc)"/><circle cx="334.4" cy="112.5" r="4.9" fill="url(#sc)"/><circle cx="308.7" cy="130.6" r="4.9" fill="url(#sb)"/><circle cx="333.1" cy="132.2" r="4.9" fill="url(#sh)"/><circle cx="263.4" cy="119.8" r="4.9" fill="url(#sc)"/><circle cx="166.6" cy="150.7" r="4.9" fill="url(#sh)"/><circle cx="145.2" cy="147.1" r="4.9" fill="url(#sh)"/><circle cx="315.3" cy="112.1" r="4.9" fill="url(#sc)"/><circle cx="324.6" cy="108.0" r="4.9" fill="url(#sG)"/><circle cx="332.2" cy="143.0" r="4.9" fill="url(#sh)"/><circle cx="378.5" cy="151.2" r="4.9" fill="url(#sh)"/><circle cx="306.9" cy="113.3" r="4.9" fill="url(#sc)"/><circle cx="156.3" cy="149.1" r="4.9" fill="url(#sh)"/><circle cx="230.2" cy="124.2" r="4.9" fill="url(#sc)"/><circle cx="103.2" cy="149.1" r="4.9" fill="url(#sh)"/><circle cx="148.1" cy="134.9" r="4.9" fill="url(#sc)"/><circle cx="344.2" cy="131.9" r="4.9" fill="url(#sh)"/><circle cx="294.3" cy="111.1" r="4.9" fill="url(#sG)"/><circle cx="203.4" cy="147.6" r="4.9" fill="url(#sh)"/><circle cx="296.6" cy="119.9" r="4.9" fill="url(#sc)"/><circle cx="179.7" cy="116.2" r="4.9" fill="url(#sy)"/><circle cx="288.0" cy="120.1" r="4.9" fill="url(#sc)"/><circle cx="273.5" cy="130.1" r="4.9" fill="url(#sb)"/><circle cx="199.7" cy="106.4" r="4.9" fill="url(#sy)"/><circle cx="157.4" cy="122.5" r="4.9" fill="url(#sy)"/><circle cx="123.3" cy="150.1" r="4.9" fill="url(#sh)"/><circle cx="189.2" cy="109.9" r="4.9" fill="url(#sr)"/><circle cx="354.6" cy="138.7" r="4.9" fill="url(#sh)"/><circle cx="111.8" cy="148.8" r="4.9" fill="url(#sh)"/><circle cx="359.3" cy="149.8" r="4.9" fill="url(#sh)"/><circle cx="232.9" cy="114.1" r="4.9" fill="url(#sG)"/><circle cx="205.6" cy="119.4" r="4.9" fill="url(#sG)"/><circle cx="209.0" cy="128.8" r="4.9" fill="url(#sc)"/><circle cx="136.3" cy="148.7" r="4.9" fill="url(#sh)"/><circle cx="360.7" cy="132.7" r="4.9" fill="url(#sh)"/><circle cx="217.7" cy="130.0" r="4.9" fill="url(#sb)"/><circle cx="192.9" cy="150.9" r="4.9" fill="url(#sh)"/><circle cx="369.0" cy="130.9" r="4.9" fill="url(#sh)"/><circle cx="271.8" cy="144.6" r="4.9" fill="url(#sh)"/><circle cx="349.8" cy="151.1" r="4.9" fill="url(#sh)"/><circle cx="285.0" cy="102.7" r="4.9" fill="url(#sy)"/><circle cx="240.3" cy="109.4" r="4.9" fill="url(#sG)"/><circle cx="220.0" cy="119.3" r="4.9" fill="url(#sc)"/><circle cx="250.8" cy="124.1" r="4.9" fill="url(#sb)"/><circle cx="138.5" cy="134.9" r="4.9" fill="url(#sc)"/><circle cx="224.1" cy="148.0" r="4.9" fill="url(#sh)"/><circle cx="322.6" cy="147.5" r="4.9" fill="url(#sh)"/><circle cx="271.6" cy="105.5" r="4.9" fill="url(#sy)"/><circle cx="92.1" cy="149.8" r="4.9" fill="url(#sh)"/><circle cx="324.0" cy="127.7" r="4.9" fill="url(#sb)"/><circle cx="127.1" cy="142.3" r="4.9" fill="url(#sh)"/><circle cx="335.7" cy="150.9" r="4.9" fill="url(#sh)"/><circle cx="169.5" cy="112.0" r="4.9" fill="url(#sr)"/><circle cx="213.4" cy="107.5" r="4.9" fill="url(#sy)"/><circle cx="300.5" cy="128.4" r="4.9" fill="url(#sb)"/><circle cx="198.4" cy="115.0" r="4.9" fill="url(#sy)"/><circle cx="305.5" cy="140.0" r="4.9" fill="url(#sh)"/><circle cx="297.2" cy="103.2" r="4.9" fill="url(#sG)"/><circle cx="238.1" cy="129.5" r="4.9" fill="url(#sb)"/><circle cx="112.9" cy="139.9" r="4.9" fill="url(#sh)"/><circle cx="208.6" cy="137.4" r="4.9" fill="url(#sb)"/><circle cx="334.8" cy="115.6" r="4.9" fill="url(#sc)"/><circle cx="314.5" cy="142.8" r="4.9" fill="url(#sh)"/><circle cx="248.2" cy="101.7" r="4.9" fill="url(#sy)"/><circle cx="326.2" cy="137.1" r="4.9" fill="url(#sh)"/><circle cx="245.5" cy="139.7" r="4.9" fill="url(#sh)"/><circle cx="283.5" cy="136.8" r="4.9" fill="url(#sh)"/><circle cx="293.1" cy="139.9" r="4.9" fill="url(#sh)"/><circle cx="133.7" cy="127.4" r="4.9" fill="url(#sG)"/><circle cx="147.2" cy="123.1" r="4.9" fill="url(#sy)"/><circle cx="214.3" cy="144.1" r="4.9" fill="url(#sh)"/><circle cx="232.8" cy="137.7" r="4.9" fill="url(#sh)"/><circle cx="338.4" cy="124.4" r="4.9" fill="url(#sb)"/><circle cx="255.8" cy="138.0" r="4.9" fill="url(#sh)"/><circle cx="267.3" cy="135.8" r="4.9" fill="url(#sh)"/><circle cx="308.6" cy="104.6" r="4.9" fill="url(#sG)"/><circle cx="392.6" cy="150.9" r="4.9" fill="url(#sh)"/><circle cx="309.0" cy="121.8" r="4.9" fill="url(#sc)"/><circle cx="342.9" cy="144.0" r="4.9" fill="url(#sh)"/><circle cx="351.6" cy="126.8" r="4.9" fill="url(#sb)"/><circle cx="182.2" cy="125.3" r="4.9" fill="url(#sy)"/><circle cx="175.3" cy="133.5" r="4.9" fill="url(#sc)"/><circle cx="345.3" cy="116.8" r="4.9" fill="url(#sc)"/><circle cx="162.9" cy="141.2" r="4.9" fill="url(#sh)"/><circle cx="200.1" cy="137.3" r="4.9" fill="url(#sb)"/><circle cx="281.1" cy="112.8" r="4.9" fill="url(#sG)"/><circle cx="156.6" cy="135.0" r="4.9" fill="url(#sc)"/><circle cx="166.0" cy="129.0" r="4.9" fill="url(#sG)"/><circle cx="252.0" cy="146.5" r="4.9" fill="url(#sh)"/><circle cx="172.0" cy="121.3" r="4.9" fill="url(#sy)"/><circle cx="186.0" cy="143.9" r="4.9" fill="url(#sh)"/><circle cx="360.2" cy="122.6" r="4.9" fill="url(#sb)"/><circle cx="281.2" cy="125.1" r="4.9" fill="url(#sb)"/><circle cx="239.6" cy="100.1" r="4.9" fill="url(#sy)"/><circle cx="249.2" cy="110.6" r="4.9" fill="url(#sG)"/><circle cx="299.3" cy="145.8" r="4.9" fill="url(#sh)"/><circle cx="237.3" cy="149.0" r="4.9" fill="url(#sh)"/><circle cx="123.8" cy="131.9" r="4.9" fill="url(#sc)"/><circle cx="258.1" cy="113.0" r="4.9" fill="url(#sG)"/><circle cx="189.2" cy="133.0" r="4.9" fill="url(#sc)"/><circle cx="160.9" cy="114.7" r="4.9" fill="url(#sr)"/><circle cx="377.5" cy="136.4" r="4.9" fill="url(#sh)"/><circle cx="260.2" cy="104.4" r="4.9" fill="url(#sy)"/><circle cx="309.6" cy="150.8" r="4.9" fill="url(#sh)"/><circle cx="261.3" cy="128.2" r="4.9" fill="url(#sb)"/><circle cx="194.0" cy="123.2" r="4.9" fill="url(#sG)"/><circle cx="177.6" cy="145.1" r="4.9" fill="url(#sh)"/><circle cx="293.1" cy="151.4" r="4.9" fill="url(#sh)"/><circle cx="230.5" cy="104.0" r="4.9" fill="url(#sy)"/><circle cx="385.2" cy="142.2" r="4.9" fill="url(#sh)"/><circle cx="371.7" cy="145.2" r="4.9" fill="url(#sh)"/><circle cx="274.0" cy="117.9" r="4.9" fill="url(#sc)"/><circle cx="317.3" cy="134.4" r="4.9" fill="url(#sh)"/><circle cx="242.4" cy="120.3" r="4.9" fill="url(#sc)"/><circle cx="284.7" cy="148.6" r="4.9" fill="url(#sh)"/><circle cx="289.3" cy="130.0" r="4.9" fill="url(#sb)"/><circle cx="222.9" cy="138.8" r="4.9" fill="url(#sh)"/><circle cx="270.0" cy="97.0" r="4.9" fill="url(#sy)"/><circle cx="363.6" cy="140.7" r="4.9" fill="url(#sh)"/><circle cx="324.2" cy="116.6" r="4.9" fill="url(#sc)"/><circle cx="207.4" cy="101.2" r="4.9" fill="url(#sy)"/><circle cx="262.6" cy="143.5" r="4.9" fill="url(#sh)"/><circle cx="222.2" cy="107.6" r="4.9" fill="url(#sy)"/><circle cx="77.2" cy="151.2" r="4.9" fill="url(#sh)"/><circle cx="83.6" cy="144.8" r="4.9" fill="url(#sh)"/><circle cx="91.8" cy="139.7" r="4.9" fill="url(#sh)"/><circle cx="99.5" cy="136.4" r="4.9" fill="url(#sh)"/><circle cx="106.5" cy="131.1" r="4.9" fill="url(#sh)"/><circle cx="113.8" cy="126.4" r="4.9" fill="url(#sG)"/><circle cx="121.0" cy="122.1" r="4.9" fill="url(#sG)"/><circle cx="129.0" cy="119.0" r="4.9" fill="url(#sy)"/><circle cx="136.8" cy="115.0" r="4.9" fill="url(#sy)"/><circle cx="144.9" cy="112.0" r="4.9" fill="url(#sr)"/><circle cx="153.5" cy="108.4" r="4.9" fill="url(#sr)"/><circle cx="161.1" cy="105.8" r="4.9" fill="url(#sr)"/><circle cx="169.3" cy="103.1" r="4.9" fill="url(#sr)"/><circle cx="177.5" cy="100.4" r="4.9" fill="url(#sr)"/><circle cx="185.7" cy="97.7" r="4.9" fill="url(#sr)"/><circle cx="194.8" cy="96.4" r="4.9" fill="url(#sr)"/><circle cx="203.1" cy="93.6" r="4.9" fill="url(#sr)"/><circle cx="211.2" cy="92.6" r="4.9" fill="url(#sr)"/><circle cx="219.6" cy="91.4" r="4.9" fill="url(#sr)"/><circle cx="228.4" cy="90.6" r="4.9" fill="url(#sy)"/><circle cx="237.3" cy="89.8" r="4.9" fill="url(#sy)"/><circle cx="246.6" cy="89.1" r="4.9" fill="url(#sy)"/><circle cx="255.4" cy="89.2" r="4.9" fill="url(#sy)"/><circle cx="263.7" cy="89.0" r="4.9" fill="url(#sy)"/><circle cx="272.6" cy="88.9" r="4.9" fill="url(#sy)"/><circle cx="281.2" cy="89.9" r="4.9" fill="url(#sy)"/><circle cx="290.2" cy="91.9" r="4.9" fill="url(#sy)"/><circle cx="298.6" cy="93.7" r="4.9" fill="url(#sy)"/><circle cx="307.1" cy="95.1" r="4.9" fill="url(#sG)"/><circle cx="315.4" cy="96.7" r="4.9" fill="url(#sG)"/><circle cx="324.3" cy="99.1" r="4.9" fill="url(#sG)"/><circle cx="332.2" cy="102.4" r="4.9" fill="url(#sG)"/><circle cx="340.5" cy="104.8" r="4.9" fill="url(#sc)"/><circle cx="348.9" cy="108.3" r="4.9" fill="url(#sc)"/><circle cx="356.3" cy="111.1" r="4.9" fill="url(#sc)"/><circle cx="365.2" cy="115.1" r="4.9" fill="url(#sb)"/><circle cx="372.6" cy="119.4" r="4.9" fill="url(#sb)"/><circle cx="379.4" cy="125.8" r="4.9" fill="url(#sh)"/><circle cx="385.7" cy="130.7" r="4.9" fill="url(#sh)"/><circle cx="392.6" cy="136.7" r="4.9" fill="url(#sh)"/><circle cx="397.6" cy="143.9" r="4.9" fill="url(#sh)"/><circle cx="402.3" cy="150.6" r="4.9" fill="url(#sh)"/><path d="M44.9 256.6V78" stroke="#000" stroke-width="3.4" fill="none"/><path d="M44.9 70.4L40.2 79.8H49.6Z" fill="#000"/><path d="M43.2 254.8H464" stroke="#000" stroke-width="3.6" fill="none"/><path d="M473.5 254.8L461.5 249.8V259.8Z" fill="#000"/><path d="M116 246.5V261.5" stroke="#000" stroke-width="2"/><path d="M216 246.5V261.5" stroke="#000" stroke-width="2"/><path d="M316 246.5V261.5" stroke="#000" stroke-width="2"/><path d="M416 246.5V261.5" stroke="#000" stroke-width="2"/><path d="M37.3 158H50" stroke="#000" stroke-width="2"/><g font-family="'Liberation Serif',serif" font-size="16" fill="#000"><text x="48" y="280.4" text-anchor="middle">1.5</text><text x="116" y="280.4" text-anchor="middle">5.0</text><text x="216" y="280.4" text-anchor="middle">10.0</text><text x="316" y="280.4" text-anchor="middle">15.0</text><text x="416" y="280.4" text-anchor="middle">20.0</text><text x="33.5" y="163.3" text-anchor="end">5.0</text><text x="33.2" y="254.9" text-anchor="end">0</text><text transform="translate(6.6,62) scale(1.2,1)" font-style="italic" font-size="20">z</text><text x="23.6" y="62.6" font-size="16.5">[mm]</text><text transform="translate(484.6,263.6) scale(1.22,1)" font-style="italic" font-size="21">y</text><text x="505.8" y="266.5" font-size="16.5">[mm]</text></g><text x="277.5" y="320.5" text-anchor="middle" font-family="'Liberation Serif',serif" font-size="23" fill="#000">(<tspan font-weight="bold">c</tspan>)</text></g><text x="51.5" y="42.8" font-family="'Liberation Serif',serif" font-size="33.2" fill="#000"><tspan font-style="italic">t</tspan> = 5.97 s</text><g font-family="'Liberation Serif',serif" font-size="14.2" fill="#000"><circle cx="346" cy="14.4" r="5.2" fill="#b4aeae"/><text x="358" y="18.7">Base metal</text><circle cx="346" cy="36.8" r="5.2" fill="#ff0000"/><text x="358" y="41.1">Molten metal</text><circle cx="346" cy="59.2" r="5.2" fill="#000000"/><text x="358" y="63.5">Resolidified metal</text></g><rect x="412.4" y="330.9" width="54.8" height="124.4" fill="#fff" stroke="#000" stroke-width="1.2"/><text x="417" y="347.6" font-family="'Liberation Serif',serif" font-size="14" fill="#000"><tspan font-style="italic">u</tspan><tspan font-style="italic" font-size="10.5" dy="2.8" dx="0.3">x</tspan><tspan dy="-2.8" dx="1.5"> [m/s]</tspan></text><rect x="415.3" y="358.5" width="14.5" height="6.2" fill="#ff0000"/><rect x="415.3" y="364.4" width="14.5" height="11.9" fill="#ff6a00"/><rect x="415.3" y="376" width="14.5" height="11.9" fill="#ffb400"/><rect x="415.3" y="387.6" width="14.5" height="12.0" fill="#ffff00"/><rect x="415.3" y="399.3" width="14.5" height="11.2" fill="#00e620"/><rect x="415.3" y="410.2" width="14.5" height="12.4" fill="#00d41c"/><rect x="415.3" y="422.3" width="14.5" height="11.2" fill="#aaaaaa"/><rect x="415.3" y="433.2" width="14.5" height="11.9" fill="#00e8f0"/><rect x="415.3" y="444.8" width="14.5" height="6.1" fill="#0000ff"/><g font-family="'Liberation Sans',sans-serif" font-size="9.8" fill="#111" text-anchor="end"><text x="463.9" y="367.4">0.250</text><text x="463.9" y="379.2">0.200</text><text x="463.9" y="391.0">0.150</text><text x="463.9" y="402.8">0.100</text><text x="463.9" y="414.6">0.050</text><text x="463.9" y="426.4">0.001</text><text x="463.9" y="438.2">−0.001</text><text x="463.9" y="450.0">−0.050</text></g><rect x="386.9" y="667.6" width="70.9" height="110.9" fill="#fff" stroke="#000" stroke-width="1.2"/><text x="405" y="685.5" font-family="'Liberation Serif',serif" font-size="15.5" fill="#000"><tspan font-style="italic">T</tspan> [K]</text><rect x="391.5" y="693.1" width="20.3" height="8.8" fill="#ff0000"/><rect x="391.5" y="701.6" width="20.3" height="16.0" fill="#ffff00"/><rect x="391.5" y="717.3" width="20.3" height="17.0" fill="#00e81c"/><rect x="391.5" y="734" width="20.3" height="16.3" fill="#00e8f0"/><rect x="391.5" y="750" width="20.3" height="16.7" fill="#0000ff"/><rect x="391.5" y="766.4" width="20.3" height="8.4" fill="#aaaaaa"/><g font-family="'Liberation Sans',sans-serif" font-size="13.5" fill="#111" text-anchor="end"><text x="452.6" y="707.9">2200</text><text x="452.6" y="724.3">2100</text><text x="452.6" y="740.3">2000</text><text x="452.6" y="756.5">1900</text><text x="452.6" y="772.8">1750</text></g></svg></body></html>
